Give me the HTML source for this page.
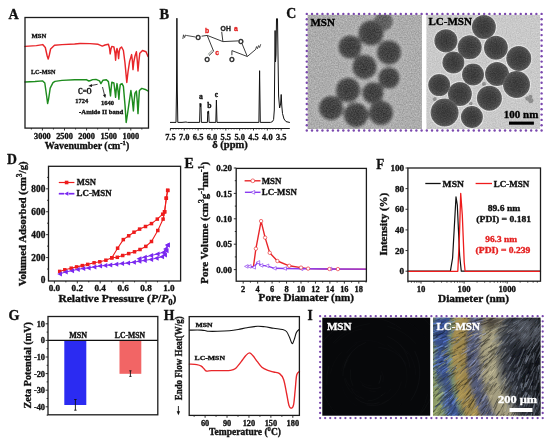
<!DOCTYPE html>
<html><head><meta charset="utf-8"><title>Figure</title>
<style>html,body{margin:0;padding:0;background:#fff;}body{width:550px;height:440px;overflow:hidden;}svg{display:block;}</style>
</head><body>
<svg width="550" height="440" viewBox="0 0 550 440" font-family="Liberation Serif, serif" font-weight="bold">
<rect width="550" height="440" fill="#fff"/>
<text x="8.5" y="18.8" font-size="14.3" text-anchor="start" fill="#111" textLength="10.2" lengthAdjust="spacingAndGlyphs"  stroke="#111" stroke-width="0.34">A</text>
<line x1="31.35" y1="128.1" x2="31.35" y2="129.5" stroke="#1c1c1c" stroke-width="0.9"/>
<line x1="53.45" y1="128.1" x2="53.45" y2="129.5" stroke="#1c1c1c" stroke-width="0.9"/>
<line x1="75.55" y1="128.1" x2="75.55" y2="129.5" stroke="#1c1c1c" stroke-width="0.9"/>
<line x1="97.65" y1="128.1" x2="97.65" y2="129.5" stroke="#1c1c1c" stroke-width="0.9"/>
<line x1="119.75" y1="128.1" x2="119.75" y2="129.5" stroke="#1c1c1c" stroke-width="0.9"/>
<line x1="141.85" y1="128.1" x2="141.85" y2="129.5" stroke="#1c1c1c" stroke-width="0.9"/>
<line x1="42.4" y1="128.1" x2="42.4" y2="130.5" stroke="#1c1c1c" stroke-width="0.9"/>
<text x="42.4" y="138.6" font-size="8.3" text-anchor="middle" fill="#111"  stroke="#111" stroke-width="0.34">3000</text>
<line x1="64.5" y1="128.1" x2="64.5" y2="130.5" stroke="#1c1c1c" stroke-width="0.9"/>
<text x="64.5" y="138.6" font-size="8.3" text-anchor="middle" fill="#111"  stroke="#111" stroke-width="0.34">2500</text>
<line x1="86.6" y1="128.1" x2="86.6" y2="130.5" stroke="#1c1c1c" stroke-width="0.9"/>
<text x="86.6" y="138.6" font-size="8.3" text-anchor="middle" fill="#111"  stroke="#111" stroke-width="0.34">2000</text>
<line x1="108.7" y1="128.1" x2="108.7" y2="130.5" stroke="#1c1c1c" stroke-width="0.9"/>
<text x="108.7" y="138.6" font-size="8.3" text-anchor="middle" fill="#111"  stroke="#111" stroke-width="0.34">1500</text>
<line x1="130.8" y1="128.1" x2="130.8" y2="130.5" stroke="#1c1c1c" stroke-width="0.9"/>
<text x="130.8" y="138.6" font-size="8.3" text-anchor="middle" fill="#111"  stroke="#111" stroke-width="0.34">1000</text>
<text x="87" y="148.7" font-size="10" text-anchor="middle" fill="#111" textLength="84.5" lengthAdjust="spacingAndGlyphs" stroke="#111" stroke-width="0.34">Wavenumber (cm<tspan dy="-3.8" font-size="6.8">-1</tspan><tspan dy="3.8">)</tspan></text>
<polyline points="25,46.4 36.4,45.6 42.7,44.6 45.3,47.5 47.2,56 48.2,59.1 49.3,55 50.6,49 54.5,45.2 62,44.6 74.6,44 80,43.5 90,43.6 98.2,44.3 102.3,46.1 105,45 108.4,44.3 109.5,48 110.2,53.9 111,49 111.8,46.4 113.9,47 115,53 115.6,60.3 116.3,52 117,48.4 118,53 118.6,58.6 119.3,51 120,48.4 121.6,47 123.4,50.5 125,63 126.8,82.5 128,72 129.6,61.4 131.6,54.6 132.3,60 133,69.6 133.8,62 135,56 136.4,51.8 137.2,60 138,71 138.8,62 139.8,53.2 142.5,50.5 146,51.8 148,56.5" fill="none" stroke="#e8262a" stroke-width="1.45" stroke-linejoin="round" stroke-linecap="round" />
<polyline points="25,82 35,81.5 42.7,80.9 44.8,83 46.5,95 47.6,103.5 48.6,99 50.2,88.2 53,82.7 55,81.4 62,80.4 74.6,79.8 86.2,79.6 88.9,81 90.5,80.5 92.7,79.6 96,79.4 99.5,80.9 100.9,83.6 103,80.2 106.4,79.8 108.4,81.6 109.7,90 110.5,95.9 111.2,88 111.8,82.3 113.9,83 115,92 115.6,97.3 116.3,89 117,83.6 118.2,92 118.9,99.3 119.6,90 120.3,84.3 122,83.6 123.4,86.4 125,105 126.2,122.5 127.5,114 128.9,104.1 130.9,90.5 132.3,100 133.4,110.9 134.2,100 135,93.2 136.4,91.1 137.3,102 138,113.6 138.8,100 139.4,90.5 141.8,88.4 146,89.8 148.4,91.1" fill="none" stroke="#1e8c1e" stroke-width="1.45" stroke-linejoin="round" stroke-linecap="round" />
<rect x="25" y="17.5" width="123.5" height="110.6" fill="none" stroke="#1c1c1c" stroke-width="1.3"/>
<text x="31.5" y="37.7" font-size="7.1" text-anchor="start" fill="#111" textLength="14.9" lengthAdjust="spacingAndGlyphs"  stroke="#111" stroke-width="0.34">MSN</text>
<text x="30.9" y="73.9" font-size="7.1" text-anchor="start" fill="#111" textLength="24.6" lengthAdjust="spacingAndGlyphs"  stroke="#111" stroke-width="0.34">LC-MSN</text>
<text x="78" y="93.7" font-size="7.2" text-anchor="start" fill="#111" textLength="13.6" lengthAdjust="spacingAndGlyphs"  stroke="#111" stroke-width="0.34">C=O</text>
<text x="75.3" y="102.9" font-size="7.0" text-anchor="start" fill="#111" textLength="12.8" lengthAdjust="spacingAndGlyphs"  stroke="#111" stroke-width="0.34">1724</text>
<text x="100.9" y="105.1" font-size="7.0" text-anchor="start" fill="#111" textLength="13.1" lengthAdjust="spacingAndGlyphs"  stroke="#111" stroke-width="0.34">1640</text>
<text x="79.1" y="114.2" font-size="7.0" text-anchor="start" fill="#111" textLength="44.2" lengthAdjust="spacingAndGlyphs"  stroke="#111" stroke-width="0.34">-Amide II band</text>
<line x1="97.6" y1="84.3" x2="90.6" y2="85.6" stroke="#111" stroke-width="0.8"/>
<polygon points="88.4,85.9 91.8,84.1 92.0,87.1" fill="#111"/>
<line x1="102.5" y1="87" x2="104.5" y2="95" stroke="#111" stroke-width="0.8"/>
<polygon points="105.3,97.9 102.9,94.9 106.0,94.2" fill="#111"/>
<text x="159.6" y="18.8" font-size="14.3" text-anchor="start" fill="#111" textLength="9.6" lengthAdjust="spacingAndGlyphs"  stroke="#111" stroke-width="0.34">B</text>
<line x1="170.1" y1="128.5" x2="289.8" y2="128.5" stroke="#1c1c1c" stroke-width="1.2"/>
<line x1="170.4" y1="128.5" x2="170.4" y2="130.5" stroke="#1c1c1c" stroke-width="0.9"/>
<text x="170.4" y="139.6" font-size="8.4" text-anchor="middle" fill="#111"  stroke="#111" stroke-width="0.34">7.5</text>
<line x1="173.17" y1="128.5" x2="173.17" y2="129.6" stroke="#1c1c1c" stroke-width="0.6"/>
<line x1="175.94" y1="128.5" x2="175.94" y2="129.6" stroke="#1c1c1c" stroke-width="0.6"/>
<line x1="178.71" y1="128.5" x2="178.71" y2="129.6" stroke="#1c1c1c" stroke-width="0.6"/>
<line x1="181.48" y1="128.5" x2="181.48" y2="129.6" stroke="#1c1c1c" stroke-width="0.6"/>
<line x1="184.25" y1="128.5" x2="184.25" y2="130.5" stroke="#1c1c1c" stroke-width="0.9"/>
<text x="184.25" y="139.6" font-size="8.4" text-anchor="middle" fill="#111"  stroke="#111" stroke-width="0.34">7.0</text>
<line x1="187.02" y1="128.5" x2="187.02" y2="129.6" stroke="#1c1c1c" stroke-width="0.6"/>
<line x1="189.79" y1="128.5" x2="189.79" y2="129.6" stroke="#1c1c1c" stroke-width="0.6"/>
<line x1="192.56" y1="128.5" x2="192.56" y2="129.6" stroke="#1c1c1c" stroke-width="0.6"/>
<line x1="195.33" y1="128.5" x2="195.33" y2="129.6" stroke="#1c1c1c" stroke-width="0.6"/>
<line x1="198.1" y1="128.5" x2="198.1" y2="130.5" stroke="#1c1c1c" stroke-width="0.9"/>
<text x="198.1" y="139.6" font-size="8.4" text-anchor="middle" fill="#111"  stroke="#111" stroke-width="0.34">6.5</text>
<line x1="200.87" y1="128.5" x2="200.87" y2="129.6" stroke="#1c1c1c" stroke-width="0.6"/>
<line x1="203.64" y1="128.5" x2="203.64" y2="129.6" stroke="#1c1c1c" stroke-width="0.6"/>
<line x1="206.41" y1="128.5" x2="206.41" y2="129.6" stroke="#1c1c1c" stroke-width="0.6"/>
<line x1="209.18" y1="128.5" x2="209.18" y2="129.6" stroke="#1c1c1c" stroke-width="0.6"/>
<line x1="211.95" y1="128.5" x2="211.95" y2="130.5" stroke="#1c1c1c" stroke-width="0.9"/>
<text x="211.95" y="139.6" font-size="8.4" text-anchor="middle" fill="#111"  stroke="#111" stroke-width="0.34">6.0</text>
<line x1="214.72" y1="128.5" x2="214.72" y2="129.6" stroke="#1c1c1c" stroke-width="0.6"/>
<line x1="217.49" y1="128.5" x2="217.49" y2="129.6" stroke="#1c1c1c" stroke-width="0.6"/>
<line x1="220.26" y1="128.5" x2="220.26" y2="129.6" stroke="#1c1c1c" stroke-width="0.6"/>
<line x1="223.03" y1="128.5" x2="223.03" y2="129.6" stroke="#1c1c1c" stroke-width="0.6"/>
<line x1="225.8" y1="128.5" x2="225.8" y2="130.5" stroke="#1c1c1c" stroke-width="0.9"/>
<text x="225.8" y="139.6" font-size="8.4" text-anchor="middle" fill="#111"  stroke="#111" stroke-width="0.34">5.5</text>
<line x1="228.57" y1="128.5" x2="228.57" y2="129.6" stroke="#1c1c1c" stroke-width="0.6"/>
<line x1="231.34" y1="128.5" x2="231.34" y2="129.6" stroke="#1c1c1c" stroke-width="0.6"/>
<line x1="234.11" y1="128.5" x2="234.11" y2="129.6" stroke="#1c1c1c" stroke-width="0.6"/>
<line x1="236.88" y1="128.5" x2="236.88" y2="129.6" stroke="#1c1c1c" stroke-width="0.6"/>
<line x1="239.65" y1="128.5" x2="239.65" y2="130.5" stroke="#1c1c1c" stroke-width="0.9"/>
<text x="239.65" y="139.6" font-size="8.4" text-anchor="middle" fill="#111"  stroke="#111" stroke-width="0.34">5.0</text>
<line x1="242.42" y1="128.5" x2="242.42" y2="129.6" stroke="#1c1c1c" stroke-width="0.6"/>
<line x1="245.19" y1="128.5" x2="245.19" y2="129.6" stroke="#1c1c1c" stroke-width="0.6"/>
<line x1="247.96" y1="128.5" x2="247.96" y2="129.6" stroke="#1c1c1c" stroke-width="0.6"/>
<line x1="250.73" y1="128.5" x2="250.73" y2="129.6" stroke="#1c1c1c" stroke-width="0.6"/>
<line x1="253.5" y1="128.5" x2="253.5" y2="130.5" stroke="#1c1c1c" stroke-width="0.9"/>
<text x="253.5" y="139.6" font-size="8.4" text-anchor="middle" fill="#111"  stroke="#111" stroke-width="0.34">4.5</text>
<line x1="256.27" y1="128.5" x2="256.27" y2="129.6" stroke="#1c1c1c" stroke-width="0.6"/>
<line x1="259.04" y1="128.5" x2="259.04" y2="129.6" stroke="#1c1c1c" stroke-width="0.6"/>
<line x1="261.81" y1="128.5" x2="261.81" y2="129.6" stroke="#1c1c1c" stroke-width="0.6"/>
<line x1="264.58" y1="128.5" x2="264.58" y2="129.6" stroke="#1c1c1c" stroke-width="0.6"/>
<line x1="267.35" y1="128.5" x2="267.35" y2="130.5" stroke="#1c1c1c" stroke-width="0.9"/>
<text x="267.35" y="139.6" font-size="8.4" text-anchor="middle" fill="#111"  stroke="#111" stroke-width="0.34">4.0</text>
<line x1="270.12" y1="128.5" x2="270.12" y2="129.6" stroke="#1c1c1c" stroke-width="0.6"/>
<line x1="272.89" y1="128.5" x2="272.89" y2="129.6" stroke="#1c1c1c" stroke-width="0.6"/>
<line x1="275.66" y1="128.5" x2="275.66" y2="129.6" stroke="#1c1c1c" stroke-width="0.6"/>
<line x1="278.43" y1="128.5" x2="278.43" y2="129.6" stroke="#1c1c1c" stroke-width="0.6"/>
<line x1="281.2" y1="128.5" x2="281.2" y2="130.5" stroke="#1c1c1c" stroke-width="0.9"/>
<text x="281.2" y="139.6" font-size="8.4" text-anchor="middle" fill="#111"  stroke="#111" stroke-width="0.34">3.5</text>
<text x="230" y="147.7" font-size="10.5" text-anchor="middle" fill="#111" textLength="35.6" lengthAdjust="spacingAndGlyphs"  stroke="#111" stroke-width="0.34">δ (ppm)</text>
<polyline points="170.4,122.4 176,122.4 176.5,90 176.9,18.2 177.3,90 177.8,122.4 182,122.4 186,122 187.5,122.4 199.6,122.4 200.1,103.3 200.5,107 200.9,103.6 201.4,122.4 207.4,122.4 207.8,111.5 208.2,113.5 208.6,110.9 209.1,122.4 215.8,122.4 216.4,100 217,122.4 258.9,122.4 259.6,70.7 260.3,122.4 270.5,122.4 272.5,121.6 273.6,119.5 274.3,110 274.8,60 275.1,30.5 275.5,62 276,55 276.5,18.7 277.5,18.7 278,55 278.6,96 279.6,108 280.6,104 281.2,94.5 281.8,106 282.5,113.5 284,119 286,121.6 289.5,122.4" fill="none" stroke="#111" stroke-width="1.0" stroke-linejoin="round" stroke-linecap="round" />
<polyline points="182.9,38.6 183.5,34.8 184.6,37.6 185.5,35 186.6,35.5 194.9,36.9" fill="none" stroke="#3a3a3a" stroke-width="0.9" stroke-linejoin="round" stroke-linecap="round" />
<text x="198.2" y="39.7" font-size="6.8" text-anchor="middle" fill="#222" font-family="Liberation Sans, sans-serif" stroke="#222" stroke-width="0.34">O</text>
<line x1="201.6" y1="36.2" x2="207.2" y2="35.4" stroke="#3a3a3a" stroke-width="1.0"/>
<line x1="207.2" y1="35.4" x2="222.9" y2="41.6" stroke="#3a3a3a" stroke-width="1.0"/>
<line x1="207.2" y1="35.4" x2="213.6" y2="51.2" stroke="#3a3a3a" stroke-width="1.0"/>
<line x1="213.6" y1="51.2" x2="209" y2="55.6" stroke="#3a3a3a" stroke-width="1.0"/>
<line x1="212.4" y1="50.1" x2="207.9" y2="54.5" stroke="#6a7a70" stroke-width="0.8"/>
<text x="207.1" y="61.7" font-size="6.8" text-anchor="middle" fill="#222" font-family="Liberation Sans, sans-serif" stroke="#222" stroke-width="0.34">O</text>
<line x1="222.9" y1="41.6" x2="221.7" y2="31.8" stroke="#3a3a3a" stroke-width="1.0"/>
<text x="220.6" y="30.7" font-size="6.8" text-anchor="start" fill="#222" font-family="Liberation Sans, sans-serif" stroke="#222" stroke-width="0.34">OH</text>
<line x1="222.9" y1="41.6" x2="238.4" y2="40.9" stroke="#3a3a3a" stroke-width="1.0"/>
<text x="240.9" y="43.5" font-size="6.8" text-anchor="middle" fill="#222" font-family="Liberation Sans, sans-serif" stroke="#222" stroke-width="0.34">O</text>
<line x1="242" y1="43.6" x2="247.3" y2="56.5" stroke="#3a3a3a" stroke-width="1.0"/>
<line x1="247.3" y1="56.5" x2="231.9" y2="50.6" stroke="#3a3a3a" stroke-width="1.0"/>
<line x1="231.9" y1="50.6" x2="231.9" y2="55.2" stroke="#3a3a3a" stroke-width="1.0"/>
<text x="231.9" y="62.3" font-size="6.8" text-anchor="middle" fill="#222" font-family="Liberation Sans, sans-serif" stroke="#222" stroke-width="0.34">O</text>
<line x1="247.3" y1="56.5" x2="255.6" y2="49.5" stroke="#3a3a3a" stroke-width="1.0"/>
<polyline points="255.6,49.5 256.5,46.6 257.5,48.7 258.5,45.6 259.6,47.5 260.6,44.6" fill="none" stroke="#3a3a3a" stroke-width="0.9" stroke-linejoin="round" stroke-linecap="round" />
<text x="205" y="32.8" font-size="6.8" text-anchor="start" fill="#e52121" font-family="Liberation Sans, sans-serif" stroke="#e52121" stroke-width="0.34">b</text>
<text x="234" y="30.7" font-size="6.8" text-anchor="start" fill="#e52121" font-family="Liberation Sans, sans-serif" stroke="#e52121" stroke-width="0.34">a</text>
<text x="215.3" y="54.9" font-size="6.8" text-anchor="start" fill="#e52121" font-family="Liberation Sans, sans-serif" stroke="#e52121" stroke-width="0.34">c</text>
<text x="200.9" y="99.2" font-size="7.6" text-anchor="middle" fill="#111"  stroke="#111" stroke-width="0.34">a</text>
<text x="209.3" y="108.2" font-size="7.6" text-anchor="middle" fill="#111"  stroke="#111" stroke-width="0.34">b</text>
<text x="216.5" y="97" font-size="7.6" text-anchor="middle" fill="#111"  stroke="#111" stroke-width="0.34">c</text>
<text x="286.2" y="17.6" font-size="14.3" text-anchor="start" fill="#111" textLength="10" lengthAdjust="spacingAndGlyphs"  stroke="#111" stroke-width="0.34">C</text>
<defs>
<filter id="grL" x="0" y="0" width="100%" height="100%" color-interpolation-filters="sRGB"><feTurbulence type="fractalNoise" baseFrequency="0.75" numOctaves="2" seed="7" result="n"/><feColorMatrix in="n" type="matrix" values="1 0 0 0 0  1 0 0 0 0  1 0 0 0 0  0 0 0 0 1" result="ng"/><feComposite in="SourceGraphic" in2="ng" operator="arithmetic" k1="0" k2="1" k3="0.26" k4="-0.13"/></filter>
<filter id="grR" x="0" y="0" width="100%" height="100%" color-interpolation-filters="sRGB"><feTurbulence type="fractalNoise" baseFrequency="0.8" numOctaves="2" seed="11" result="n"/><feColorMatrix in="n" type="matrix" values="1 0 0 0 0  1 0 0 0 0  1 0 0 0 0  0 0 0 0 1" result="ng"/><feComposite in="SourceGraphic" in2="ng" operator="arithmetic" k1="0" k2="1" k3="0.16" k4="-0.08"/></filter>
<filter id="bl1" x="-10%" y="-10%" width="120%" height="120%"><feGaussianBlur stdDeviation="1.7"/></filter>
<filter id="bl2" x="-10%" y="-10%" width="120%" height="120%"><feGaussianBlur stdDeviation="0.55"/></filter>
<radialGradient id="gl"><stop offset="0" stop-color="#3a3a3a"/><stop offset="0.55" stop-color="#424242"/><stop offset="0.85" stop-color="#4f4f4f"/><stop offset="1" stop-color="#646464"/></radialGradient>
<radialGradient id="gmm"><stop offset="0" stop-color="#3e3e3e"/><stop offset="0.7" stop-color="#474747"/><stop offset="1" stop-color="#585858"/></radialGradient>
</defs>
<svg x="307.5" y="14.8" width="114.3" height="114.2" overflow="hidden"><g filter="url(#grL)">
<rect width="100%" height="100%" fill="#acacac"/>
<g filter="url(#bl1)">
<circle cx="76" cy="6.7" r="12.2" fill="#bdbdbd" opacity="0.75"/>
<circle cx="63.5" cy="18.2" r="15.4" fill="#bdbdbd" opacity="1"/>
<circle cx="42.5" cy="32.2" r="14.4" fill="#bdbdbd" opacity="1"/>
<circle cx="81.5" cy="37.7" r="14.9" fill="#bdbdbd" opacity="1"/>
<circle cx="57" cy="52.2" r="14.9" fill="#bdbdbd" opacity="1"/>
<circle cx="81.5" cy="63.2" r="13.4" fill="#bdbdbd" opacity="1"/>
<circle cx="40.5" cy="75.2" r="14.9" fill="#bdbdbd" opacity="1"/>
<circle cx="65.5" cy="78.2" r="13.4" fill="#bdbdbd" opacity="1"/>
<circle cx="23.5" cy="93.2" r="14.9" fill="#bdbdbd" opacity="1"/>
<circle cx="48.5" cy="100.2" r="14.9" fill="#bdbdbd" opacity="1"/>
<circle cx="73.5" cy="98.2" r="14.9" fill="#bdbdbd" opacity="1"/>
<circle cx="76" cy="6.7" r="10" fill="url(#gmm)" opacity="0.75"/>
<circle cx="63.5" cy="18.2" r="13.2" fill="url(#gmm)" opacity="1"/>
<circle cx="42.5" cy="32.2" r="12.2" fill="url(#gmm)" opacity="1"/>
<circle cx="81.5" cy="37.7" r="12.7" fill="url(#gmm)" opacity="1"/>
<circle cx="57" cy="52.2" r="12.7" fill="url(#gmm)" opacity="1"/>
<circle cx="81.5" cy="63.2" r="11.2" fill="url(#gmm)" opacity="1"/>
<circle cx="40.5" cy="75.2" r="12.7" fill="url(#gmm)" opacity="1"/>
<circle cx="65.5" cy="78.2" r="11.2" fill="url(#gmm)" opacity="1"/>
<circle cx="23.5" cy="93.2" r="12.7" fill="url(#gmm)" opacity="1"/>
<circle cx="48.5" cy="100.2" r="12.7" fill="url(#gmm)" opacity="1"/>
<circle cx="73.5" cy="98.2" r="12.7" fill="url(#gmm)" opacity="1"/>
</g></g></svg>
<svg x="426.4" y="14.8" width="113.8" height="114.2" overflow="hidden"><g filter="url(#grR)">
<rect width="100%" height="100%" fill="#c9c9c9"/>
<g filter="url(#bl2)">
<circle cx="104.4" cy="85.8" r="2.6" fill="#8e8e8e"/>
<circle cx="101.1" cy="83.7" r="2.2" fill="#8e8e8e"/>
<circle cx="57.6" cy="69.2" r="2" fill="#8e8e8e"/>
<circle cx="8.4" cy="84.5" r="2" fill="#8e8e8e"/>
<circle cx="44.4" cy="88.8" r="1.8" fill="#8e8e8e"/>
<circle cx="104.1" cy="82" r="2" fill="#8e8e8e"/>
<circle cx="57.5" cy="12.2" r="13" fill="#e4e4e4"/>
<circle cx="19.5" cy="26" r="12.6" fill="#e4e4e4"/>
<circle cx="43.3" cy="32.5" r="13" fill="#e4e4e4"/>
<circle cx="69.5" cy="32.9" r="13" fill="#e4e4e4"/>
<circle cx="92.4" cy="43.7" r="13.5" fill="#e4e4e4"/>
<circle cx="27" cy="47.7" r="12" fill="#e4e4e4"/>
<circle cx="46.6" cy="59.7" r="12" fill="#e4e4e4"/>
<circle cx="70.6" cy="59.2" r="13" fill="#e4e4e4"/>
<circle cx="90.1" cy="69.7" r="14.5" fill="#e4e4e4"/>
<circle cx="12.8" cy="70.3" r="12" fill="#e4e4e4"/>
<circle cx="33.5" cy="79.2" r="13" fill="#e4e4e4"/>
<circle cx="63" cy="83.4" r="13.5" fill="#e4e4e4"/>
<circle cx="18.2" cy="97.8" r="15" fill="#e4e4e4"/>
<circle cx="45.5" cy="102.2" r="12" fill="#e4e4e4"/>
<circle cx="57.5" cy="12.2" r="12" fill="url(#gl)"/>
<circle cx="19.5" cy="26" r="11.6" fill="url(#gl)"/>
<circle cx="43.3" cy="32.5" r="12" fill="url(#gl)"/>
<circle cx="69.5" cy="32.9" r="12" fill="url(#gl)"/>
<circle cx="92.4" cy="43.7" r="12.5" fill="url(#gl)"/>
<circle cx="27" cy="47.7" r="11" fill="url(#gl)"/>
<circle cx="46.6" cy="59.7" r="11" fill="url(#gl)"/>
<circle cx="70.6" cy="59.2" r="12" fill="url(#gl)"/>
<circle cx="90.1" cy="69.7" r="13.5" fill="url(#gl)"/>
<circle cx="12.8" cy="70.3" r="11" fill="url(#gl)"/>
<circle cx="33.5" cy="79.2" r="12" fill="url(#gl)"/>
<circle cx="63" cy="83.4" r="12.5" fill="url(#gl)"/>
<circle cx="18.2" cy="97.8" r="14" fill="url(#gl)"/>
<circle cx="45.5" cy="102.2" r="11" fill="url(#gl)"/>
</g></g></svg>
<text x="310.5" y="25.6" font-size="10.8" text-anchor="start" fill="#000" textLength="24.4" lengthAdjust="spacingAndGlyphs"  stroke="#000" stroke-width="0.34">MSN</text>
<text x="428.4" y="24.8" font-size="10.8" text-anchor="start" fill="#000" textLength="43.5" lengthAdjust="spacingAndGlyphs"  stroke="#000" stroke-width="0.34">LC-MSN</text>
<text x="521.1" y="118.3" font-size="10.2" text-anchor="middle" fill="#000" textLength="34.5" lengthAdjust="spacingAndGlyphs"  stroke="#000" stroke-width="0.34">100 nm</text>
<rect x="509" y="121.6" width="24.9" height="3.1" fill="#000"/>
<g fill="#7a48ae"><circle cx="306.8" cy="13.9" r="1.2"/><circle cx="306.8" cy="130.5" r="1.2"/><circle cx="312.02" cy="13.9" r="1.2"/><circle cx="312.02" cy="130.5" r="1.2"/><circle cx="317.24" cy="13.9" r="1.2"/><circle cx="317.24" cy="130.5" r="1.2"/><circle cx="322.45" cy="13.9" r="1.2"/><circle cx="322.45" cy="130.5" r="1.2"/><circle cx="327.67" cy="13.9" r="1.2"/><circle cx="327.67" cy="130.5" r="1.2"/><circle cx="332.89" cy="13.9" r="1.2"/><circle cx="332.89" cy="130.5" r="1.2"/><circle cx="338.11" cy="13.9" r="1.2"/><circle cx="338.11" cy="130.5" r="1.2"/><circle cx="343.32" cy="13.9" r="1.2"/><circle cx="343.32" cy="130.5" r="1.2"/><circle cx="348.54" cy="13.9" r="1.2"/><circle cx="348.54" cy="130.5" r="1.2"/><circle cx="353.76" cy="13.9" r="1.2"/><circle cx="353.76" cy="130.5" r="1.2"/><circle cx="358.98" cy="13.9" r="1.2"/><circle cx="358.98" cy="130.5" r="1.2"/><circle cx="364.2" cy="13.9" r="1.2"/><circle cx="364.2" cy="130.5" r="1.2"/><circle cx="369.41" cy="13.9" r="1.2"/><circle cx="369.41" cy="130.5" r="1.2"/><circle cx="374.63" cy="13.9" r="1.2"/><circle cx="374.63" cy="130.5" r="1.2"/><circle cx="379.85" cy="13.9" r="1.2"/><circle cx="379.85" cy="130.5" r="1.2"/><circle cx="385.07" cy="13.9" r="1.2"/><circle cx="385.07" cy="130.5" r="1.2"/><circle cx="390.28" cy="13.9" r="1.2"/><circle cx="390.28" cy="130.5" r="1.2"/><circle cx="395.5" cy="13.9" r="1.2"/><circle cx="395.5" cy="130.5" r="1.2"/><circle cx="400.72" cy="13.9" r="1.2"/><circle cx="400.72" cy="130.5" r="1.2"/><circle cx="405.94" cy="13.9" r="1.2"/><circle cx="405.94" cy="130.5" r="1.2"/><circle cx="411.16" cy="13.9" r="1.2"/><circle cx="411.16" cy="130.5" r="1.2"/><circle cx="416.37" cy="13.9" r="1.2"/><circle cx="416.37" cy="130.5" r="1.2"/><circle cx="421.59" cy="13.9" r="1.2"/><circle cx="421.59" cy="130.5" r="1.2"/><circle cx="426.81" cy="13.9" r="1.2"/><circle cx="426.81" cy="130.5" r="1.2"/><circle cx="432.03" cy="13.9" r="1.2"/><circle cx="432.03" cy="130.5" r="1.2"/><circle cx="437.24" cy="13.9" r="1.2"/><circle cx="437.24" cy="130.5" r="1.2"/><circle cx="442.46" cy="13.9" r="1.2"/><circle cx="442.46" cy="130.5" r="1.2"/><circle cx="447.68" cy="13.9" r="1.2"/><circle cx="447.68" cy="130.5" r="1.2"/><circle cx="452.9" cy="13.9" r="1.2"/><circle cx="452.9" cy="130.5" r="1.2"/><circle cx="458.12" cy="13.9" r="1.2"/><circle cx="458.12" cy="130.5" r="1.2"/><circle cx="463.33" cy="13.9" r="1.2"/><circle cx="463.33" cy="130.5" r="1.2"/><circle cx="468.55" cy="13.9" r="1.2"/><circle cx="468.55" cy="130.5" r="1.2"/><circle cx="473.77" cy="13.9" r="1.2"/><circle cx="473.77" cy="130.5" r="1.2"/><circle cx="478.99" cy="13.9" r="1.2"/><circle cx="478.99" cy="130.5" r="1.2"/><circle cx="484.2" cy="13.9" r="1.2"/><circle cx="484.2" cy="130.5" r="1.2"/><circle cx="489.42" cy="13.9" r="1.2"/><circle cx="489.42" cy="130.5" r="1.2"/><circle cx="494.64" cy="13.9" r="1.2"/><circle cx="494.64" cy="130.5" r="1.2"/><circle cx="499.86" cy="13.9" r="1.2"/><circle cx="499.86" cy="130.5" r="1.2"/><circle cx="505.08" cy="13.9" r="1.2"/><circle cx="505.08" cy="130.5" r="1.2"/><circle cx="510.29" cy="13.9" r="1.2"/><circle cx="510.29" cy="130.5" r="1.2"/><circle cx="515.51" cy="13.9" r="1.2"/><circle cx="515.51" cy="130.5" r="1.2"/><circle cx="520.73" cy="13.9" r="1.2"/><circle cx="520.73" cy="130.5" r="1.2"/><circle cx="525.95" cy="13.9" r="1.2"/><circle cx="525.95" cy="130.5" r="1.2"/><circle cx="531.16" cy="13.9" r="1.2"/><circle cx="531.16" cy="130.5" r="1.2"/><circle cx="536.38" cy="13.9" r="1.2"/><circle cx="536.38" cy="130.5" r="1.2"/><circle cx="541.6" cy="13.9" r="1.2"/><circle cx="541.6" cy="130.5" r="1.2"/><circle cx="306.8" cy="19.2" r="1.2"/><circle cx="541.6" cy="19.2" r="1.2"/><circle cx="306.8" cy="24.5" r="1.2"/><circle cx="541.6" cy="24.5" r="1.2"/><circle cx="306.8" cy="29.8" r="1.2"/><circle cx="541.6" cy="29.8" r="1.2"/><circle cx="306.8" cy="35.1" r="1.2"/><circle cx="541.6" cy="35.1" r="1.2"/><circle cx="306.8" cy="40.4" r="1.2"/><circle cx="541.6" cy="40.4" r="1.2"/><circle cx="306.8" cy="45.7" r="1.2"/><circle cx="541.6" cy="45.7" r="1.2"/><circle cx="306.8" cy="51" r="1.2"/><circle cx="541.6" cy="51" r="1.2"/><circle cx="306.8" cy="56.3" r="1.2"/><circle cx="541.6" cy="56.3" r="1.2"/><circle cx="306.8" cy="61.6" r="1.2"/><circle cx="541.6" cy="61.6" r="1.2"/><circle cx="306.8" cy="66.9" r="1.2"/><circle cx="541.6" cy="66.9" r="1.2"/><circle cx="306.8" cy="72.2" r="1.2"/><circle cx="541.6" cy="72.2" r="1.2"/><circle cx="306.8" cy="77.5" r="1.2"/><circle cx="541.6" cy="77.5" r="1.2"/><circle cx="306.8" cy="82.8" r="1.2"/><circle cx="541.6" cy="82.8" r="1.2"/><circle cx="306.8" cy="88.1" r="1.2"/><circle cx="541.6" cy="88.1" r="1.2"/><circle cx="306.8" cy="93.4" r="1.2"/><circle cx="541.6" cy="93.4" r="1.2"/><circle cx="306.8" cy="98.7" r="1.2"/><circle cx="541.6" cy="98.7" r="1.2"/><circle cx="306.8" cy="104" r="1.2"/><circle cx="541.6" cy="104" r="1.2"/><circle cx="306.8" cy="109.3" r="1.2"/><circle cx="541.6" cy="109.3" r="1.2"/><circle cx="306.8" cy="114.6" r="1.2"/><circle cx="541.6" cy="114.6" r="1.2"/><circle cx="306.8" cy="119.9" r="1.2"/><circle cx="541.6" cy="119.9" r="1.2"/><circle cx="306.8" cy="125.2" r="1.2"/><circle cx="541.6" cy="125.2" r="1.2"/></g>
<text x="7" y="163.9" font-size="14.3" text-anchor="start" fill="#111" textLength="9.9" lengthAdjust="spacingAndGlyphs"  stroke="#111" stroke-width="0.34">D</text>
<line x1="65.85" y1="281" x2="65.85" y2="282.4" stroke="#1c1c1c" stroke-width="0.9"/>
<line x1="88.75" y1="281" x2="88.75" y2="282.4" stroke="#1c1c1c" stroke-width="0.9"/>
<line x1="111.65" y1="281" x2="111.65" y2="282.4" stroke="#1c1c1c" stroke-width="0.9"/>
<line x1="134.55" y1="281" x2="134.55" y2="282.4" stroke="#1c1c1c" stroke-width="0.9"/>
<line x1="157.45" y1="281" x2="157.45" y2="282.4" stroke="#1c1c1c" stroke-width="0.9"/>
<line x1="54.4" y1="281" x2="54.4" y2="283.4" stroke="#1c1c1c" stroke-width="0.9"/>
<text x="54.4" y="290.6" font-size="8.6" text-anchor="middle" fill="#111" textLength="11.4" lengthAdjust="spacingAndGlyphs"  stroke="#111" stroke-width="0.34">0.0</text>
<line x1="77.3" y1="281" x2="77.3" y2="283.4" stroke="#1c1c1c" stroke-width="0.9"/>
<text x="77.3" y="290.6" font-size="8.6" text-anchor="middle" fill="#111" textLength="11.4" lengthAdjust="spacingAndGlyphs"  stroke="#111" stroke-width="0.34">0.2</text>
<line x1="100.2" y1="281" x2="100.2" y2="283.4" stroke="#1c1c1c" stroke-width="0.9"/>
<text x="100.2" y="290.6" font-size="8.6" text-anchor="middle" fill="#111" textLength="11.4" lengthAdjust="spacingAndGlyphs"  stroke="#111" stroke-width="0.34">0.4</text>
<line x1="123.1" y1="281" x2="123.1" y2="283.4" stroke="#1c1c1c" stroke-width="0.9"/>
<text x="123.1" y="290.6" font-size="8.6" text-anchor="middle" fill="#111" textLength="11.4" lengthAdjust="spacingAndGlyphs"  stroke="#111" stroke-width="0.34">0.6</text>
<line x1="146" y1="281" x2="146" y2="283.4" stroke="#1c1c1c" stroke-width="0.9"/>
<text x="146" y="290.6" font-size="8.6" text-anchor="middle" fill="#111" textLength="11.4" lengthAdjust="spacingAndGlyphs"  stroke="#111" stroke-width="0.34">0.8</text>
<line x1="168.9" y1="281" x2="168.9" y2="283.4" stroke="#1c1c1c" stroke-width="0.9"/>
<text x="168.9" y="290.6" font-size="8.6" text-anchor="middle" fill="#111" textLength="11.4" lengthAdjust="spacingAndGlyphs"  stroke="#111" stroke-width="0.34">1.0</text>
<line x1="48.5" y1="269.04" x2="47.1" y2="269.04" stroke="#1c1c1c" stroke-width="0.9"/>
<line x1="48.5" y1="246.12" x2="47.1" y2="246.12" stroke="#1c1c1c" stroke-width="0.9"/>
<line x1="48.5" y1="223.2" x2="47.1" y2="223.2" stroke="#1c1c1c" stroke-width="0.9"/>
<line x1="48.5" y1="200.28" x2="47.1" y2="200.28" stroke="#1c1c1c" stroke-width="0.9"/>
<line x1="48.5" y1="177.36" x2="47.1" y2="177.36" stroke="#1c1c1c" stroke-width="0.9"/>
<line x1="48.5" y1="257.58" x2="46.1" y2="257.58" stroke="#1c1c1c" stroke-width="0.9"/>
<text x="45.3" y="260.78" font-size="9.3" text-anchor="end" fill="#111"  stroke="#111" stroke-width="0.34">200</text>
<line x1="48.5" y1="234.66" x2="46.1" y2="234.66" stroke="#1c1c1c" stroke-width="0.9"/>
<text x="45.3" y="237.86" font-size="9.3" text-anchor="end" fill="#111"  stroke="#111" stroke-width="0.34">400</text>
<line x1="48.5" y1="211.74" x2="46.1" y2="211.74" stroke="#1c1c1c" stroke-width="0.9"/>
<text x="45.3" y="214.94" font-size="9.3" text-anchor="end" fill="#111"  stroke="#111" stroke-width="0.34">600</text>
<line x1="48.5" y1="188.82" x2="46.1" y2="188.82" stroke="#1c1c1c" stroke-width="0.9"/>
<text x="45.3" y="192.02" font-size="9.3" text-anchor="end" fill="#111"  stroke="#111" stroke-width="0.34">800</text>
<text x="45.3" y="283.3" font-size="9.3" text-anchor="end" fill="#111"  stroke="#111" stroke-width="0.34">0</text>
<text x="117.4" y="302.3" font-size="10.7" text-anchor="middle" fill="#111" textLength="118" lengthAdjust="spacingAndGlyphs" stroke="#111" stroke-width="0.34">Relative Pressure (<tspan font-style="italic">P</tspan>/<tspan font-style="italic">P</tspan><tspan font-size="8" dy="2.6">0</tspan><tspan dy="-2.6">)</tspan></text>
<text x="25.8" y="223.8" font-size="10.7" text-anchor="middle" fill="#111" textLength="125" lengthAdjust="spacingAndGlyphs" transform="rotate(-90 25.8 223.8)" stroke="#111" stroke-width="0.34">Volumed Adsorbed (cm<tspan font-size="7.5" dy="-4">3</tspan><tspan dy="4">/g)</tspan></text>
<polyline points="59.7,271.4 64.8,269.8 71.2,268.2 76.6,266.9 82.3,265.6 87.7,264.4 94.1,262.8 99.8,261.8 105.9,260.2 111.8,257.8 117.3,257.3 122.7,255.5 128.7,253.6 134.5,251.8 140,249.5 145.8,246.4 151.5,241.5 157.8,230.5 163.1,219.1 164.7,211.8 166.3,198.2 167.7,190.4" fill="none" stroke="#ee1c1c" stroke-width="1.1" stroke-linejoin="round" stroke-linecap="round" />
<polyline points="111.8,257.8 117.6,248.2 123.3,239.6 128.7,235.8 134,232.2 139.6,229.1 145.5,226.5 151.5,223.6 157.3,219.1 162.7,214.2 164.5,211.8 166.3,198.2 167.7,190.4" fill="none" stroke="#ee1c1c" stroke-width="1.1" stroke-linejoin="round" stroke-linecap="round" />
<rect x="57.95" y="269.65" width="3.5" height="3.5" fill="#ee1c1c"/>
<rect x="63.05" y="268.05" width="3.5" height="3.5" fill="#ee1c1c"/>
<rect x="69.45" y="266.45" width="3.5" height="3.5" fill="#ee1c1c"/>
<rect x="74.85" y="265.15" width="3.5" height="3.5" fill="#ee1c1c"/>
<rect x="80.55" y="263.85" width="3.5" height="3.5" fill="#ee1c1c"/>
<rect x="85.95" y="262.65" width="3.5" height="3.5" fill="#ee1c1c"/>
<rect x="92.35" y="261.05" width="3.5" height="3.5" fill="#ee1c1c"/>
<rect x="98.05" y="260.05" width="3.5" height="3.5" fill="#ee1c1c"/>
<rect x="104.15" y="258.45" width="3.5" height="3.5" fill="#ee1c1c"/>
<rect x="110.05" y="256.05" width="3.5" height="3.5" fill="#ee1c1c"/>
<rect x="115.55" y="255.55" width="3.5" height="3.5" fill="#ee1c1c"/>
<rect x="120.95" y="253.75" width="3.5" height="3.5" fill="#ee1c1c"/>
<rect x="126.95" y="251.85" width="3.5" height="3.5" fill="#ee1c1c"/>
<rect x="132.75" y="250.05" width="3.5" height="3.5" fill="#ee1c1c"/>
<rect x="138.25" y="247.75" width="3.5" height="3.5" fill="#ee1c1c"/>
<rect x="144.05" y="244.65" width="3.5" height="3.5" fill="#ee1c1c"/>
<rect x="149.75" y="239.75" width="3.5" height="3.5" fill="#ee1c1c"/>
<rect x="156.05" y="228.75" width="3.5" height="3.5" fill="#ee1c1c"/>
<rect x="161.35" y="217.35" width="3.5" height="3.5" fill="#ee1c1c"/>
<rect x="162.95" y="210.05" width="3.5" height="3.5" fill="#ee1c1c"/>
<rect x="164.55" y="196.45" width="3.5" height="3.5" fill="#ee1c1c"/>
<rect x="165.95" y="188.65" width="3.5" height="3.5" fill="#ee1c1c"/>
<rect x="110.05" y="256.05" width="3.5" height="3.5" fill="#ee1c1c"/>
<rect x="115.85" y="246.45" width="3.5" height="3.5" fill="#ee1c1c"/>
<rect x="121.55" y="237.85" width="3.5" height="3.5" fill="#ee1c1c"/>
<rect x="126.95" y="234.05" width="3.5" height="3.5" fill="#ee1c1c"/>
<rect x="132.25" y="230.45" width="3.5" height="3.5" fill="#ee1c1c"/>
<rect x="137.85" y="227.35" width="3.5" height="3.5" fill="#ee1c1c"/>
<rect x="143.75" y="224.75" width="3.5" height="3.5" fill="#ee1c1c"/>
<rect x="149.75" y="221.85" width="3.5" height="3.5" fill="#ee1c1c"/>
<rect x="155.55" y="217.35" width="3.5" height="3.5" fill="#ee1c1c"/>
<rect x="160.95" y="212.45" width="3.5" height="3.5" fill="#ee1c1c"/>
<rect x="162.75" y="210.05" width="3.5" height="3.5" fill="#ee1c1c"/>
<rect x="164.55" y="196.45" width="3.5" height="3.5" fill="#ee1c1c"/>
<rect x="165.95" y="188.65" width="3.5" height="3.5" fill="#ee1c1c"/>
<polyline points="59.7,273.9 65.5,272 71.8,270.7 77.5,269.4 83,268.5 88.4,267.9 94.1,266.9 99.8,266 105,265.5 110,264.9 116,264.3 121.8,263.6 127.8,263 133.6,262.2 139.1,261.3 144.5,260.4 150.9,259.4 156.4,258.3 161.8,256.8 164.7,254.9 166.3,250.7 167.5,245.1" fill="none" stroke="#7a28f0" stroke-width="1.0" stroke-linejoin="round" stroke-linecap="round" />
<polyline points="139.1,258.7 144.5,257.2 150.9,255.6 157.3,254 163.1,252.4 165.5,249.1 167.5,245.1" fill="none" stroke="#7a28f0" stroke-width="1.0" stroke-linejoin="round" stroke-linecap="round" />
<polygon points="57.2,273.9 61.95,271.4 61.95,276.4" fill="#7a28f0"/>
<polygon points="63,272 67.75,269.5 67.75,274.5" fill="#7a28f0"/>
<polygon points="69.3,270.7 74.05,268.2 74.05,273.2" fill="#7a28f0"/>
<polygon points="75,269.4 79.75,266.9 79.75,271.9" fill="#7a28f0"/>
<polygon points="80.5,268.5 85.25,266 85.25,271" fill="#7a28f0"/>
<polygon points="85.9,267.9 90.65,265.4 90.65,270.4" fill="#7a28f0"/>
<polygon points="91.6,266.9 96.35,264.4 96.35,269.4" fill="#7a28f0"/>
<polygon points="97.3,266 102.05,263.5 102.05,268.5" fill="#7a28f0"/>
<polygon points="102.5,265.5 107.25,263 107.25,268" fill="#7a28f0"/>
<polygon points="107.5,264.9 112.25,262.4 112.25,267.4" fill="#7a28f0"/>
<polygon points="113.5,264.3 118.25,261.8 118.25,266.8" fill="#7a28f0"/>
<polygon points="119.3,263.6 124.05,261.1 124.05,266.1" fill="#7a28f0"/>
<polygon points="125.3,263 130.05,260.5 130.05,265.5" fill="#7a28f0"/>
<polygon points="131.1,262.2 135.85,259.7 135.85,264.7" fill="#7a28f0"/>
<polygon points="136.6,261.3 141.35,258.8 141.35,263.8" fill="#7a28f0"/>
<polygon points="142,260.4 146.75,257.9 146.75,262.9" fill="#7a28f0"/>
<polygon points="148.4,259.4 153.15,256.9 153.15,261.9" fill="#7a28f0"/>
<polygon points="153.9,258.3 158.65,255.8 158.65,260.8" fill="#7a28f0"/>
<polygon points="159.3,256.8 164.05,254.3 164.05,259.3" fill="#7a28f0"/>
<polygon points="162.2,254.9 166.95,252.4 166.95,257.4" fill="#7a28f0"/>
<polygon points="163.8,250.7 168.55,248.2 168.55,253.2" fill="#7a28f0"/>
<polygon points="165,245.1 169.75,242.6 169.75,247.6" fill="#7a28f0"/>
<polygon points="136.6,258.7 141.35,256.2 141.35,261.2" fill="#7a28f0"/>
<polygon points="142,257.2 146.75,254.7 146.75,259.7" fill="#7a28f0"/>
<polygon points="148.4,255.6 153.15,253.1 153.15,258.1" fill="#7a28f0"/>
<polygon points="154.8,254 159.55,251.5 159.55,256.5" fill="#7a28f0"/>
<polygon points="160.6,252.4 165.35,249.9 165.35,254.9" fill="#7a28f0"/>
<polygon points="163,249.1 167.75,246.6 167.75,251.6" fill="#7a28f0"/>
<polygon points="165,245.1 169.75,242.6 169.75,247.6" fill="#7a28f0"/>
<rect x="48.5" y="166.3" width="132.1" height="114.7" fill="none" stroke="#1c1c1c" stroke-width="1.3"/>
<line x1="58.8" y1="182.5" x2="74.4" y2="182.5" stroke="#ee1c1c" stroke-width="1.2"/>
<rect x="64.8" y="180.7" width="3.6" height="3.6" fill="#ee1c1c"/>
<line x1="58.8" y1="193.7" x2="64.2" y2="193.7" stroke="#7a28f0" stroke-width="1.7"/>
<line x1="68.6" y1="193.7" x2="74.4" y2="193.7" stroke="#7a28f0" stroke-width="1.7"/>
<polygon points="64.3,193.7 68.29,191.6 68.29,195.8" fill="#7a28f0"/>
<text x="76.8" y="185.4" font-size="8.8" text-anchor="start" fill="#111" textLength="19.1" lengthAdjust="spacingAndGlyphs"  stroke="#111" stroke-width="0.34">MSN</text>
<text x="76.6" y="195.8" font-size="8.8" text-anchor="start" fill="#111" textLength="35" lengthAdjust="spacingAndGlyphs"  stroke="#111" stroke-width="0.34">LC-MSN</text>
<text x="184.4" y="167.9" font-size="14.3" text-anchor="start" fill="#111" textLength="9.3" lengthAdjust="spacingAndGlyphs"  stroke="#111" stroke-width="0.34">E</text>
<line x1="250.42" y1="281.2" x2="250.42" y2="282.6" stroke="#1c1c1c" stroke-width="0.9"/>
<line x1="264.88" y1="281.2" x2="264.88" y2="282.6" stroke="#1c1c1c" stroke-width="0.9"/>
<line x1="279.32" y1="281.2" x2="279.32" y2="282.6" stroke="#1c1c1c" stroke-width="0.9"/>
<line x1="293.77" y1="281.2" x2="293.77" y2="282.6" stroke="#1c1c1c" stroke-width="0.9"/>
<line x1="308.22" y1="281.2" x2="308.22" y2="282.6" stroke="#1c1c1c" stroke-width="0.9"/>
<line x1="322.67" y1="281.2" x2="322.67" y2="282.6" stroke="#1c1c1c" stroke-width="0.9"/>
<line x1="337.12" y1="281.2" x2="337.12" y2="282.6" stroke="#1c1c1c" stroke-width="0.9"/>
<line x1="351.57" y1="281.2" x2="351.57" y2="282.6" stroke="#1c1c1c" stroke-width="0.9"/>
<line x1="366.02" y1="281.2" x2="366.02" y2="282.6" stroke="#1c1c1c" stroke-width="0.9"/>
<line x1="243.2" y1="281.2" x2="243.2" y2="283.6" stroke="#1c1c1c" stroke-width="0.9"/>
<text x="243.2" y="292.2" font-size="8.4" text-anchor="middle" fill="#111"  stroke="#111" stroke-width="0.34">2</text>
<line x1="257.65" y1="281.2" x2="257.65" y2="283.6" stroke="#1c1c1c" stroke-width="0.9"/>
<text x="257.65" y="292.2" font-size="8.4" text-anchor="middle" fill="#111"  stroke="#111" stroke-width="0.34">4</text>
<line x1="272.1" y1="281.2" x2="272.1" y2="283.6" stroke="#1c1c1c" stroke-width="0.9"/>
<text x="272.1" y="292.2" font-size="8.4" text-anchor="middle" fill="#111"  stroke="#111" stroke-width="0.34">6</text>
<line x1="286.55" y1="281.2" x2="286.55" y2="283.6" stroke="#1c1c1c" stroke-width="0.9"/>
<text x="286.55" y="292.2" font-size="8.4" text-anchor="middle" fill="#111"  stroke="#111" stroke-width="0.34">8</text>
<line x1="301" y1="281.2" x2="301" y2="283.6" stroke="#1c1c1c" stroke-width="0.9"/>
<text x="301" y="292.2" font-size="8.4" text-anchor="middle" fill="#111"  stroke="#111" stroke-width="0.34">10</text>
<line x1="315.45" y1="281.2" x2="315.45" y2="283.6" stroke="#1c1c1c" stroke-width="0.9"/>
<text x="315.45" y="292.2" font-size="8.4" text-anchor="middle" fill="#111"  stroke="#111" stroke-width="0.34">12</text>
<line x1="329.9" y1="281.2" x2="329.9" y2="283.6" stroke="#1c1c1c" stroke-width="0.9"/>
<text x="329.9" y="292.2" font-size="8.4" text-anchor="middle" fill="#111"  stroke="#111" stroke-width="0.34">14</text>
<line x1="344.35" y1="281.2" x2="344.35" y2="283.6" stroke="#1c1c1c" stroke-width="0.9"/>
<text x="344.35" y="292.2" font-size="8.4" text-anchor="middle" fill="#111"  stroke="#111" stroke-width="0.34">16</text>
<line x1="358.8" y1="281.2" x2="358.8" y2="283.6" stroke="#1c1c1c" stroke-width="0.9"/>
<text x="358.8" y="292.2" font-size="8.4" text-anchor="middle" fill="#111"  stroke="#111" stroke-width="0.34">18</text>
<line x1="236.2" y1="256.9" x2="234.8" y2="256.9" stroke="#1c1c1c" stroke-width="0.9"/>
<line x1="236.2" y1="231.5" x2="234.8" y2="231.5" stroke="#1c1c1c" stroke-width="0.9"/>
<line x1="236.2" y1="206.1" x2="234.8" y2="206.1" stroke="#1c1c1c" stroke-width="0.9"/>
<line x1="236.2" y1="180.7" x2="234.8" y2="180.7" stroke="#1c1c1c" stroke-width="0.9"/>
<line x1="236.2" y1="269.6" x2="233.8" y2="269.6" stroke="#1c1c1c" stroke-width="0.9"/>
<text x="232" y="272.7" font-size="9.0" text-anchor="end" fill="#111"  stroke="#111" stroke-width="0.34">0.00</text>
<line x1="236.2" y1="244.2" x2="233.8" y2="244.2" stroke="#1c1c1c" stroke-width="0.9"/>
<text x="232" y="247.3" font-size="9.0" text-anchor="end" fill="#111"  stroke="#111" stroke-width="0.34">0.05</text>
<line x1="236.2" y1="218.8" x2="233.8" y2="218.8" stroke="#1c1c1c" stroke-width="0.9"/>
<text x="232" y="221.9" font-size="9.0" text-anchor="end" fill="#111"  stroke="#111" stroke-width="0.34">0.10</text>
<line x1="236.2" y1="193.4" x2="233.8" y2="193.4" stroke="#1c1c1c" stroke-width="0.9"/>
<text x="232" y="196.5" font-size="9.0" text-anchor="end" fill="#111"  stroke="#111" stroke-width="0.34">0.15</text>
<line x1="236.2" y1="168" x2="233.8" y2="168" stroke="#1c1c1c" stroke-width="0.9"/>
<text x="232" y="171.1" font-size="9.0" text-anchor="end" fill="#111"  stroke="#111" stroke-width="0.34">0.20</text>
<text x="306.3" y="301.4" font-size="10.6" text-anchor="middle" fill="#111" textLength="95.4" lengthAdjust="spacingAndGlyphs"  stroke="#111" stroke-width="0.34">Pore Diamater (nm)</text>
<text x="207.9" y="222.8" font-size="10.6" text-anchor="middle" fill="#111" textLength="122" lengthAdjust="spacingAndGlyphs" transform="rotate(-90 207.9 222.8)" stroke="#111" stroke-width="0.34">Pore Volume (cm<tspan font-size="7.4" dy="-4">3</tspan><tspan dy="4">g</tspan><tspan font-size="7.4" dy="-4">-1</tspan><tspan dy="4">nm</tspan><tspan font-size="7.4" dy="-4">-1</tspan><tspan dy="4">)</tspan></text>
<polyline points="246.3,266.4 249.3,266.4 253.4,266.9 255.9,248.7 261.1,221.1 265.1,237.6 269.7,252.8 277.4,261 289.2,265.8 301,267.6 308.1,268.6 329.4,269 337.9,269.1 366,269.2" fill="none" stroke="#e8262a" stroke-width="1.4" stroke-linejoin="round" stroke-linecap="round" />
<polyline points="246.3,266.4 249.3,266.4 253.7,267.3 257.9,262.4 261.1,265.4 267,265.8 274.4,268.3 284.7,268.5 301,268.8 330,269 366,269.1" fill="none" stroke="#8a3cf0" stroke-width="1.4" stroke-linejoin="round" stroke-linecap="round" />
<polygon points="244.5,266.4 248.1,264.6 248.1,268.2" fill="#fff" stroke="#8a3cf0" stroke-width="0.65"/>
<polygon points="247.5,266.4 251.1,264.6 251.1,268.2" fill="#fff" stroke="#8a3cf0" stroke-width="0.65"/>
<polygon points="251.9,267.3 255.5,265.5 255.5,269.1" fill="#fff" stroke="#8a3cf0" stroke-width="0.65"/>
<polygon points="256.1,262.4 259.7,260.6 259.7,264.2" fill="#fff" stroke="#8a3cf0" stroke-width="0.65"/>
<polygon points="259.3,265.4 262.9,263.6 262.9,267.2" fill="#fff" stroke="#8a3cf0" stroke-width="0.65"/>
<polygon points="265.2,265.8 268.8,264 268.8,267.6" fill="#fff" stroke="#8a3cf0" stroke-width="0.65"/>
<polygon points="272.6,268.3 276.2,266.5 276.2,270.1" fill="#fff" stroke="#8a3cf0" stroke-width="0.65"/>
<polygon points="282.9,268.5 286.5,266.7 286.5,270.3" fill="#fff" stroke="#8a3cf0" stroke-width="0.65"/>
<polygon points="299.2,268.8 302.8,267 302.8,270.6" fill="#fff" stroke="#8a3cf0" stroke-width="0.65"/>
<polygon points="328.2,269 331.8,267.2 331.8,270.8" fill="#fff" stroke="#8a3cf0" stroke-width="0.65"/>
<circle cx="255.9" cy="248.7" r="1.7" fill="#fff" stroke="#e8262a" stroke-width="0.65"/>
<circle cx="261.1" cy="221.1" r="1.7" fill="#fff" stroke="#e8262a" stroke-width="0.65"/>
<circle cx="265.1" cy="237.6" r="1.7" fill="#fff" stroke="#e8262a" stroke-width="0.65"/>
<circle cx="269.7" cy="252.8" r="1.7" fill="#fff" stroke="#e8262a" stroke-width="0.65"/>
<circle cx="277.4" cy="261" r="1.7" fill="#fff" stroke="#e8262a" stroke-width="0.65"/>
<circle cx="289.2" cy="265.8" r="1.7" fill="#fff" stroke="#e8262a" stroke-width="0.65"/>
<circle cx="301" cy="267.6" r="1.7" fill="#fff" stroke="#e8262a" stroke-width="0.65"/>
<circle cx="308.1" cy="268.6" r="1.7" fill="#fff" stroke="#e8262a" stroke-width="0.65"/>
<circle cx="329.4" cy="269" r="1.7" fill="#fff" stroke="#e8262a" stroke-width="0.65"/>
<circle cx="337.9" cy="269.1" r="1.7" fill="#fff" stroke="#e8262a" stroke-width="0.65"/>
<rect x="236.2" y="168.4" width="130.2" height="112.8" fill="none" stroke="#1c1c1c" stroke-width="1.3"/>
<line x1="244.6" y1="180.8" x2="260.5" y2="180.8" stroke="#e8262a" stroke-width="1.4"/>
<circle cx="252.8" cy="180.8" r="1.9" fill="#fff" stroke="#e8262a" stroke-width="0.65"/>
<line x1="244.9" y1="192.3" x2="260.5" y2="192.3" stroke="#8a3cf0" stroke-width="1.4"/>
<polygon points="250.9,192.3 254.7,190.4 254.7,194.2" fill="#fff" stroke="#8a3cf0" stroke-width="0.65"/>
<text x="261.8" y="183.6" font-size="8.8" text-anchor="start" fill="#111" textLength="19.6" lengthAdjust="spacingAndGlyphs"  stroke="#111" stroke-width="0.34">MSN</text>
<text x="261.8" y="195.2" font-size="8.8" text-anchor="start" fill="#111" textLength="35" lengthAdjust="spacingAndGlyphs"  stroke="#111" stroke-width="0.34">LC-MSN</text>
<text x="376.3" y="169.2" font-size="14.3" text-anchor="start" fill="#111" textLength="8" lengthAdjust="spacingAndGlyphs"  stroke="#111" stroke-width="0.34">F</text>
<line x1="408.03" y1="281.2" x2="408.03" y2="282.6" stroke="#1c1c1c" stroke-width="0.9"/>
<line x1="411.44" y1="281.2" x2="411.44" y2="282.6" stroke="#1c1c1c" stroke-width="0.9"/>
<line x1="414.32" y1="281.2" x2="414.32" y2="282.6" stroke="#1c1c1c" stroke-width="0.9"/>
<line x1="416.82" y1="281.2" x2="416.82" y2="282.6" stroke="#1c1c1c" stroke-width="0.9"/>
<line x1="419.03" y1="281.2" x2="419.03" y2="282.6" stroke="#1c1c1c" stroke-width="0.9"/>
<line x1="433.97" y1="281.2" x2="433.97" y2="282.6" stroke="#1c1c1c" stroke-width="0.9"/>
<line x1="441.56" y1="281.2" x2="441.56" y2="282.6" stroke="#1c1c1c" stroke-width="0.9"/>
<line x1="446.95" y1="281.2" x2="446.95" y2="282.6" stroke="#1c1c1c" stroke-width="0.9"/>
<line x1="451.13" y1="281.2" x2="451.13" y2="282.6" stroke="#1c1c1c" stroke-width="0.9"/>
<line x1="454.54" y1="281.2" x2="454.54" y2="282.6" stroke="#1c1c1c" stroke-width="0.9"/>
<line x1="457.42" y1="281.2" x2="457.42" y2="282.6" stroke="#1c1c1c" stroke-width="0.9"/>
<line x1="459.92" y1="281.2" x2="459.92" y2="282.6" stroke="#1c1c1c" stroke-width="0.9"/>
<line x1="462.13" y1="281.2" x2="462.13" y2="282.6" stroke="#1c1c1c" stroke-width="0.9"/>
<line x1="477.07" y1="281.2" x2="477.07" y2="282.6" stroke="#1c1c1c" stroke-width="0.9"/>
<line x1="484.66" y1="281.2" x2="484.66" y2="282.6" stroke="#1c1c1c" stroke-width="0.9"/>
<line x1="490.05" y1="281.2" x2="490.05" y2="282.6" stroke="#1c1c1c" stroke-width="0.9"/>
<line x1="494.23" y1="281.2" x2="494.23" y2="282.6" stroke="#1c1c1c" stroke-width="0.9"/>
<line x1="497.64" y1="281.2" x2="497.64" y2="282.6" stroke="#1c1c1c" stroke-width="0.9"/>
<line x1="500.52" y1="281.2" x2="500.52" y2="282.6" stroke="#1c1c1c" stroke-width="0.9"/>
<line x1="503.02" y1="281.2" x2="503.02" y2="282.6" stroke="#1c1c1c" stroke-width="0.9"/>
<line x1="505.23" y1="281.2" x2="505.23" y2="282.6" stroke="#1c1c1c" stroke-width="0.9"/>
<line x1="520.17" y1="281.2" x2="520.17" y2="282.6" stroke="#1c1c1c" stroke-width="0.9"/>
<line x1="527.76" y1="281.2" x2="527.76" y2="282.6" stroke="#1c1c1c" stroke-width="0.9"/>
<line x1="533.15" y1="281.2" x2="533.15" y2="282.6" stroke="#1c1c1c" stroke-width="0.9"/>
<line x1="537.33" y1="281.2" x2="537.33" y2="282.6" stroke="#1c1c1c" stroke-width="0.9"/>
<line x1="421" y1="281.2" x2="421" y2="283.6" stroke="#1c1c1c" stroke-width="0.9"/>
<text x="421" y="292.3" font-size="8.7" text-anchor="middle" fill="#111"  stroke="#111" stroke-width="0.34">10</text>
<line x1="464.1" y1="281.2" x2="464.1" y2="283.6" stroke="#1c1c1c" stroke-width="0.9"/>
<text x="464.1" y="292.3" font-size="8.7" text-anchor="middle" fill="#111"  stroke="#111" stroke-width="0.34">100</text>
<line x1="507.2" y1="281.2" x2="507.2" y2="283.6" stroke="#1c1c1c" stroke-width="0.9"/>
<text x="507.2" y="292.3" font-size="8.7" text-anchor="middle" fill="#111"  stroke="#111" stroke-width="0.34">1000</text>
<line x1="407.9" y1="271.2" x2="405.5" y2="271.2" stroke="#1c1c1c" stroke-width="0.9"/>
<text x="404.2" y="274.3" font-size="9.2" text-anchor="end" fill="#111"  stroke="#111" stroke-width="0.34">0</text>
<line x1="407.9" y1="250.56" x2="405.5" y2="250.56" stroke="#1c1c1c" stroke-width="0.9"/>
<text x="404.2" y="253.66" font-size="9.2" text-anchor="end" fill="#111"  stroke="#111" stroke-width="0.34">20</text>
<line x1="407.9" y1="229.92" x2="405.5" y2="229.92" stroke="#1c1c1c" stroke-width="0.9"/>
<text x="404.2" y="233.02" font-size="9.2" text-anchor="end" fill="#111"  stroke="#111" stroke-width="0.34">40</text>
<line x1="407.9" y1="209.28" x2="405.5" y2="209.28" stroke="#1c1c1c" stroke-width="0.9"/>
<text x="404.2" y="212.38" font-size="9.2" text-anchor="end" fill="#111"  stroke="#111" stroke-width="0.34">60</text>
<line x1="407.9" y1="188.64" x2="405.5" y2="188.64" stroke="#1c1c1c" stroke-width="0.9"/>
<text x="404.2" y="191.74" font-size="9.2" text-anchor="end" fill="#111"  stroke="#111" stroke-width="0.34">80</text>
<line x1="407.9" y1="168" x2="405.5" y2="168" stroke="#1c1c1c" stroke-width="0.9"/>
<text x="404.2" y="171.1" font-size="9.2" text-anchor="end" fill="#111"  stroke="#111" stroke-width="0.34">100</text>
<text x="473.5" y="301.6" font-size="10.6" text-anchor="middle" fill="#111" textLength="71" lengthAdjust="spacingAndGlyphs"  stroke="#111" stroke-width="0.34">Diameter (nm)</text>
<text x="387.2" y="224.1" font-size="10.6" text-anchor="middle" fill="#111" textLength="62.8" lengthAdjust="spacingAndGlyphs" transform="rotate(-90 387.2 224.1)"  stroke="#111" stroke-width="0.34">Intensity (%)</text>
<polyline points="407.9,271.2 450.4,271.2 452.6,258 456,196.8 457.3,205 459.6,255 461.3,271.2 540.5,271.2" fill="none" stroke="#111" stroke-width="1.2" stroke-linejoin="round" stroke-linecap="round" />
<polyline points="407.9,271.3 457.8,271.3 459.3,240 460.7,193.4 462.3,215 464.2,262 465.1,271.3 540.5,271.3" fill="none" stroke="#ee1c1c" stroke-width="1.3" stroke-linejoin="round" stroke-linecap="round" />
<rect x="407.9" y="168" width="132.6" height="113.2" fill="none" stroke="#1c1c1c" stroke-width="1.3"/>
<line x1="425.3" y1="183.5" x2="440.7" y2="183.5" stroke="#111" stroke-width="1.3"/>
<line x1="475.6" y1="183.5" x2="492" y2="183.5" stroke="#ee1c1c" stroke-width="1.3"/>
<text x="442.6" y="186.5" font-size="8.8" text-anchor="start" fill="#111" textLength="21.3" lengthAdjust="spacingAndGlyphs"  stroke="#111" stroke-width="0.34">MSN</text>
<text x="493.8" y="186.5" font-size="8.8" text-anchor="start" fill="#111" textLength="35.5" lengthAdjust="spacingAndGlyphs"  stroke="#111" stroke-width="0.34">LC-MSN</text>
<text x="504" y="210.8" font-size="9.0" text-anchor="middle" fill="#111" textLength="32.5" lengthAdjust="spacingAndGlyphs"  stroke="#111" stroke-width="0.34">89.6 nm</text>
<text x="503.7" y="222" font-size="9.0" text-anchor="middle" fill="#111" textLength="54.7" lengthAdjust="spacingAndGlyphs"  stroke="#111" stroke-width="0.34">(PDI) = 0.181</text>
<text x="501.1" y="242" font-size="9.0" text-anchor="middle" fill="#e52121" textLength="31.8" lengthAdjust="spacingAndGlyphs"  stroke="#e52121" stroke-width="0.34">96.3 nm</text>
<text x="503" y="253.2" font-size="9.0" text-anchor="middle" fill="#e52121" textLength="54.8" lengthAdjust="spacingAndGlyphs"  stroke="#e52121" stroke-width="0.34">(PDI) = 0.239</text>
<text x="8.5" y="320" font-size="14.3" text-anchor="start" fill="#111" textLength="11" lengthAdjust="spacingAndGlyphs"  stroke="#111" stroke-width="0.34">G</text>
<line x1="48" y1="415.1" x2="46.6" y2="415.1" stroke="#1c1c1c" stroke-width="0.9"/>
<line x1="48" y1="398.5" x2="46.6" y2="398.5" stroke="#1c1c1c" stroke-width="0.9"/>
<line x1="48" y1="381.9" x2="46.6" y2="381.9" stroke="#1c1c1c" stroke-width="0.9"/>
<line x1="48" y1="365.3" x2="46.6" y2="365.3" stroke="#1c1c1c" stroke-width="0.9"/>
<line x1="48" y1="348.7" x2="46.6" y2="348.7" stroke="#1c1c1c" stroke-width="0.9"/>
<line x1="48" y1="332.1" x2="46.6" y2="332.1" stroke="#1c1c1c" stroke-width="0.9"/>
<line x1="48" y1="406.8" x2="45.6" y2="406.8" stroke="#1c1c1c" stroke-width="0.9"/>
<text x="45" y="409.7" font-size="8.3" text-anchor="end" fill="#111"  stroke="#111" stroke-width="0.34">-40</text>
<line x1="48" y1="390.2" x2="45.6" y2="390.2" stroke="#1c1c1c" stroke-width="0.9"/>
<text x="45" y="393.1" font-size="8.3" text-anchor="end" fill="#111"  stroke="#111" stroke-width="0.34">-30</text>
<line x1="48" y1="373.6" x2="45.6" y2="373.6" stroke="#1c1c1c" stroke-width="0.9"/>
<text x="45" y="376.5" font-size="8.3" text-anchor="end" fill="#111"  stroke="#111" stroke-width="0.34">-20</text>
<line x1="48" y1="357" x2="45.6" y2="357" stroke="#1c1c1c" stroke-width="0.9"/>
<text x="45" y="359.9" font-size="8.3" text-anchor="end" fill="#111"  stroke="#111" stroke-width="0.34">-10</text>
<line x1="48" y1="340.4" x2="45.6" y2="340.4" stroke="#1c1c1c" stroke-width="0.9"/>
<text x="45" y="343.3" font-size="8.3" text-anchor="end" fill="#111"  stroke="#111" stroke-width="0.34">0</text>
<line x1="48" y1="323.8" x2="45.6" y2="323.8" stroke="#1c1c1c" stroke-width="0.9"/>
<text x="45" y="326.7" font-size="8.3" text-anchor="end" fill="#111"  stroke="#111" stroke-width="0.34">10</text>
<rect x="64.3" y="340.4" width="22" height="64.6" fill="#2b2bf2"/>
<rect x="119.5" y="340.4" width="21.8" height="33.4" fill="#f26565"/>
<line x1="75.4" y1="399.5" x2="75.4" y2="410.2" stroke="#111" stroke-width="0.9"/>
<line x1="74.2" y1="399.5" x2="76.6" y2="399.5" stroke="#111" stroke-width="0.9"/>
<line x1="74.2" y1="410.2" x2="76.6" y2="410.2" stroke="#111" stroke-width="0.9"/>
<line x1="130.4" y1="370.8" x2="130.4" y2="376.4" stroke="#111" stroke-width="0.9"/>
<line x1="129.3" y1="370.8" x2="131.5" y2="370.8" stroke="#111" stroke-width="0.9"/>
<line x1="129.3" y1="376.4" x2="131.5" y2="376.4" stroke="#111" stroke-width="0.9"/>
<line x1="48" y1="340.4" x2="157.8" y2="340.4" stroke="#111" stroke-width="1.2"/>
<rect x="48" y="316.5" width="109.8" height="98.3" fill="none" stroke="#1c1c1c" stroke-width="1.3"/>
<text x="78.1" y="338.1" font-size="7.7" text-anchor="middle" fill="#111" textLength="17.9" lengthAdjust="spacingAndGlyphs"  stroke="#111" stroke-width="0.34">MSN</text>
<text x="130" y="338.3" font-size="7.6" text-anchor="middle" fill="#111" textLength="30.3" lengthAdjust="spacingAndGlyphs"  stroke="#111" stroke-width="0.34">LC-MSN</text>
<text x="30.6" y="365.3" font-size="10.6" text-anchor="middle" fill="#111" textLength="86.6" lengthAdjust="spacingAndGlyphs" transform="rotate(-90 30.6 365.3)"  stroke="#111" stroke-width="0.34">Zeta Potential (mV)</text>
<text x="163.8" y="320" font-size="14.3" text-anchor="start" fill="#111" textLength="10.6" lengthAdjust="spacingAndGlyphs"  stroke="#111" stroke-width="0.34">H</text>
<line x1="194.13" y1="415.4" x2="194.13" y2="416.8" stroke="#1c1c1c" stroke-width="0.9"/>
<line x1="216.06" y1="415.4" x2="216.06" y2="416.8" stroke="#1c1c1c" stroke-width="0.9"/>
<line x1="238" y1="415.4" x2="238" y2="416.8" stroke="#1c1c1c" stroke-width="0.9"/>
<line x1="259.93" y1="415.4" x2="259.93" y2="416.8" stroke="#1c1c1c" stroke-width="0.9"/>
<line x1="281.86" y1="415.4" x2="281.86" y2="416.8" stroke="#1c1c1c" stroke-width="0.9"/>
<line x1="205.1" y1="415.4" x2="205.1" y2="417.8" stroke="#1c1c1c" stroke-width="0.9"/>
<text x="205.1" y="426.3" font-size="8.3" text-anchor="middle" fill="#111"  stroke="#111" stroke-width="0.34">60</text>
<line x1="227.03" y1="415.4" x2="227.03" y2="417.8" stroke="#1c1c1c" stroke-width="0.9"/>
<text x="227.03" y="426.3" font-size="8.3" text-anchor="middle" fill="#111"  stroke="#111" stroke-width="0.34">90</text>
<line x1="248.96" y1="415.4" x2="248.96" y2="417.8" stroke="#1c1c1c" stroke-width="0.9"/>
<text x="248.96" y="426.3" font-size="8.3" text-anchor="middle" fill="#111"  stroke="#111" stroke-width="0.34">120</text>
<line x1="270.89" y1="415.4" x2="270.89" y2="417.8" stroke="#1c1c1c" stroke-width="0.9"/>
<text x="270.89" y="426.3" font-size="8.3" text-anchor="middle" fill="#111"  stroke="#111" stroke-width="0.34">150</text>
<line x1="292.82" y1="415.4" x2="292.82" y2="417.8" stroke="#1c1c1c" stroke-width="0.9"/>
<text x="292.82" y="426.3" font-size="8.3" text-anchor="middle" fill="#111"  stroke="#111" stroke-width="0.34">180</text>
<text x="245" y="434.6" font-size="9.7" text-anchor="middle" fill="#111" textLength="72" lengthAdjust="spacingAndGlyphs" stroke="#111" stroke-width="0.34">Temperature (<tspan font-size="6.8" dy="-3.6">0</tspan><tspan dy="3.6">C)</tspan></text>
<text x="182.2" y="358.3" font-size="9.4" text-anchor="middle" fill="#111" textLength="84" lengthAdjust="spacingAndGlyphs" transform="rotate(-90 182.2 358.3)"  stroke="#111" stroke-width="0.34">Endo Flow Heat(W/g)</text>
<line x1="178.4" y1="406" x2="178.4" y2="412.5" stroke="#111" stroke-width="0.9"/>
<polygon points="176.7,411.2 180.1,411.2 178.4,415.2" fill="#111"/>
<path d="M189.4,330.1 C191.38,330.1 198.58,330 201.3,330.1 C204.02,330.2 204.48,330.5 205.7,330.7 C206.92,330.9 206.63,331.2 208.6,331.3 C210.57,331.4 214.05,331.4 217.5,331.3 C220.95,331.2 225.85,331 229.3,330.7 C232.75,330.4 235.23,330 238.2,329.5 C241.17,329 243.9,328.23 247.1,327.7 C250.3,327.17 254.45,326.45 257.4,326.3 C260.35,326.15 262.08,326.47 264.8,326.8 C267.52,327.13 270.75,327.85 273.7,328.3 C276.65,328.75 280.37,328.97 282.5,329.5 C284.63,330.03 285.32,330.17 286.5,331.5 C287.68,332.83 288.67,335.48 289.6,337.5 C290.53,339.52 291.33,343.25 292.1,343.6 C292.87,343.95 293.48,341.45 294.2,339.6 C294.92,337.75 295.53,334.23 296.4,332.5 C297.27,330.77 298.9,329.75 299.4,329.2" fill="none" stroke="#111" stroke-width="1.1" stroke-linejoin="round" stroke-linecap="round" />
<path d="M189.4,364.1 C190.63,364.2 194.82,364.35 196.8,364.7 C198.78,365.05 200.07,365.47 201.3,366.2 C202.53,366.93 203.37,368.3 204.2,369.1 C205.03,369.9 205.07,370.75 206.3,371 C207.53,371.25 209.23,370.67 211.6,370.6 C213.97,370.53 217.35,370.63 220.5,370.6 C223.65,370.57 228,370.75 230.5,370.4 C233,370.05 233.72,369.95 235.5,368.5 C237.28,367.05 239.52,363.82 241.2,361.7 C242.88,359.58 244.23,357.27 245.6,355.8 C246.97,354.33 248.17,352.9 249.4,352.9 C250.63,352.9 251.67,354.33 253,355.8 C254.33,357.27 255.92,359.78 257.4,361.7 C258.88,363.62 260.17,365.87 261.9,367.3 C263.63,368.73 265.83,369.52 267.8,370.3 C269.77,371.08 271.73,371.45 273.7,372 C275.67,372.55 277.95,372.35 279.6,373.6 C281.25,374.85 282.43,376.18 283.6,379.5 C284.77,382.82 285.7,389.17 286.6,393.5 C287.5,397.83 288.22,403.05 289,405.5 C289.78,407.95 290.53,408.35 291.3,408.2 C292.07,408.05 292.95,407.67 293.6,404.6 C294.25,401.53 294.68,394.73 295.2,389.8 C295.72,384.87 296,378.05 296.7,375 C297.4,371.95 298.95,372.08 299.4,371.5" fill="none" stroke="#e8262a" stroke-width="1.35" stroke-linejoin="round" stroke-linecap="round" />
<rect x="189.2" y="316.6" width="110.2" height="98.8" fill="none" stroke="#1c1c1c" stroke-width="1.3"/>
<text x="195.5" y="327.4" font-size="6.9" text-anchor="start" fill="#111" textLength="17.2" lengthAdjust="spacingAndGlyphs"  stroke="#111" stroke-width="0.34">MSN</text>
<text x="194.5" y="360.1" font-size="7.0" text-anchor="start" fill="#111" textLength="30.5" lengthAdjust="spacingAndGlyphs"  stroke="#111" stroke-width="0.34">LC-MSN</text>
<text x="307.5" y="320.1" font-size="14.3" text-anchor="start" fill="#111" textLength="5.2" lengthAdjust="spacingAndGlyphs"  stroke="#111" stroke-width="0.34">I</text>
<rect x="322.3" y="317.7" width="107.9" height="98" fill="#07080a"/>
<svg x="322.3" y="317.7" width="107.9" height="98" overflow="hidden"><g fill="none" stroke-linecap="round">
<path d="M78.78,86.48 A42.71,42.71 0 0 1 47.19,103.17" stroke="rgb(28,30,33)" stroke-width="0.9" opacity="0.12"/>
<path d="M20.61,57.97 A31.45,31.45 0 0 1 27.91,36.95" stroke="rgb(43,45,48)" stroke-width="0.7" opacity="0.21"/>
<path d="M30.37,67.83 A24.58,24.58 0 0 1 28.17,52.26" stroke="rgb(26,28,31)" stroke-width="0.9" opacity="0.30"/>
<path d="M40.99,80.76 A15.55,15.55 0 0 1 29.25,70.69" stroke="rgb(34,36,39)" stroke-width="0.7" opacity="0.26"/>
<path d="M122.44,24.35 A77.41,77.41 0 0 1 121.12,95.51" stroke="rgb(44,46,49)" stroke-width="0.7" opacity="0.34"/>
<path d="M58.58,57.9 A14.98,14.98 0 0 1 56.75,65.57" stroke="rgb(39,41,44)" stroke-width="0.9" opacity="0.32"/>
<path d="M105.33,76.68 A59.64,59.64 0 0 1 85.01,110.01" stroke="rgb(33,35,38)" stroke-width="0.7" opacity="0.28"/>
<path d="M97.89,147.23 A94.25,94.25 0 0 1 57.66,158.42" stroke="rgb(36,38,41)" stroke-width="0.9" opacity="0.33"/>
<path d="M34.35,88.29 A29.52,29.52 0 0 1 20.17,69.64" stroke="rgb(35,37,40)" stroke-width="0.5" opacity="0.13"/>
<path d="M46.2,84.26 A19.35,19.35 0 0 1 36.1,76.54" stroke="rgb(30,32,35)" stroke-width="0.5" opacity="0.19"/>
<path d="M63.01,74.8 A15.67,15.67 0 0 1 58.88,78.14" stroke="rgb(44,46,49)" stroke-width="0.7" opacity="0.25"/>
<path d="M22.28,50.26 A31.58,31.58 0 0 1 25.86,41.31" stroke="rgb(29,31,34)" stroke-width="0.9" opacity="0.24"/>
<path d="M56.43,29.58 A36.2,36.2 0 0 1 83.94,46.24" stroke="rgb(36,38,41)" stroke-width="0.7" opacity="0.20"/>
<path d="M14.06,95.9 A43.27,43.27 0 0 1 1.01,71.66" stroke="rgb(43,45,48)" stroke-width="0.5" opacity="0.26"/>
<path d="M62.15,107.04 A47.79,47.79 0 0 1 37.92,105.34" stroke="rgb(35,37,40)" stroke-width="0.7" opacity="0.34"/>
<path d="M59.41,54 A12.95,12.95 0 0 1 60.67,64.27" stroke="rgb(26,28,31)" stroke-width="0.7" opacity="0.26"/>
<path d="M112.22,41.24 A64.07,64.07 0 0 1 98.62,95.96" stroke="rgb(37,39,42)" stroke-width="0.9" opacity="0.28"/>
<path d="M58.49,69.49 A17.03,17.03 0 0 1 39.86,67.27" stroke="rgb(34,36,39)" stroke-width="0.9" opacity="0.22"/>
<path d="M65.31,18.86 A42.21,42.21 0 0 1 85.21,35.97" stroke="rgb(34,36,39)" stroke-width="0.7" opacity="0.30"/>
<path d="M80.72,148.47 A92.62,92.62 0 0 1 43.08,156.38" stroke="rgb(42,44,47)" stroke-width="0.5" opacity="0.27"/>
<path d="M85.53,113.06 A68.28,68.28 0 0 1 61.72,124.19" stroke="rgb(36,38,41)" stroke-width="0.7" opacity="0.28"/>
<path d="M-35.71,19.55 A91.74,91.74 0 0 1 35.48,-27.56" stroke="rgb(32,34,37)" stroke-width="0.9" opacity="0.22"/>
<path d="M24.36,3.32 A55.96,55.96 0 0 1 78.75,11.04" stroke="rgb(44,46,49)" stroke-width="0.5" opacity="0.32"/>
<path d="M60.06,76.95 A19.1,19.1 0 0 1 45.9,83.03" stroke="rgb(39,41,44)" stroke-width="0.7" opacity="0.24"/>
<path d="M68.43,-2.99 A64.64,64.64 0 0 1 108.75,28.28" stroke="rgb(27,29,32)" stroke-width="0.7" opacity="0.16"/>
<path d="M-42.69,72.3 A85.04,85.04 0 0 1 -27.71,16.69" stroke="rgb(33,35,38)" stroke-width="0.5" opacity="0.29"/>
<path d="M65.42,8.53 A55.08,55.08 0 0 1 93.5,25.7" stroke="rgb(33,35,38)" stroke-width="0.5" opacity="0.32"/>
<path d="M22.14,48.37 A32.3,32.3 0 0 1 43.27,24.86" stroke="rgb(42,44,47)" stroke-width="0.5" opacity="0.33"/>
<path d="M53.18,74.01 A13.09,13.09 0 0 1 47.4,72.85" stroke="rgb(35,37,40)" stroke-width="0.5" opacity="0.27"/>
<path d="M116.81,117.23 A89.94,89.94 0 0 1 71.32,145.91" stroke="rgb(34,36,39)" stroke-width="0.9" opacity="0.23"/>
<path d="M79.1,64.35 A28.38,28.38 0 0 1 60.26,85.18" stroke="rgb(31,33,36)" stroke-width="0.5" opacity="0.30"/>
<path d="M-27.2,59.89 A80.35,80.35 0 0 1 3.93,0.09" stroke="rgb(38,40,43)" stroke-width="0.5" opacity="0.29"/>
<path d="M-7.35,44.06 A55.13,55.13 0 0 1 11.19,17.85" stroke="rgb(26,28,31)" stroke-width="0.5" opacity="0.30"/>
<path d="M-8.4,43.87 A52.07,52.07 0 0 1 21.23,7.09" stroke="rgb(42,44,47)" stroke-width="0.9" opacity="0.23"/>
<path d="M77.74,26.72 A44.02,44.02 0 0 1 87.59,49.6" stroke="rgb(34,36,39)" stroke-width="0.5" opacity="0.35"/>
<path d="M49.22,67.64 A12.29,12.29 0 0 1 37.94,63.68" stroke="rgb(44,46,49)" stroke-width="0.5" opacity="0.13"/>
<path d="M84.73,104.9 A56.93,56.93 0 0 1 68.27,114.82" stroke="rgb(39,41,44)" stroke-width="0.5" opacity="0.21"/>
<path d="M64.08,106.48 A46.9,46.9 0 0 1 31.27,106.27" stroke="rgb(33,35,38)" stroke-width="0.5" opacity="0.24"/>
<path d="M92.57,33.63 A47.27,47.27 0 0 1 88.65,82.55" stroke="rgb(36,38,41)" stroke-width="0.7" opacity="0.34"/>
<path d="M56.77,85 A22.08,22.08 0 0 1 33.31,80.27" stroke="rgb(42,44,47)" stroke-width="0.7" opacity="0.27"/>
<path d="M68.32,71.54 A20.56,20.56 0 0 1 64.28,76.29" stroke="rgb(30,32,35)" stroke-width="0.5" opacity="0.30"/>
<path d="M27.74,68.91 A20.24,20.24 0 0 1 23.13,60.89" stroke="rgb(26,28,31)" stroke-width="0.7" opacity="0.31"/>
<path d="M8.46,122.32 A67.9,67.9 0 0 1 -23.89,55.47" stroke="rgb(44,46,49)" stroke-width="0.7" opacity="0.30"/>
<path d="M54.26,116.35 A54.44,54.44 0 0 1 32.84,116.8" stroke="rgb(29,31,34)" stroke-width="0.9" opacity="0.13"/>
<path d="M41.9,-19.86 A80.73,80.73 0 0 1 78.24,-13.2" stroke="rgb(33,35,38)" stroke-width="0.7" opacity="0.26"/>
<path d="M84.89,33.02 A42.5,42.5 0 0 1 93.52,57.27" stroke="rgb(39,41,44)" stroke-width="0.5" opacity="0.21"/>
<path d="M-35.45,81.99 A82.02,82.02 0 0 1 -28.41,28.23" stroke="rgb(44,46,49)" stroke-width="0.9" opacity="0.27"/>
<path d="M-4.04,99.08 A65.37,65.37 0 0 1 -15.72,73.45" stroke="rgb(29,31,34)" stroke-width="0.7" opacity="0.29"/>
<path d="M62.47,108.05 A48.77,48.77 0 0 1 39.89,107.19" stroke="rgb(34,36,39)" stroke-width="0.5" opacity="0.15"/>
<path d="M128.51,84.79 A82.67,82.67 0 0 1 75,143.42" stroke="rgb(39,41,44)" stroke-width="0.9" opacity="0.32"/>
<path d="M19.27,52.85 A30.06,30.06 0 0 1 29.79,34.1" stroke="rgb(38,40,43)" stroke-width="0.5" opacity="0.16"/>
<path d="M-0.94,-1.98 A76.26,76.26 0 0 1 84.46,-8.18" stroke="rgb(41,43,46)" stroke-width="0.9" opacity="0.26"/>
<path d="M122.7,92.18 A80.19,80.19 0 0 1 84.56,135.19" stroke="rgb(28,30,33)" stroke-width="0.7" opacity="0.30"/>
<path d="M-15.26,109.97 A87.6,87.6 0 0 1 -33.3,37.28" stroke="rgb(28,30,33)" stroke-width="0.5" opacity="0.32"/>
<path d="M32.04,25.38 A33.47,33.47 0 0 1 62.1,27.56" stroke="rgb(27,29,32)" stroke-width="0.7" opacity="0.16"/>
<path d="M36.63,74.83 A19.55,19.55 0 0 1 29.75,70.98" stroke="rgb(34,36,39)" stroke-width="0.7" opacity="0.13"/>
<path d="M8.17,55.48 A39.94,39.94 0 0 1 19.12,34.64" stroke="rgb(38,40,43)" stroke-width="0.7" opacity="0.14"/>
<path d="M12.59,25.57 A52.67,52.67 0 0 1 39.49,11.25" stroke="rgb(34,36,39)" stroke-width="0.5" opacity="0.27"/>
<path d="M-28.37,14.64 A87.43,87.43 0 0 1 59.45,-21.29" stroke="rgb(37,39,42)" stroke-width="0.9" opacity="0.30"/>
<path d="M89.69,113.65 A68.1,68.1 0 0 1 23.15,119.65" stroke="rgb(34,36,39)" stroke-width="0.5" opacity="0.29"/>
<path d="M10.76,25.16 A56.5,56.5 0 0 1 47.08,5.94" stroke="rgb(37,39,42)" stroke-width="0.5" opacity="0.29"/>
<path d="M66.66,82.28 A27.1,27.1 0 0 1 44.43,87.29" stroke="rgb(31,33,36)" stroke-width="0.7" opacity="0.32"/>
<path d="M-6.48,-13.86 A89.34,89.34 0 0 1 42.36,-33.55" stroke="rgb(39,41,44)" stroke-width="0.9" opacity="0.19"/>
<path d="M65.49,133.72 A76.92,76.92 0 0 1 35.27,136.19" stroke="rgb(31,33,36)" stroke-width="0.9" opacity="0.24"/>
<path d="M76.2,35.52 A34.07,34.07 0 0 1 82.85,70.07" stroke="rgb(27,29,32)" stroke-width="0.7" opacity="0.24"/>
<path d="M65.56,27.32 A41.39,41.39 0 0 1 83.29,47.6" stroke="rgb(43,45,48)" stroke-width="0.5" opacity="0.20"/>
<path d="M24.25,35.16 A34.45,34.45 0 0 1 34.35,25.86" stroke="rgb(29,31,34)" stroke-width="0.5" opacity="0.28"/>
<path d="M4.58,66.67 A44.47,44.47 0 0 1 6.48,48.42" stroke="rgb(30,32,35)" stroke-width="0.7" opacity="0.30"/>
<path d="M30.33,75.78 A26.85,26.85 0 0 1 22.19,61.2" stroke="rgb(35,37,40)" stroke-width="0.5" opacity="0.31"/>
<path d="M79.39,-13.98 A79.6,79.6 0 0 1 126.88,55.63" stroke="rgb(35,37,40)" stroke-width="0.9" opacity="0.23"/>
</g></svg>
<defs><radialGradient id="pol" gradientUnits="userSpaceOnUse" cx="622" cy="350" r="205"><stop offset="0.000" stop-color="rgb(22,25,30)"/><stop offset="0.463" stop-color="rgb(25,28,34)"/><stop offset="0.537" stop-color="rgb(38,42,50)"/><stop offset="0.580" stop-color="rgb(64,68,76)"/><stop offset="0.605" stop-color="rgb(112,112,104)"/><stop offset="0.629" stop-color="rgb(166,160,130)"/><stop offset="0.683" stop-color="rgb(158,151,122)"/><stop offset="0.707" stop-color="rgb(96,100,120)"/><stop offset="0.727" stop-color="rgb(82,90,122)"/><stop offset="0.751" stop-color="rgb(92,96,116)"/><stop offset="0.771" stop-color="rgb(156,134,76)"/><stop offset="0.820" stop-color="rgb(162,140,80)"/><stop offset="0.839" stop-color="rgb(120,138,108)"/><stop offset="0.859" stop-color="rgb(64,86,138)"/><stop offset="0.878" stop-color="rgb(58,80,140)"/><stop offset="0.907" stop-color="rgb(64,88,138)"/><stop offset="0.927" stop-color="rgb(130,150,108)"/><stop offset="1.000" stop-color="rgb(142,158,100)"/></radialGradient><filter id="pbl" x="-50%" y="-50%" width="200%" height="200%"><feGaussianBlur stdDeviation="3.5"/></filter><filter id="sbl" x="-10%" y="-10%" width="120%" height="120%"><feGaussianBlur stdDeviation="0.35"/></filter></defs>
<rect x="433.0" y="317.7" width="107.6" height="98" fill="url(#pol)"/>
<svg x="433.0" y="317.7" width="107.6" height="98" overflow="hidden">
<g filter="url(#pbl)">
<ellipse cx="59" cy="3.3" rx="10.4" ry="7.2" fill="rgb(52,46,40)" opacity="0.85"/>
<ellipse cx="93" cy="13.3" rx="16" ry="13.6" fill="rgb(108,114,124)" opacity="0.6"/>
<ellipse cx="4" cy="80.3" rx="7.2" ry="20.8" fill="rgb(150,160,100)" opacity="0.55"/>
<ellipse cx="5" cy="12.3" rx="8" ry="14.4" fill="rgb(46,70,140)" opacity="0.7"/>
</g><g filter="url(#sbl)">
<line x1="55.34" y1="72.07" x2="58.35" y2="68.39" stroke="rgb(58,56,45)" stroke-width="0.8" opacity="0.57"/>
<line x1="53.55" y1="46.7" x2="58.89" y2="42.01" stroke="rgb(73,71,57)" stroke-width="1.0" opacity="0.74"/>
<line x1="97.37" y1="12.16" x2="99.8" y2="8.31" stroke="rgb(33,35,39)" stroke-width="0.6" opacity="0.73"/>
<line x1="29.73" y1="90.33" x2="36.58" y2="84.48" stroke="rgb(196,169,96)" stroke-width="1.0" opacity="0.75"/>
<line x1="16.19" y1="3.14" x2="22.98" y2="2.16" stroke="rgb(58,54,35)" stroke-width="0.8" opacity="0.65"/>
<line x1="38.74" y1="48.48" x2="43.31" y2="42.91" stroke="rgb(66,63,54)" stroke-width="1.2" opacity="0.55"/>
<line x1="43.31" y1="1.78" x2="53.43" y2="-1.96" stroke="rgb(45,45,46)" stroke-width="0.8" opacity="0.49"/>
<line x1="35.87" y1="89.13" x2="41.14" y2="82.51" stroke="rgb(75,64,36)" stroke-width="0.8" opacity="0.44"/>
<line x1="13.43" y1="48.52" x2="17.26" y2="46.44" stroke="rgb(42,50,50)" stroke-width="1.2" opacity="0.41"/>
<line x1="51.57" y1="93.55" x2="53.87" y2="89.33" stroke="rgb(42,44,55)" stroke-width="0.6" opacity="0.61"/>
<line x1="86.54" y1="29.75" x2="91.18" y2="23.32" stroke="rgb(91,97,109)" stroke-width="0.6" opacity="0.69"/>
<line x1="67.17" y1="33.94" x2="69.52" y2="30.45" stroke="rgb(90,96,109)" stroke-width="0.6" opacity="0.41"/>
<line x1="51.36" y1="48.59" x2="56.34" y2="44.6" stroke="rgb(92,88,71)" stroke-width="1.2" opacity="0.72"/>
<line x1="101.09" y1="3.54" x2="107.13" y2="-4.36" stroke="rgb(76,81,91)" stroke-width="0.6" opacity="0.58"/>
<line x1="55.65" y1="56.47" x2="62.22" y2="48.2" stroke="rgb(209,202,164)" stroke-width="1.0" opacity="0.72"/>
<line x1="34.46" y1="42.67" x2="40.99" y2="36.42" stroke="rgb(41,44,57)" stroke-width="1.2" opacity="0.73"/>
<line x1="-2.12" y1="14.77" x2="3.94" y2="13.28" stroke="rgb(44,58,78)" stroke-width="0.6" opacity="0.71"/>
<line x1="95.48" y1="46.53" x2="97.14" y2="39.95" stroke="rgb(93,99,111)" stroke-width="0.6" opacity="0.52"/>
<line x1="29.55" y1="44.38" x2="34.05" y2="42.19" stroke="rgb(163,150,122)" stroke-width="0.6" opacity="0.44"/>
<line x1="24.58" y1="20.32" x2="33.55" y2="15.52" stroke="rgb(85,74,45)" stroke-width="0.8" opacity="0.56"/>
<line x1="64.76" y1="1.01" x2="70.39" y2="-0.34" stroke="rgb(127,127,117)" stroke-width="0.6" opacity="0.56"/>
<line x1="18.94" y1="86.22" x2="24.29" y2="79.97" stroke="rgb(108,144,240)" stroke-width="1.2" opacity="0.67"/>
<line x1="27.17" y1="98.74" x2="31.96" y2="91.72" stroke="rgb(28,37,53)" stroke-width="1.0" opacity="0.52"/>
<line x1="49.12" y1="4.4" x2="54.33" y2="2.63" stroke="rgb(52,56,72)" stroke-width="1.0" opacity="0.69"/>
<line x1="0.73" y1="22.06" x2="5.64" y2="19.53" stroke="rgb(54,68,77)" stroke-width="1.2" opacity="0.73"/>
<line x1="54.88" y1="42.04" x2="60.34" y2="37.9" stroke="rgb(153,155,151)" stroke-width="0.6" opacity="0.50"/>
<line x1="102.26" y1="17.18" x2="104.6" y2="13.59" stroke="rgb(123,130,143)" stroke-width="0.8" opacity="0.50"/>
<line x1="43.09" y1="34.42" x2="48.36" y2="29.99" stroke="rgb(37,37,39)" stroke-width="0.6" opacity="0.47"/>
<line x1="49.55" y1="83.52" x2="54.53" y2="78.58" stroke="rgb(148,157,197)" stroke-width="1.2" opacity="0.57"/>
<line x1="109.44" y1="24.08" x2="112.23" y2="14.67" stroke="rgb(93,99,110)" stroke-width="0.8" opacity="0.73"/>
<line x1="51.01" y1="0.18" x2="60.49" y2="-5.18" stroke="rgb(69,65,53)" stroke-width="1.2" opacity="0.52"/>
<line x1="104.76" y1="38.46" x2="109.34" y2="29.74" stroke="rgb(87,93,104)" stroke-width="0.6" opacity="0.56"/>
<line x1="22.8" y1="70.94" x2="29.4" y2="62.17" stroke="rgb(30,36,36)" stroke-width="0.8" opacity="0.72"/>
<line x1="86.15" y1="24.7" x2="91.82" y2="19.25" stroke="rgb(97,104,115)" stroke-width="1.0" opacity="0.41"/>
<line x1="-3.35" y1="49.06" x2="5.79" y2="44.96" stroke="rgb(32,45,77)" stroke-width="1.2" opacity="0.53"/>
<line x1="65.81" y1="28.92" x2="71.58" y2="24.77" stroke="rgb(92,98,108)" stroke-width="1.0" opacity="0.68"/>
<line x1="44.84" y1="100.43" x2="51.24" y2="93.02" stroke="rgb(143,149,180)" stroke-width="1.0" opacity="0.41"/>
<line x1="59.89" y1="57.48" x2="64.25" y2="49.97" stroke="rgb(209,201,163)" stroke-width="1.0" opacity="0.41"/>
<line x1="48.59" y1="79.06" x2="55.42" y2="70.97" stroke="rgb(59,57,49)" stroke-width="1.2" opacity="0.51"/>
<line x1="25.67" y1="98.21" x2="28.63" y2="93.28" stroke="rgb(53,53,36)" stroke-width="0.6" opacity="0.57"/>
<line x1="104.32" y1="78.22" x2="107.74" y2="68.65" stroke="rgb(12,13,16)" stroke-width="1.0" opacity="0.74"/>
<line x1="73.73" y1="44.49" x2="77.44" y2="38.08" stroke="rgb(118,125,139)" stroke-width="0.8" opacity="0.45"/>
<line x1="98.28" y1="18.95" x2="101.98" y2="10.41" stroke="rgb(86,91,101)" stroke-width="0.8" opacity="0.51"/>
<line x1="67.43" y1="11.26" x2="73.76" y2="8.2" stroke="rgb(29,31,35)" stroke-width="0.8" opacity="0.75"/>
<line x1="25.96" y1="11.1" x2="30.61" y2="8.47" stroke="rgb(90,77,44)" stroke-width="1.0" opacity="0.75"/>
<line x1="108.09" y1="23.81" x2="109.29" y2="19.84" stroke="rgb(135,142,156)" stroke-width="1.0" opacity="0.59"/>
<line x1="92.82" y1="45.49" x2="95.61" y2="39.42" stroke="rgb(84,89,100)" stroke-width="1.0" opacity="0.73"/>
<line x1="92.38" y1="16.68" x2="94.74" y2="13" stroke="rgb(32,34,38)" stroke-width="0.6" opacity="0.54"/>
<line x1="93.57" y1="10.67" x2="99.14" y2="5.39" stroke="rgb(106,113,126)" stroke-width="1.0" opacity="0.43"/>
<line x1="56.04" y1="44.62" x2="60.25" y2="40.03" stroke="rgb(68,66,55)" stroke-width="1.0" opacity="0.65"/>
<line x1="83.81" y1="74.43" x2="85.51" y2="69.43" stroke="rgb(38,41,46)" stroke-width="0.8" opacity="0.66"/>
<line x1="31.55" y1="67.24" x2="38.89" y2="60.27" stroke="rgb(69,60,34)" stroke-width="1.2" opacity="0.75"/>
<line x1="-0.43" y1="41.22" x2="4.29" y2="38.45" stroke="rgb(49,56,39)" stroke-width="0.6" opacity="0.53"/>
<line x1="18.34" y1="55.57" x2="23.03" y2="51.66" stroke="rgb(199,172,98)" stroke-width="1.0" opacity="0.54"/>
<line x1="36.1" y1="67.54" x2="41.59" y2="61.32" stroke="rgb(38,41,56)" stroke-width="0.8" opacity="0.71"/>
<line x1="17.32" y1="43.5" x2="22.78" y2="39.89" stroke="rgb(177,162,100)" stroke-width="0.8" opacity="0.55"/>
<line x1="72.38" y1="10.32" x2="76.58" y2="7.03" stroke="rgb(43,46,51)" stroke-width="0.8" opacity="0.61"/>
<line x1="2.54" y1="-0.09" x2="8.98" y2="-2.02" stroke="rgb(95,127,197)" stroke-width="1.2" opacity="0.61"/>
<line x1="104.13" y1="32.23" x2="106.3" y2="22.33" stroke="rgb(12,13,16)" stroke-width="1.0" opacity="0.42"/>
<line x1="-6.38" y1="48.47" x2="0.56" y2="44.32" stroke="rgb(161,181,119)" stroke-width="1.0" opacity="0.47"/>
<line x1="38.88" y1="6" x2="43.25" y2="4.57" stroke="rgb(140,149,190)" stroke-width="0.8" opacity="0.69"/>
<line x1="90.05" y1="96.35" x2="91.54" y2="88.48" stroke="rgb(43,45,51)" stroke-width="1.0" opacity="0.71"/>
<line x1="7.15" y1="53.8" x2="15.42" y2="49.83" stroke="rgb(109,146,242)" stroke-width="0.8" opacity="0.56"/>
<line x1="78.07" y1="89.55" x2="79.83" y2="82.57" stroke="rgb(139,138,124)" stroke-width="1.2" opacity="0.69"/>
<line x1="30.16" y1="77.13" x2="34.39" y2="73.37" stroke="rgb(197,170,97)" stroke-width="1.0" opacity="0.54"/>
<line x1="13.35" y1="24.09" x2="19.5" y2="20.56" stroke="rgb(33,40,39)" stroke-width="0.8" opacity="0.49"/>
<line x1="73.64" y1="21.3" x2="79.27" y2="15.93" stroke="rgb(36,39,44)" stroke-width="0.8" opacity="0.62"/>
<line x1="42.18" y1="4" x2="51.56" y2="-0.24" stroke="rgb(57,58,64)" stroke-width="1.2" opacity="0.48"/>
<line x1="88.84" y1="102.51" x2="91.17" y2="96.58" stroke="rgb(58,56,45)" stroke-width="0.8" opacity="0.60"/>
<line x1="5.3" y1="53.54" x2="11.46" y2="49.35" stroke="rgb(109,145,239)" stroke-width="1.0" opacity="0.69"/>
<line x1="15.5" y1="6.33" x2="23.22" y2="5.31" stroke="rgb(69,78,60)" stroke-width="1.2" opacity="0.69"/>
<line x1="79.45" y1="29.63" x2="84.6" y2="23.54" stroke="rgb(83,89,100)" stroke-width="0.8" opacity="0.50"/>
<line x1="15.01" y1="86.35" x2="20.48" y2="80.81" stroke="rgb(39,54,94)" stroke-width="1.2" opacity="0.47"/>
<line x1="41.1" y1="58.32" x2="44.8" y2="54.72" stroke="rgb(41,43,55)" stroke-width="0.6" opacity="0.59"/>
<line x1="6.92" y1="37.78" x2="12.06" y2="35.53" stroke="rgb(33,45,75)" stroke-width="1.0" opacity="0.44"/>
<line x1="103.8" y1="49.65" x2="106.23" y2="42.47" stroke="rgb(12,13,16)" stroke-width="0.8" opacity="0.63"/>
<line x1="22.5" y1="24.4" x2="26.3" y2="21.85" stroke="rgb(90,78,44)" stroke-width="1.2" opacity="0.52"/>
<line x1="5.97" y1="87" x2="12.44" y2="78.98" stroke="rgb(57,68,74)" stroke-width="1.2" opacity="0.66"/>
<line x1="51.83" y1="70.74" x2="56.13" y2="65.58" stroke="rgb(49,53,68)" stroke-width="0.6" opacity="0.41"/>
<line x1="41.43" y1="-3.07" x2="49.79" y2="-4.62" stroke="rgb(130,139,177)" stroke-width="1.0" opacity="0.42"/>
<line x1="57.67" y1="77.16" x2="62.36" y2="71.44" stroke="rgb(96,93,75)" stroke-width="1.0" opacity="0.45"/>
<line x1="56.79" y1="67.95" x2="60.34" y2="64.47" stroke="rgb(78,74,60)" stroke-width="0.6" opacity="0.64"/>
<line x1="65.87" y1="54.68" x2="70.8" y2="46.22" stroke="rgb(163,164,156)" stroke-width="0.6" opacity="0.50"/>
<line x1="73.07" y1="17.46" x2="79.61" y2="10.41" stroke="rgb(47,51,57)" stroke-width="1.2" opacity="0.40"/>
<line x1="56.71" y1="96.84" x2="58.48" y2="91.63" stroke="rgb(44,46,56)" stroke-width="0.8" opacity="0.55"/>
<line x1="5.32" y1="30.37" x2="8.73" y2="27.94" stroke="rgb(116,149,196)" stroke-width="1.0" opacity="0.48"/>
<line x1="45.64" y1="52.73" x2="50.81" y2="46.49" stroke="rgb(55,60,81)" stroke-width="1.0" opacity="0.68"/>
<line x1="13.52" y1="45.92" x2="19.36" y2="41" stroke="rgb(115,152,241)" stroke-width="1.0" opacity="0.75"/>
<line x1="11" y1="37.39" x2="19.68" y2="31.52" stroke="rgb(56,61,46)" stroke-width="1.2" opacity="0.41"/>
<line x1="-3.76" y1="63.11" x2="1.05" y2="59.4" stroke="rgb(34,39,35)" stroke-width="1.2" opacity="0.57"/>
<line x1="84.6" y1="84.47" x2="86.5" y2="75.91" stroke="rgb(34,36,41)" stroke-width="0.8" opacity="0.43"/>
<line x1="79.51" y1="54.88" x2="83.79" y2="48.61" stroke="rgb(18,20,23)" stroke-width="0.6" opacity="0.57"/>
<line x1="35.26" y1="50.59" x2="40.07" y2="46.37" stroke="rgb(57,60,76)" stroke-width="0.6" opacity="0.51"/>
<line x1="49.22" y1="65.7" x2="53.45" y2="59.68" stroke="rgb(52,50,40)" stroke-width="1.2" opacity="0.57"/>
<line x1="17.13" y1="32.85" x2="21.51" y2="29.91" stroke="rgb(196,170,97)" stroke-width="0.6" opacity="0.63"/>
<line x1="99.53" y1="46.38" x2="102.59" y2="40.58" stroke="rgb(12,13,16)" stroke-width="1.2" opacity="0.53"/>
<line x1="76.12" y1="27.73" x2="82.74" y2="21.49" stroke="rgb(124,131,146)" stroke-width="0.6" opacity="0.61"/>
<line x1="39.6" y1="49.25" x2="44.65" y2="43.15" stroke="rgb(144,151,184)" stroke-width="0.8" opacity="0.72"/>
<line x1="14.43" y1="92.89" x2="22.28" y2="86.22" stroke="rgb(94,124,197)" stroke-width="0.6" opacity="0.44"/>
<line x1="18.18" y1="96.11" x2="23.14" y2="88.8" stroke="rgb(41,56,97)" stroke-width="1.2" opacity="0.57"/>
<line x1="66.28" y1="52.1" x2="69.75" y2="47.83" stroke="rgb(92,98,110)" stroke-width="0.6" opacity="0.50"/>
<line x1="3.24" y1="90.99" x2="8.48" y2="87.43" stroke="rgb(160,177,118)" stroke-width="1.0" opacity="0.67"/>
<line x1="90.44" y1="19.88" x2="93.17" y2="15.68" stroke="rgb(129,137,151)" stroke-width="1.0" opacity="0.69"/>
<line x1="0.27" y1="23.1" x2="8" y2="21.48" stroke="rgb(100,139,241)" stroke-width="0.6" opacity="0.56"/>
<line x1="22.75" y1="53.68" x2="27" y2="50.31" stroke="rgb(168,167,114)" stroke-width="1.0" opacity="0.63"/>
<line x1="6.71" y1="92.2" x2="9.83" y2="88.46" stroke="rgb(171,189,125)" stroke-width="0.6" opacity="0.41"/>
<line x1="94.56" y1="35.09" x2="97.88" y2="29.1" stroke="rgb(90,96,107)" stroke-width="1.0" opacity="0.59"/>
<line x1="-4.76" y1="43.65" x2="1.37" y2="41.25" stroke="rgb(40,45,31)" stroke-width="1.2" opacity="0.50"/>
<line x1="91.11" y1="18.87" x2="95.82" y2="14.67" stroke="rgb(127,134,148)" stroke-width="1.2" opacity="0.59"/>
<line x1="-7.11" y1="5.37" x2="1.48" y2="2.2" stroke="rgb(63,72,53)" stroke-width="1.0" opacity="0.51"/>
<line x1="35.14" y1="-3.41" x2="40.29" y2="-3.66" stroke="rgb(57,58,65)" stroke-width="1.2" opacity="0.52"/>
<line x1="47.53" y1="-1.08" x2="55.96" y2="-5.12" stroke="rgb(156,165,202)" stroke-width="0.6" opacity="0.47"/>
<line x1="3.29" y1="6.74" x2="12.7" y2="2.74" stroke="rgb(29,42,73)" stroke-width="0.8" opacity="0.51"/>
<line x1="44.6" y1="102.22" x2="49.76" y2="95.44" stroke="rgb(198,170,96)" stroke-width="0.6" opacity="0.48"/>
<line x1="59.87" y1="12.23" x2="67.11" y2="6.72" stroke="rgb(150,144,129)" stroke-width="1.0" opacity="0.70"/>
<line x1="24.33" y1="22.46" x2="32.4" y2="18.75" stroke="rgb(51,47,40)" stroke-width="1.0" opacity="0.50"/>
<line x1="33.45" y1="77.69" x2="37.85" y2="72.01" stroke="rgb(62,54,33)" stroke-width="1.2" opacity="0.69"/>
<line x1="100.7" y1="65.36" x2="103.23" y2="58.08" stroke="rgb(73,78,87)" stroke-width="1.0" opacity="0.62"/>
<line x1="49.79" y1="54.76" x2="56.11" y2="47.08" stroke="rgb(59,62,76)" stroke-width="0.6" opacity="0.68"/>
<line x1="84.06" y1="39.71" x2="87.98" y2="35.4" stroke="rgb(14,15,19)" stroke-width="0.8" opacity="0.73"/>
<line x1="66.03" y1="22.41" x2="69.74" y2="19.52" stroke="rgb(45,46,44)" stroke-width="1.0" opacity="0.55"/>
<line x1="48.65" y1="1.8" x2="55.78" y2="-0.44" stroke="rgb(57,53,44)" stroke-width="1.2" opacity="0.52"/>
<line x1="1.55" y1="55.81" x2="5.26" y2="52.3" stroke="rgb(39,45,32)" stroke-width="0.6" opacity="0.46"/>
<line x1="35.09" y1="85.86" x2="40.77" y2="79.21" stroke="rgb(48,41,23)" stroke-width="1.0" opacity="0.45"/>
<line x1="24.92" y1="24.23" x2="32.82" y2="20.09" stroke="rgb(162,157,150)" stroke-width="0.6" opacity="0.56"/>
<line x1="39.22" y1="-0.66" x2="45.46" y2="-2.65" stroke="rgb(68,64,56)" stroke-width="0.6" opacity="0.46"/>
<line x1="83.75" y1="8.82" x2="91.9" y2="3.18" stroke="rgb(115,123,137)" stroke-width="0.6" opacity="0.73"/>
<line x1="102.72" y1="19.06" x2="105.9" y2="11.52" stroke="rgb(21,23,26)" stroke-width="0.8" opacity="0.66"/>
<line x1="88.24" y1="38.85" x2="91.19" y2="30.83" stroke="rgb(134,142,157)" stroke-width="1.2" opacity="0.49"/>
<line x1="8.25" y1="91.29" x2="15.36" y2="83.97" stroke="rgb(108,144,236)" stroke-width="1.2" opacity="0.69"/>
<line x1="108.88" y1="79.63" x2="111.01" y2="71.9" stroke="rgb(12,13,16)" stroke-width="1.0" opacity="0.49"/>
<line x1="92.03" y1="71.58" x2="93.3" y2="67.23" stroke="rgb(17,19,22)" stroke-width="1.0" opacity="0.71"/>
<line x1="80.71" y1="28.96" x2="85.78" y2="21.47" stroke="rgb(20,22,26)" stroke-width="0.8" opacity="0.53"/>
<line x1="60.03" y1="46.93" x2="67.43" y2="39.32" stroke="rgb(185,178,145)" stroke-width="1.2" opacity="0.70"/>
<line x1="-2.96" y1="82.09" x2="2.17" y2="76.38" stroke="rgb(67,75,50)" stroke-width="1.0" opacity="0.72"/>
<line x1="12.98" y1="102.94" x2="18.76" y2="97.25" stroke="rgb(29,40,65)" stroke-width="1.2" opacity="0.43"/>
<line x1="86.39" y1="-1.09" x2="94.08" y2="-4.38" stroke="rgb(110,116,130)" stroke-width="1.0" opacity="0.54"/>
<line x1="27.87" y1="64.98" x2="33.41" y2="60.59" stroke="rgb(56,50,29)" stroke-width="0.6" opacity="0.49"/>
<line x1="-1.13" y1="22.13" x2="8.83" y2="19.18" stroke="rgb(123,155,187)" stroke-width="1.2" opacity="0.42"/>
<line x1="1.58" y1="58.59" x2="7.74" y2="53.92" stroke="rgb(99,128,193)" stroke-width="0.6" opacity="0.46"/>
<line x1="107.77" y1="46.52" x2="109.02" y2="41.11" stroke="rgb(120,127,140)" stroke-width="0.6" opacity="0.43"/>
<line x1="1.93" y1="73" x2="5.67" y2="70.48" stroke="rgb(49,54,36)" stroke-width="1.2" opacity="0.58"/>
<line x1="9.61" y1="21.84" x2="17.72" y2="19.84" stroke="rgb(83,113,194)" stroke-width="1.0" opacity="0.71"/>
<line x1="67.76" y1="14.52" x2="71.58" y2="10.97" stroke="rgb(137,136,123)" stroke-width="0.8" opacity="0.59"/>
<line x1="95.91" y1="72.78" x2="97.41" y2="65.71" stroke="rgb(83,88,99)" stroke-width="0.6" opacity="0.54"/>
<line x1="93.28" y1="63.88" x2="94.98" y2="59.52" stroke="rgb(15,16,20)" stroke-width="1.2" opacity="0.68"/>
<line x1="97.26" y1="84.32" x2="99.39" y2="75.36" stroke="rgb(96,102,114)" stroke-width="0.6" opacity="0.43"/>
<line x1="47.71" y1="85.57" x2="53.19" y2="76.73" stroke="rgb(165,173,210)" stroke-width="1.2" opacity="0.50"/>
<line x1="90.27" y1="9.08" x2="93.29" y2="5.78" stroke="rgb(45,48,54)" stroke-width="1.0" opacity="0.44"/>
<line x1="93.62" y1="73.04" x2="96.62" y2="63.21" stroke="rgb(137,145,161)" stroke-width="0.6" opacity="0.49"/>
<line x1="10.46" y1="55.77" x2="17.43" y2="51.09" stroke="rgb(47,59,73)" stroke-width="0.8" opacity="0.54"/>
<line x1="1.87" y1="60.93" x2="9.12" y2="53.88" stroke="rgb(51,59,42)" stroke-width="1.0" opacity="0.64"/>
<line x1="14.19" y1="52.67" x2="22.72" y2="48.09" stroke="rgb(122,158,236)" stroke-width="0.8" opacity="0.45"/>
<line x1="72.74" y1="68.28" x2="76.73" y2="62.64" stroke="rgb(144,147,145)" stroke-width="1.2" opacity="0.66"/>
<line x1="51.39" y1="29.7" x2="58.65" y2="25.65" stroke="rgb(178,170,138)" stroke-width="1.0" opacity="0.71"/>
<line x1="2.11" y1="101.4" x2="8.25" y2="93.68" stroke="rgb(46,51,33)" stroke-width="1.2" opacity="0.46"/>
<line x1="5.72" y1="37.13" x2="11.16" y2="34.54" stroke="rgb(56,70,77)" stroke-width="1.0" opacity="0.43"/>
<line x1="59.87" y1="18.82" x2="68.34" y2="12.61" stroke="rgb(138,142,144)" stroke-width="0.6" opacity="0.45"/>
<line x1="-5.55" y1="99.42" x2="-1.36" y2="94.31" stroke="rgb(72,80,51)" stroke-width="1.0" opacity="0.72"/>
<line x1="100.49" y1="97.38" x2="100.88" y2="87.49" stroke="rgb(103,109,122)" stroke-width="1.0" opacity="0.57"/>
<line x1="80.5" y1="18.71" x2="84.34" y2="16.22" stroke="rgb(32,34,38)" stroke-width="1.0" opacity="0.60"/>
<line x1="1.78" y1="63.22" x2="6.22" y2="61.01" stroke="rgb(40,55,94)" stroke-width="1.2" opacity="0.49"/>
<line x1="43.59" y1="50.42" x2="48.46" y2="46.59" stroke="rgb(49,47,38)" stroke-width="0.6" opacity="0.54"/>
<line x1="103.43" y1="34.49" x2="106.41" y2="29.04" stroke="rgb(81,86,96)" stroke-width="1.0" opacity="0.53"/>
<line x1="29.72" y1="8.82" x2="38.85" y2="4.46" stroke="rgb(41,43,52)" stroke-width="0.8" opacity="0.56"/>
<line x1="27.51" y1="48.35" x2="34.53" y2="41.08" stroke="rgb(51,44,25)" stroke-width="0.8" opacity="0.49"/>
<line x1="98.85" y1="22.2" x2="102.98" y2="12.16" stroke="rgb(98,105,116)" stroke-width="0.8" opacity="0.47"/>
<line x1="66.8" y1="31.65" x2="71.26" y2="28.07" stroke="rgb(89,95,106)" stroke-width="1.0" opacity="0.73"/>
<line x1="-3.27" y1="46.46" x2="6.22" y2="40.92" stroke="rgb(39,54,87)" stroke-width="0.6" opacity="0.70"/>
<line x1="75.39" y1="18.35" x2="79.21" y2="14.56" stroke="rgb(36,38,43)" stroke-width="1.0" opacity="0.68"/>
<line x1="47.35" y1="10.58" x2="54.2" y2="5.95" stroke="rgb(132,132,134)" stroke-width="0.6" opacity="0.72"/>
<line x1="28.89" y1="92.69" x2="33.12" y2="87.68" stroke="rgb(55,48,27)" stroke-width="0.8" opacity="0.64"/>
<line x1="95.67" y1="44.42" x2="97.86" y2="36.75" stroke="rgb(133,140,155)" stroke-width="0.6" opacity="0.70"/>
<line x1="51.31" y1="50.54" x2="59.2" y2="43.92" stroke="rgb(67,65,52)" stroke-width="0.6" opacity="0.63"/>
<line x1="2.83" y1="53.93" x2="9.45" y2="48.81" stroke="rgb(96,129,217)" stroke-width="0.6" opacity="0.54"/>
<line x1="-4.52" y1="84.39" x2="-1.03" y2="82.19" stroke="rgb(157,176,115)" stroke-width="0.6" opacity="0.46"/>
<line x1="85.08" y1="63.11" x2="88.25" y2="56.52" stroke="rgb(123,131,145)" stroke-width="0.6" opacity="0.51"/>
<line x1="51.05" y1="24.96" x2="57.12" y2="21.25" stroke="rgb(84,80,65)" stroke-width="1.2" opacity="0.63"/>
<line x1="68.39" y1="77.79" x2="70.41" y2="73.64" stroke="rgb(158,155,133)" stroke-width="0.6" opacity="0.49"/>
<line x1="55.16" y1="29.95" x2="59.29" y2="27.77" stroke="rgb(56,53,43)" stroke-width="1.2" opacity="0.69"/>
<line x1="43.28" y1="5.67" x2="51.68" y2="4.05" stroke="rgb(63,64,70)" stroke-width="0.8" opacity="0.71"/>
<line x1="48.26" y1="57.66" x2="53.29" y2="51.35" stroke="rgb(193,184,149)" stroke-width="1.2" opacity="0.64"/>
<line x1="36.39" y1="37.47" x2="42.25" y2="31.87" stroke="rgb(136,146,185)" stroke-width="0.8" opacity="0.69"/>
<line x1="33.76" y1="17.54" x2="38.59" y2="14.88" stroke="rgb(51,51,55)" stroke-width="0.6" opacity="0.61"/>
<line x1="3.47" y1="59.63" x2="9.02" y2="56.4" stroke="rgb(150,169,120)" stroke-width="0.6" opacity="0.46"/>
<line x1="6.95" y1="63.53" x2="14.78" y2="57.51" stroke="rgb(26,37,63)" stroke-width="1.2" opacity="0.51"/>
<line x1="16.62" y1="55.38" x2="23.18" y2="51.26" stroke="rgb(165,197,209)" stroke-width="0.8" opacity="0.53"/>
<line x1="33.43" y1="28.91" x2="41.92" y2="23.32" stroke="rgb(139,139,142)" stroke-width="1.2" opacity="0.43"/>
<line x1="95.44" y1="44.46" x2="97.88" y2="37.63" stroke="rgb(14,16,19)" stroke-width="0.6" opacity="0.66"/>
<line x1="10.73" y1="95.3" x2="17.84" y2="87.68" stroke="rgb(32,45,74)" stroke-width="1.0" opacity="0.40"/>
<line x1="91.25" y1="88.94" x2="93.06" y2="83.61" stroke="rgb(144,152,169)" stroke-width="1.0" opacity="0.54"/>
<line x1="34.15" y1="84.52" x2="40.3" y2="77.24" stroke="rgb(201,173,98)" stroke-width="0.8" opacity="0.45"/>
<line x1="83.97" y1="97.1" x2="86.41" y2="90.21" stroke="rgb(64,65,62)" stroke-width="0.6" opacity="0.55"/>
<line x1="37.14" y1="47.44" x2="41.83" y2="42.76" stroke="rgb(121,131,170)" stroke-width="0.6" opacity="0.66"/>
<line x1="7.08" y1="38.38" x2="15.65" y2="34.66" stroke="rgb(187,176,112)" stroke-width="1.2" opacity="0.52"/>
<line x1="61.16" y1="10.34" x2="68.35" y2="7.03" stroke="rgb(54,50,42)" stroke-width="0.6" opacity="0.57"/>
<line x1="57.55" y1="37.78" x2="61.84" y2="33.23" stroke="rgb(95,91,74)" stroke-width="1.0" opacity="0.54"/>
<line x1="80.02" y1="30.44" x2="83.49" y2="24.96" stroke="rgb(18,20,23)" stroke-width="0.8" opacity="0.53"/>
<line x1="61.67" y1="87.48" x2="66.6" y2="81.55" stroke="rgb(88,85,68)" stroke-width="0.6" opacity="0.73"/>
<line x1="82.47" y1="52.99" x2="85.28" y2="49.61" stroke="rgb(119,127,141)" stroke-width="0.8" opacity="0.59"/>
<line x1="49.25" y1="41.84" x2="56.01" y2="37.56" stroke="rgb(200,191,155)" stroke-width="0.6" opacity="0.66"/>
<line x1="86.53" y1="39.13" x2="92.09" y2="31.7" stroke="rgb(73,79,89)" stroke-width="0.6" opacity="0.67"/>
<line x1="32.1" y1="8.75" x2="38.51" y2="6.02" stroke="rgb(62,53,30)" stroke-width="1.2" opacity="0.63"/>
<line x1="99.02" y1="62.95" x2="101.36" y2="54.37" stroke="rgb(118,124,138)" stroke-width="1.0" opacity="0.41"/>
<line x1="44.07" y1="56.49" x2="49.29" y2="50.24" stroke="rgb(156,153,145)" stroke-width="0.8" opacity="0.60"/>
<line x1="3.62" y1="48.32" x2="10.73" y2="44.07" stroke="rgb(108,146,245)" stroke-width="1.2" opacity="0.73"/>
<line x1="57.79" y1="-1.79" x2="66.34" y2="-4.25" stroke="rgb(62,58,48)" stroke-width="0.8" opacity="0.51"/>
<line x1="24.66" y1="37.25" x2="33.61" y2="33.14" stroke="rgb(66,56,32)" stroke-width="0.8" opacity="0.54"/>
<line x1="85.93" y1="21.65" x2="89.97" y2="17.64" stroke="rgb(35,37,41)" stroke-width="0.6" opacity="0.61"/>
<line x1="93.77" y1="57.9" x2="97.4" y2="48.46" stroke="rgb(12,13,16)" stroke-width="0.6" opacity="0.68"/>
<line x1="48.45" y1="50.88" x2="51.71" y2="47.77" stroke="rgb(73,70,57)" stroke-width="0.6" opacity="0.41"/>
<line x1="42.41" y1="26.53" x2="50.35" y2="22.95" stroke="rgb(169,165,149)" stroke-width="1.2" opacity="0.69"/>
<line x1="23.41" y1="53.38" x2="31.77" y2="46.77" stroke="rgb(143,153,113)" stroke-width="1.0" opacity="0.73"/>
<line x1="-3.92" y1="84.21" x2="1.01" y2="78.72" stroke="rgb(182,201,132)" stroke-width="1.0" opacity="0.44"/>
<line x1="66.68" y1="16.89" x2="74.52" y2="10.41" stroke="rgb(89,94,104)" stroke-width="0.8" opacity="0.54"/>
<line x1="-4.4" y1="77.08" x2="1.17" y2="72.14" stroke="rgb(162,180,119)" stroke-width="0.8" opacity="0.65"/>
<line x1="4.52" y1="21.58" x2="14.43" y2="18.21" stroke="rgb(34,49,93)" stroke-width="0.8" opacity="0.71"/>
<line x1="109.94" y1="70.73" x2="110.44" y2="65.71" stroke="rgb(81,86,96)" stroke-width="1.0" opacity="0.73"/>
<line x1="107.73" y1="20.53" x2="111.02" y2="11.12" stroke="rgb(91,98,109)" stroke-width="1.0" opacity="0.53"/>
<line x1="-1.57" y1="68.89" x2="2.04" y2="65.18" stroke="rgb(53,63,66)" stroke-width="0.8" opacity="0.45"/>
<line x1="23.13" y1="64.46" x2="31.23" y2="58.73" stroke="rgb(185,159,90)" stroke-width="1.0" opacity="0.47"/>
<line x1="108.33" y1="46.8" x2="109.67" y2="38.23" stroke="rgb(12,13,16)" stroke-width="1.2" opacity="0.56"/>
<line x1="97.81" y1="31.09" x2="100.28" y2="26.96" stroke="rgb(21,23,26)" stroke-width="1.2" opacity="0.51"/>
<line x1="11.58" y1="78.02" x2="16.94" y2="71.95" stroke="rgb(109,146,243)" stroke-width="0.8" opacity="0.48"/>
<line x1="23.96" y1="30.49" x2="31.87" y2="25.6" stroke="rgb(72,62,35)" stroke-width="1.2" opacity="0.53"/>
<line x1="72.83" y1="75.67" x2="76.21" y2="70.17" stroke="rgb(55,56,56)" stroke-width="1.0" opacity="0.42"/>
<line x1="85.32" y1="94.39" x2="86.93" y2="86.28" stroke="rgb(99,106,119)" stroke-width="0.8" opacity="0.70"/>
<line x1="78.22" y1="65.13" x2="80.1" y2="61.24" stroke="rgb(24,26,29)" stroke-width="1.0" opacity="0.52"/>
<line x1="14.11" y1="43.67" x2="18.27" y2="40.54" stroke="rgb(118,152,219)" stroke-width="1.2" opacity="0.52"/>
<line x1="59.18" y1="68.38" x2="62.76" y2="62.89" stroke="rgb(79,75,61)" stroke-width="0.8" opacity="0.41"/>
<line x1="47.01" y1="89.76" x2="53.38" y2="83.18" stroke="rgb(139,145,174)" stroke-width="0.6" opacity="0.75"/>
<line x1="2.65" y1="78.09" x2="6.45" y2="74.39" stroke="rgb(54,63,63)" stroke-width="1.0" opacity="0.68"/>
<line x1="35" y1="80.45" x2="39.74" y2="74.1" stroke="rgb(80,69,39)" stroke-width="1.0" opacity="0.68"/>
<line x1="48.64" y1="41.74" x2="51.49" y2="38.57" stroke="rgb(124,125,135)" stroke-width="1.2" opacity="0.74"/>
<line x1="11.36" y1="50.12" x2="18.05" y2="44.17" stroke="rgb(137,155,119)" stroke-width="1.0" opacity="0.43"/>
<line x1="37.74" y1="74.43" x2="44.15" y2="69.17" stroke="rgb(135,141,170)" stroke-width="1.2" opacity="0.59"/>
<line x1="48.67" y1="24.61" x2="55.8" y2="21.55" stroke="rgb(45,44,38)" stroke-width="1.0" opacity="0.49"/>
<line x1="25.65" y1="68.75" x2="31.48" y2="61.09" stroke="rgb(72,62,35)" stroke-width="0.8" opacity="0.52"/>
<line x1="73.71" y1="46.9" x2="76.72" y2="41.83" stroke="rgb(29,32,36)" stroke-width="0.8" opacity="0.60"/>
<line x1="-4.92" y1="34.57" x2="-0.53" y2="32.15" stroke="rgb(37,48,62)" stroke-width="1.0" opacity="0.60"/>
<line x1="15.84" y1="60.39" x2="22.78" y2="54.63" stroke="rgb(78,75,50)" stroke-width="0.6" opacity="0.57"/>
<line x1="78.21" y1="79.41" x2="79.87" y2="75.58" stroke="rgb(108,115,128)" stroke-width="0.6" opacity="0.42"/>
<line x1="69.41" y1="25.64" x2="76.37" y2="17.38" stroke="rgb(90,96,109)" stroke-width="1.2" opacity="0.71"/>
<line x1="45.17" y1="61.89" x2="48.03" y2="57.48" stroke="rgb(186,178,144)" stroke-width="1.2" opacity="0.63"/>
<line x1="2.73" y1="50.04" x2="9.58" y2="47.49" stroke="rgb(37,51,83)" stroke-width="1.0" opacity="0.68"/>
<line x1="72.73" y1="58.52" x2="77.03" y2="52.31" stroke="rgb(29,32,36)" stroke-width="1.2" opacity="0.51"/>
<line x1="70.75" y1="37.4" x2="76.63" y2="32.05" stroke="rgb(89,96,110)" stroke-width="1.2" opacity="0.58"/>
<line x1="50.52" y1="-1.93" x2="55.55" y2="-4.6" stroke="rgb(154,144,121)" stroke-width="0.8" opacity="0.62"/>
<line x1="5.73" y1="81.97" x2="13.78" y2="75.76" stroke="rgb(107,144,239)" stroke-width="0.8" opacity="0.63"/>
<line x1="54.39" y1="3.01" x2="62.48" y2="0.12" stroke="rgb(34,31,26)" stroke-width="1.0" opacity="0.58"/>
<line x1="88.43" y1="98.02" x2="90.25" y2="92.22" stroke="rgb(31,33,38)" stroke-width="1.0" opacity="0.75"/>
<line x1="75.4" y1="75.03" x2="81.42" y2="67.24" stroke="rgb(63,63,60)" stroke-width="0.8" opacity="0.43"/>
<line x1="49.88" y1="68.85" x2="52.85" y2="65.76" stroke="rgb(35,35,39)" stroke-width="0.6" opacity="0.65"/>
<line x1="40.99" y1="91.09" x2="46.61" y2="82.96" stroke="rgb(122,133,176)" stroke-width="1.0" opacity="0.61"/>
<line x1="34.2" y1="53.46" x2="38.51" y2="50.38" stroke="rgb(73,66,48)" stroke-width="0.8" opacity="0.56"/>
<line x1="6.37" y1="39.21" x2="11.56" y2="35.19" stroke="rgb(106,142,235)" stroke-width="1.2" opacity="0.50"/>
<line x1="26.94" y1="56.33" x2="34.04" y2="48.32" stroke="rgb(48,50,61)" stroke-width="1.2" opacity="0.40"/>
<line x1="40.9" y1="22.93" x2="48.08" y2="16.94" stroke="rgb(150,156,185)" stroke-width="1.0" opacity="0.68"/>
<line x1="67.68" y1="59.54" x2="71.59" y2="51.69" stroke="rgb(33,34,35)" stroke-width="1.0" opacity="0.41"/>
<line x1="97.63" y1="85.57" x2="99.48" y2="76.89" stroke="rgb(124,131,146)" stroke-width="0.6" opacity="0.52"/>
<line x1="67.41" y1="8.69" x2="71.4" y2="6.35" stroke="rgb(129,134,140)" stroke-width="0.8" opacity="0.65"/>
<line x1="24.74" y1="45.26" x2="30.05" y2="40.38" stroke="rgb(80,69,39)" stroke-width="0.6" opacity="0.60"/>
<line x1="72.36" y1="26.67" x2="78.94" y2="22.26" stroke="rgb(39,42,47)" stroke-width="1.2" opacity="0.56"/>
<line x1="103.12" y1="62.26" x2="104.24" y2="55.01" stroke="rgb(83,88,99)" stroke-width="1.0" opacity="0.74"/>
<line x1="50.49" y1="17.95" x2="58.46" y2="12.79" stroke="rgb(53,51,41)" stroke-width="1.0" opacity="0.61"/>
<line x1="26.35" y1="44.25" x2="34.62" y2="38.94" stroke="rgb(83,72,40)" stroke-width="0.6" opacity="0.72"/>
<line x1="19.9" y1="98.52" x2="25.12" y2="94.21" stroke="rgb(97,130,217)" stroke-width="1.2" opacity="0.59"/>
<line x1="74.01" y1="16.71" x2="79.55" y2="11.11" stroke="rgb(37,39,44)" stroke-width="0.6" opacity="0.72"/>
<line x1="34.8" y1="17.22" x2="41.44" y2="13.32" stroke="rgb(189,163,92)" stroke-width="1.0" opacity="0.54"/>
<line x1="5.79" y1="22.26" x2="13.08" y2="20.18" stroke="rgb(80,112,201)" stroke-width="0.8" opacity="0.61"/>
<line x1="76.46" y1="45.76" x2="81.19" y2="36.48" stroke="rgb(26,27,31)" stroke-width="1.0" opacity="0.49"/>
<line x1="87.6" y1="50.57" x2="88.8" y2="46.75" stroke="rgb(95,101,112)" stroke-width="0.6" opacity="0.70"/>
<line x1="-1.55" y1="99.3" x2="1.98" y2="96.99" stroke="rgb(158,176,114)" stroke-width="0.6" opacity="0.60"/>
<line x1="2.71" y1="52.76" x2="10.61" y2="49.09" stroke="rgb(23,32,56)" stroke-width="0.6" opacity="0.64"/>
<line x1="8.85" y1="94.75" x2="13.59" y2="89.2" stroke="rgb(62,72,61)" stroke-width="0.8" opacity="0.73"/>
<line x1="10.93" y1="72.77" x2="16.9" y2="65.47" stroke="rgb(65,68,49)" stroke-width="0.8" opacity="0.41"/>
<line x1="108.81" y1="74.81" x2="109.89" y2="66.2" stroke="rgb(12,13,16)" stroke-width="1.2" opacity="0.56"/>
<line x1="98.7" y1="68.11" x2="102.48" y2="60.38" stroke="rgb(12,13,16)" stroke-width="0.6" opacity="0.67"/>
<line x1="11.28" y1="79.6" x2="15.07" y2="76.61" stroke="rgb(41,54,81)" stroke-width="1.0" opacity="0.53"/>
<line x1="87.5" y1="50.12" x2="90.55" y2="45.85" stroke="rgb(15,17,21)" stroke-width="1.0" opacity="0.69"/>
<line x1="92.93" y1="43.9" x2="95.83" y2="37.43" stroke="rgb(125,132,146)" stroke-width="1.0" opacity="0.59"/>
<line x1="84.62" y1="60.77" x2="86.75" y2="54.57" stroke="rgb(133,141,156)" stroke-width="1.0" opacity="0.50"/>
<line x1="79.67" y1="15.71" x2="85.37" y2="9.19" stroke="rgb(36,39,43)" stroke-width="0.6" opacity="0.52"/>
<line x1="85.89" y1="21.4" x2="90.22" y2="15.55" stroke="rgb(103,109,120)" stroke-width="0.6" opacity="0.68"/>
<line x1="109.81" y1="2.9" x2="111.83" y2="-1.01" stroke="rgb(136,144,159)" stroke-width="1.0" opacity="0.52"/>
<line x1="43.51" y1="54.39" x2="47.26" y2="51.18" stroke="rgb(45,46,50)" stroke-width="1.2" opacity="0.50"/>
<line x1="9.36" y1="23.37" x2="15.32" y2="20.19" stroke="rgb(39,54,90)" stroke-width="1.0" opacity="0.60"/>
<line x1="32.21" y1="103.33" x2="38.28" y2="96.67" stroke="rgb(57,61,45)" stroke-width="1.2" opacity="0.58"/>
<line x1="101.35" y1="42.15" x2="105.62" y2="33.78" stroke="rgb(13,14,17)" stroke-width="1.0" opacity="0.41"/>
<line x1="99.96" y1="30.89" x2="102.82" y2="25.68" stroke="rgb(118,125,137)" stroke-width="0.6" opacity="0.67"/>
<line x1="85.91" y1="58.27" x2="89.15" y2="52.49" stroke="rgb(92,98,110)" stroke-width="0.6" opacity="0.49"/>
<line x1="96.63" y1="76.35" x2="98.7" y2="68.34" stroke="rgb(114,121,134)" stroke-width="1.2" opacity="0.56"/>
<line x1="38.43" y1="8.26" x2="47.47" y2="4.86" stroke="rgb(149,156,187)" stroke-width="0.8" opacity="0.45"/>
<line x1="6.11" y1="6.4" x2="13.2" y2="4.57" stroke="rgb(26,37,67)" stroke-width="0.8" opacity="0.74"/>
<line x1="102.8" y1="43.43" x2="105.58" y2="38.3" stroke="rgb(118,125,139)" stroke-width="0.6" opacity="0.69"/>
<line x1="30.85" y1="27.32" x2="34.85" y2="24.71" stroke="rgb(65,56,31)" stroke-width="1.2" opacity="0.57"/>
<line x1="1.02" y1="74.6" x2="7.85" y2="70.18" stroke="rgb(160,178,118)" stroke-width="1.0" opacity="0.48"/>
<line x1="37.31" y1="87.73" x2="40.29" y2="84.97" stroke="rgb(179,154,87)" stroke-width="1.0" opacity="0.70"/>
<line x1="29.24" y1="33.52" x2="37.03" y2="30.28" stroke="rgb(156,151,149)" stroke-width="1.0" opacity="0.53"/>
<line x1="97.87" y1="28.08" x2="100.4" y2="24.88" stroke="rgb(21,23,26)" stroke-width="1.2" opacity="0.50"/>
<line x1="34.98" y1="57.03" x2="41.26" y2="50.14" stroke="rgb(51,55,71)" stroke-width="0.8" opacity="0.59"/>
<line x1="18.24" y1="23.49" x2="24.39" y2="22" stroke="rgb(35,41,37)" stroke-width="1.2" opacity="0.70"/>
<line x1="64.04" y1="36.78" x2="70.24" y2="28.19" stroke="rgb(37,38,38)" stroke-width="0.8" opacity="0.74"/>
<line x1="7.47" y1="20.98" x2="14.12" y2="18.27" stroke="rgb(27,39,71)" stroke-width="0.8" opacity="0.59"/>
<line x1="-3.11" y1="56.81" x2="0.32" y2="54.71" stroke="rgb(49,56,39)" stroke-width="0.8" opacity="0.59"/>
<line x1="5.15" y1="-1.83" x2="9.22" y2="-2.15" stroke="rgb(58,66,45)" stroke-width="1.0" opacity="0.51"/>
<line x1="11.94" y1="82.53" x2="16.24" y2="79.2" stroke="rgb(54,66,78)" stroke-width="0.8" opacity="0.57"/>
<line x1="41.62" y1="40.69" x2="47.53" y2="36.76" stroke="rgb(158,153,137)" stroke-width="1.2" opacity="0.45"/>
<line x1="33.81" y1="7.26" x2="39.87" y2="5.41" stroke="rgb(39,36,29)" stroke-width="0.8" opacity="0.48"/>
<line x1="77.1" y1="25.63" x2="82.38" y2="20.66" stroke="rgb(106,113,126)" stroke-width="1.2" opacity="0.73"/>
<line x1="28.48" y1="86.75" x2="33.56" y2="81.55" stroke="rgb(75,64,36)" stroke-width="1.0" opacity="0.66"/>
<line x1="42.09" y1="5.25" x2="45.78" y2="3.65" stroke="rgb(127,136,176)" stroke-width="0.8" opacity="0.64"/>
<line x1="8.99" y1="39.25" x2="18.29" y2="34.64" stroke="rgb(53,62,57)" stroke-width="0.6" opacity="0.74"/>
<line x1="27.59" y1="80.89" x2="35.13" y2="73.81" stroke="rgb(177,152,87)" stroke-width="1.0" opacity="0.64"/>
<line x1="67.7" y1="42.66" x2="75.86" y2="35.6" stroke="rgb(32,34,39)" stroke-width="1.0" opacity="0.61"/>
<line x1="97.2" y1="34.89" x2="101.94" y2="27.73" stroke="rgb(100,106,118)" stroke-width="1.0" opacity="0.74"/>
<line x1="26.63" y1="10.83" x2="32.74" y2="9.55" stroke="rgb(44,46,58)" stroke-width="1.2" opacity="0.63"/>
<line x1="94.01" y1="82.3" x2="95.8" y2="78.47" stroke="rgb(15,17,21)" stroke-width="1.2" opacity="0.45"/>
<line x1="-6.82" y1="44.29" x2="0.41" y2="40.71" stroke="rgb(176,198,132)" stroke-width="0.8" opacity="0.66"/>
<line x1="44.1" y1="23.42" x2="48.96" y2="19.61" stroke="rgb(149,159,203)" stroke-width="1.0" opacity="0.63"/>
<line x1="34.59" y1="99.7" x2="41.57" y2="91.67" stroke="rgb(160,168,121)" stroke-width="0.8" opacity="0.65"/>
<line x1="41.54" y1="5.09" x2="48.43" y2="2.17" stroke="rgb(48,52,70)" stroke-width="0.6" opacity="0.40"/>
<line x1="7.71" y1="33.98" x2="15.45" y2="28.64" stroke="rgb(103,132,192)" stroke-width="1.0" opacity="0.49"/>
<line x1="55.68" y1="76.63" x2="59.33" y2="68.38" stroke="rgb(63,60,49)" stroke-width="0.6" opacity="0.45"/>
<line x1="75.45" y1="44.33" x2="78.38" y2="38.97" stroke="rgb(75,80,90)" stroke-width="1.0" opacity="0.51"/>
<line x1="105.5" y1="93.06" x2="107.11" y2="84.17" stroke="rgb(115,122,135)" stroke-width="0.6" opacity="0.42"/>
<line x1="93.53" y1="61.15" x2="97.57" y2="53.88" stroke="rgb(12,13,16)" stroke-width="1.2" opacity="0.48"/>
<line x1="8.28" y1="30.05" x2="15.95" y2="25.28" stroke="rgb(39,54,89)" stroke-width="0.6" opacity="0.60"/>
<line x1="-6.14" y1="64.32" x2="1.85" y2="56.84" stroke="rgb(128,151,138)" stroke-width="0.8" opacity="0.70"/>
<line x1="53.85" y1="51.88" x2="59.89" y2="45.46" stroke="rgb(208,200,162)" stroke-width="0.6" opacity="0.68"/>
<line x1="32.97" y1="54.89" x2="36.43" y2="50.69" stroke="rgb(50,54,72)" stroke-width="1.2" opacity="0.45"/>
<line x1="48.66" y1="48.16" x2="54.2" y2="41.34" stroke="rgb(145,152,185)" stroke-width="1.0" opacity="0.55"/>
<line x1="94.1" y1="95.78" x2="96.24" y2="87.35" stroke="rgb(97,103,116)" stroke-width="1.2" opacity="0.50"/>
<line x1="23.49" y1="83.18" x2="29.73" y2="76.14" stroke="rgb(193,167,95)" stroke-width="1.0" opacity="0.53"/>
<line x1="92.2" y1="86.22" x2="96.5" y2="76.87" stroke="rgb(103,109,122)" stroke-width="1.2" opacity="0.63"/>
<line x1="109.17" y1="31.03" x2="112.06" y2="21.66" stroke="rgb(12,13,16)" stroke-width="0.8" opacity="0.57"/>
<line x1="17.98" y1="46.4" x2="24.55" y2="41.57" stroke="rgb(70,76,56)" stroke-width="0.8" opacity="0.50"/>
<line x1="67.22" y1="38.62" x2="71.1" y2="33.02" stroke="rgb(61,60,53)" stroke-width="0.6" opacity="0.68"/>
<line x1="41.43" y1="3.62" x2="48.8" y2="1.16" stroke="rgb(37,37,42)" stroke-width="1.0" opacity="0.71"/>
<line x1="70.54" y1="41.29" x2="75.36" y2="34.94" stroke="rgb(26,29,33)" stroke-width="0.6" opacity="0.52"/>
<line x1="84.11" y1="104.08" x2="85.69" y2="93.67" stroke="rgb(54,54,50)" stroke-width="0.6" opacity="0.69"/>
<line x1="52.18" y1="13.47" x2="61.7" y2="8.7" stroke="rgb(49,45,38)" stroke-width="1.0" opacity="0.42"/>
<line x1="37.45" y1="85.3" x2="42.38" y2="76.28" stroke="rgb(174,150,85)" stroke-width="1.2" opacity="0.73"/>
<line x1="17.26" y1="24.48" x2="22.75" y2="22.04" stroke="rgb(81,112,197)" stroke-width="1.2" opacity="0.54"/>
<line x1="57.17" y1="21.91" x2="61.14" y2="18.72" stroke="rgb(198,191,155)" stroke-width="0.8" opacity="0.64"/>
<line x1="46.42" y1="84.95" x2="50.68" y2="75.96" stroke="rgb(38,41,56)" stroke-width="1.2" opacity="0.63"/>
<line x1="36.58" y1="100" x2="44.06" y2="92.64" stroke="rgb(193,166,94)" stroke-width="1.2" opacity="0.72"/>
<line x1="99.81" y1="30.84" x2="104.17" y2="24.44" stroke="rgb(117,123,136)" stroke-width="1.0" opacity="0.69"/>
<line x1="84.85" y1="31.55" x2="90.53" y2="23.08" stroke="rgb(77,83,93)" stroke-width="0.8" opacity="0.75"/>
<line x1="58.16" y1="52.63" x2="62.79" y2="48.62" stroke="rgb(175,170,142)" stroke-width="0.8" opacity="0.68"/>
<line x1="30.55" y1="26.89" x2="39.54" y2="21.71" stroke="rgb(91,78,44)" stroke-width="0.8" opacity="0.51"/>
<line x1="25.57" y1="21.74" x2="32.83" y2="17.77" stroke="rgb(69,61,40)" stroke-width="1.0" opacity="0.43"/>
<line x1="23.24" y1="17.06" x2="27.32" y2="16.09" stroke="rgb(66,57,32)" stroke-width="0.6" opacity="0.58"/>
<line x1="77.61" y1="56.26" x2="80.77" y2="48.27" stroke="rgb(37,39,45)" stroke-width="0.6" opacity="0.52"/>
<line x1="-5.28" y1="49.48" x2="1.5" y2="46.44" stroke="rgb(63,72,50)" stroke-width="1.0" opacity="0.58"/>
<line x1="21.68" y1="97.46" x2="27.88" y2="92.17" stroke="rgb(38,51,85)" stroke-width="0.8" opacity="0.45"/>
<line x1="94.84" y1="91.3" x2="98.2" y2="81.31" stroke="rgb(88,94,106)" stroke-width="1.0" opacity="0.60"/>
<line x1="19.12" y1="51.87" x2="24.39" y2="48.87" stroke="rgb(191,175,108)" stroke-width="0.8" opacity="0.62"/>
<line x1="19.4" y1="-2.67" x2="24.76" y2="-3.4" stroke="rgb(168,167,114)" stroke-width="1.2" opacity="0.49"/>
<line x1="61.13" y1="101.25" x2="66.59" y2="93.37" stroke="rgb(52,52,51)" stroke-width="1.2" opacity="0.72"/>
<line x1="68.64" y1="70.15" x2="72.68" y2="61.27" stroke="rgb(208,200,163)" stroke-width="0.6" opacity="0.44"/>
<line x1="45.18" y1="86.12" x2="49.17" y2="79.5" stroke="rgb(52,55,67)" stroke-width="1.0" opacity="0.41"/>
<line x1="30.33" y1="85.51" x2="35.75" y2="78.89" stroke="rgb(71,61,34)" stroke-width="0.6" opacity="0.73"/>
<line x1="53.06" y1="63.24" x2="56.84" y2="59.78" stroke="rgb(207,199,162)" stroke-width="0.6" opacity="0.49"/>
<line x1="19.09" y1="53.16" x2="23.28" y2="49.4" stroke="rgb(105,141,231)" stroke-width="1.2" opacity="0.67"/>
<line x1="103.29" y1="94.51" x2="106.38" y2="85.61" stroke="rgb(121,128,143)" stroke-width="0.6" opacity="0.62"/>
<line x1="105.29" y1="96.52" x2="106.81" y2="92.62" stroke="rgb(111,118,131)" stroke-width="1.0" opacity="0.68"/>
<line x1="24.23" y1="78.14" x2="28.14" y2="74.95" stroke="rgb(192,166,95)" stroke-width="0.6" opacity="0.53"/>
<line x1="28.04" y1="48.43" x2="33.68" y2="45.51" stroke="rgb(72,62,35)" stroke-width="1.2" opacity="0.46"/>
<line x1="101.42" y1="18.33" x2="104.77" y2="13.9" stroke="rgb(89,95,105)" stroke-width="0.6" opacity="0.71"/>
<line x1="108.92" y1="82.52" x2="110.53" y2="77.83" stroke="rgb(122,129,143)" stroke-width="0.6" opacity="0.71"/>
<line x1="95.17" y1="67.11" x2="97.1" y2="57.37" stroke="rgb(83,89,99)" stroke-width="0.8" opacity="0.53"/>
<line x1="100.27" y1="45.32" x2="102.49" y2="35.05" stroke="rgb(71,76,86)" stroke-width="1.2" opacity="0.74"/>
<line x1="7.52" y1="10.9" x2="13.93" y2="9.09" stroke="rgb(26,38,71)" stroke-width="0.6" opacity="0.51"/>
<line x1="64.6" y1="92.16" x2="67.46" y2="88.12" stroke="rgb(188,180,146)" stroke-width="0.6" opacity="0.49"/>
<line x1="70.14" y1="31.85" x2="75.41" y2="26" stroke="rgb(102,108,117)" stroke-width="1.0" opacity="0.65"/>
<line x1="3.31" y1="46.1" x2="13.48" y2="42.1" stroke="rgb(45,53,51)" stroke-width="1.2" opacity="0.54"/>
<line x1="94.81" y1="88.01" x2="97.94" y2="81.3" stroke="rgb(17,19,23)" stroke-width="0.8" opacity="0.51"/>
<line x1="65.45" y1="10.58" x2="73.5" y2="7.28" stroke="rgb(128,132,137)" stroke-width="0.6" opacity="0.75"/>
<line x1="6.47" y1="11.47" x2="12.99" y2="8.11" stroke="rgb(86,121,217)" stroke-width="0.8" opacity="0.50"/>
<line x1="34.17" y1="35.82" x2="42.08" y2="29.9" stroke="rgb(51,56,74)" stroke-width="1.0" opacity="0.65"/>
<line x1="15.7" y1="59.98" x2="22.51" y2="54.48" stroke="rgb(43,44,32)" stroke-width="1.0" opacity="0.62"/>
<line x1="73.05" y1="82.61" x2="78.17" y2="75.59" stroke="rgb(67,65,52)" stroke-width="1.2" opacity="0.51"/>
<line x1="26.43" y1="20.71" x2="32.46" y2="19.23" stroke="rgb(181,158,100)" stroke-width="1.0" opacity="0.43"/>
<line x1="6.6" y1="14.74" x2="13.62" y2="11.79" stroke="rgb(29,39,64)" stroke-width="0.6" opacity="0.51"/>
<line x1="72.01" y1="104.16" x2="74.06" y2="97.51" stroke="rgb(63,61,49)" stroke-width="1.2" opacity="0.52"/>
<line x1="40.68" y1="1.67" x2="46.07" y2="-0.18" stroke="rgb(149,157,193)" stroke-width="1.0" opacity="0.70"/>
<line x1="76.41" y1="82.11" x2="78.11" y2="77.23" stroke="rgb(192,193,180)" stroke-width="0.6" opacity="0.51"/>
<line x1="65.7" y1="95.95" x2="70.71" y2="86.59" stroke="rgb(72,70,57)" stroke-width="0.8" opacity="0.53"/>
<line x1="80.25" y1="31.81" x2="83.84" y2="27.2" stroke="rgb(17,19,22)" stroke-width="1.2" opacity="0.57"/>
<line x1="9.16" y1="84.06" x2="15.75" y2="76.04" stroke="rgb(60,74,85)" stroke-width="0.8" opacity="0.65"/>
<line x1="22.62" y1="80.81" x2="28.24" y2="72.68" stroke="rgb(183,158,90)" stroke-width="0.8" opacity="0.49"/>
<line x1="-4.01" y1="24.38" x2="5.65" y2="20.55" stroke="rgb(146,178,191)" stroke-width="0.6" opacity="0.74"/>
<line x1="5.76" y1="81.37" x2="11.27" y2="77.13" stroke="rgb(52,58,42)" stroke-width="1.2" opacity="0.44"/>
<line x1="11.34" y1="12.33" x2="15.32" y2="10.88" stroke="rgb(206,177,101)" stroke-width="0.8" opacity="0.74"/>
<line x1="29.17" y1="19.03" x2="32.57" y2="16.83" stroke="rgb(60,51,29)" stroke-width="1.2" opacity="0.51"/>
<line x1="47.36" y1="79.13" x2="53.57" y2="73.49" stroke="rgb(136,143,178)" stroke-width="1.0" opacity="0.41"/>
<line x1="7.75" y1="-0.72" x2="15.15" y2="-2.3" stroke="rgb(26,36,66)" stroke-width="0.8" opacity="0.43"/>
<line x1="102.36" y1="5.57" x2="105.94" y2="-1" stroke="rgb(91,98,109)" stroke-width="1.2" opacity="0.68"/>
<line x1="58.36" y1="102.15" x2="61.06" y2="97.07" stroke="rgb(57,60,72)" stroke-width="0.6" opacity="0.53"/>
<line x1="18.19" y1="54.84" x2="22.88" y2="49.94" stroke="rgb(59,54,33)" stroke-width="1.2" opacity="0.61"/>
<line x1="109.03" y1="74.2" x2="111.93" y2="65.38" stroke="rgb(12,13,16)" stroke-width="1.0" opacity="0.65"/>
<line x1="33.23" y1="42.93" x2="41.26" y2="37.12" stroke="rgb(40,42,55)" stroke-width="0.6" opacity="0.69"/>
<line x1="0.55" y1="40.21" x2="5.17" y2="37.81" stroke="rgb(96,128,205)" stroke-width="1.0" opacity="0.57"/>
<line x1="89.53" y1="70.8" x2="92.17" y2="65.73" stroke="rgb(140,148,164)" stroke-width="1.0" opacity="0.52"/>
<line x1="48.02" y1="98.49" x2="51.69" y2="92.59" stroke="rgb(49,42,24)" stroke-width="0.8" opacity="0.60"/>
<line x1="97.15" y1="58.77" x2="99.24" y2="53.82" stroke="rgb(118,125,138)" stroke-width="0.8" opacity="0.50"/>
<line x1="6.67" y1="7.11" x2="11.97" y2="5.04" stroke="rgb(91,125,219)" stroke-width="0.6" opacity="0.64"/>
<line x1="9.61" y1="86.63" x2="12.59" y2="82.46" stroke="rgb(53,66,79)" stroke-width="1.2" opacity="0.61"/>
<line x1="-5.61" y1="7.05" x2="-0.42" y2="5.29" stroke="rgb(134,157,129)" stroke-width="0.8" opacity="0.59"/>
<line x1="20.54" y1="3.65" x2="30.44" y2="1.96" stroke="rgb(182,157,90)" stroke-width="1.0" opacity="0.69"/>
<line x1="68.85" y1="97.48" x2="73.03" y2="91.76" stroke="rgb(195,188,152)" stroke-width="0.8" opacity="0.74"/>
<line x1="40.2" y1="74.93" x2="42.79" y2="71.48" stroke="rgb(65,62,57)" stroke-width="1.0" opacity="0.61"/>
<line x1="47.95" y1="29.07" x2="51.83" y2="25.25" stroke="rgb(55,53,43)" stroke-width="1.2" opacity="0.71"/>
<line x1="-4.53" y1="98.47" x2="1.48" y2="93.02" stroke="rgb(59,66,44)" stroke-width="1.0" opacity="0.71"/>
<line x1="14.25" y1="80.34" x2="19.37" y2="76.42" stroke="rgb(25,34,55)" stroke-width="1.0" opacity="0.46"/>
<line x1="74.04" y1="101.81" x2="76.61" y2="96.72" stroke="rgb(60,60,55)" stroke-width="0.6" opacity="0.50"/>
<line x1="41.11" y1="29.29" x2="46.18" y2="26.2" stroke="rgb(132,141,181)" stroke-width="1.2" opacity="0.71"/>
<line x1="74.94" y1="15.85" x2="82.6" y2="11.78" stroke="rgb(123,131,145)" stroke-width="1.0" opacity="0.47"/>
<line x1="51.79" y1="73.6" x2="57.19" y2="65.7" stroke="rgb(71,68,56)" stroke-width="0.8" opacity="0.65"/>
<line x1="16.65" y1="53.36" x2="24.11" y2="47.18" stroke="rgb(52,45,25)" stroke-width="0.8" opacity="0.70"/>
<line x1="65.97" y1="46.38" x2="74.17" y2="39.75" stroke="rgb(51,50,43)" stroke-width="1.0" opacity="0.42"/>
<line x1="83.76" y1="60.08" x2="86.06" y2="56.44" stroke="rgb(18,20,24)" stroke-width="1.0" opacity="0.44"/>
<line x1="107.42" y1="97.03" x2="107.95" y2="91.9" stroke="rgb(114,121,135)" stroke-width="0.8" opacity="0.63"/>
<line x1="80.28" y1="89.63" x2="84.99" y2="80.47" stroke="rgb(36,38,42)" stroke-width="1.0" opacity="0.47"/>
<line x1="-5.13" y1="100.7" x2="0.12" y2="96.25" stroke="rgb(158,176,114)" stroke-width="0.8" opacity="0.68"/>
<line x1="92.11" y1="46.21" x2="95.21" y2="40.53" stroke="rgb(126,134,148)" stroke-width="0.8" opacity="0.56"/>
<line x1="91.71" y1="7.06" x2="95.03" y2="3.85" stroke="rgb(124,132,145)" stroke-width="0.6" opacity="0.70"/>
<line x1="103.78" y1="69.25" x2="104.94" y2="62.27" stroke="rgb(127,134,149)" stroke-width="0.8" opacity="0.40"/>
<line x1="32.71" y1="83.92" x2="36.93" y2="78.99" stroke="rgb(159,159,108)" stroke-width="0.6" opacity="0.65"/>
<line x1="51.73" y1="4.77" x2="55.74" y2="3.07" stroke="rgb(128,118,101)" stroke-width="1.0" opacity="0.43"/>
<line x1="13.55" y1="18.23" x2="17.98" y2="17.37" stroke="rgb(156,164,118)" stroke-width="1.0" opacity="0.61"/>
<line x1="40.51" y1="53.65" x2="48.79" y2="46.64" stroke="rgb(41,45,60)" stroke-width="1.2" opacity="0.41"/>
<line x1="41.85" y1="21.02" x2="47.24" y2="18.4" stroke="rgb(151,162,207)" stroke-width="0.6" opacity="0.57"/>
<line x1="55.24" y1="34.9" x2="64.53" y2="29.22" stroke="rgb(51,50,42)" stroke-width="1.2" opacity="0.67"/>
<line x1="35.75" y1="51.99" x2="41.74" y2="45.68" stroke="rgb(52,54,66)" stroke-width="0.8" opacity="0.59"/>
<line x1="56.11" y1="12.99" x2="60.01" y2="10.25" stroke="rgb(59,56,46)" stroke-width="1.0" opacity="0.43"/>
<line x1="57.59" y1="34.77" x2="63.67" y2="30.38" stroke="rgb(80,78,68)" stroke-width="1.2" opacity="0.65"/>
<line x1="73.75" y1="99.91" x2="75.89" y2="95.27" stroke="rgb(68,66,53)" stroke-width="1.0" opacity="0.65"/>
<line x1="39.9" y1="60.4" x2="43" y2="56.06" stroke="rgb(80,69,39)" stroke-width="0.8" opacity="0.43"/>
<line x1="82.14" y1="51.18" x2="85.61" y2="44.76" stroke="rgb(18,20,24)" stroke-width="1.2" opacity="0.56"/>
<line x1="76.31" y1="41.14" x2="78.95" y2="36.64" stroke="rgb(100,107,119)" stroke-width="1.0" opacity="0.57"/>
<line x1="6.56" y1="48.33" x2="13.92" y2="44.35" stroke="rgb(98,132,221)" stroke-width="0.6" opacity="0.62"/>
<line x1="21.39" y1="103.58" x2="26.71" y2="94.76" stroke="rgb(28,38,61)" stroke-width="0.8" opacity="0.65"/>
<line x1="99.23" y1="76.16" x2="101.51" y2="68" stroke="rgb(124,131,145)" stroke-width="0.6" opacity="0.56"/>
<line x1="64.77" y1="103.44" x2="69.22" y2="95.78" stroke="rgb(72,70,56)" stroke-width="1.2" opacity="0.42"/>
<line x1="92.44" y1="1.34" x2="100.81" y2="-4.94" stroke="rgb(19,21,24)" stroke-width="0.6" opacity="0.62"/>
<line x1="69.74" y1="85.74" x2="75.02" y2="78.83" stroke="rgb(168,165,142)" stroke-width="1.0" opacity="0.42"/>
<line x1="61.36" y1="16.95" x2="66.39" y2="12.21" stroke="rgb(70,68,58)" stroke-width="0.6" opacity="0.74"/>
<line x1="33.6" y1="67.24" x2="38.21" y2="60.9" stroke="rgb(60,55,43)" stroke-width="0.8" opacity="0.46"/>
<line x1="74.47" y1="68.67" x2="77.29" y2="63.88" stroke="rgb(32,34,35)" stroke-width="1.2" opacity="0.72"/>
<line x1="49.17" y1="82.78" x2="53.43" y2="78.76" stroke="rgb(132,139,173)" stroke-width="0.6" opacity="0.41"/>
<line x1="107.5" y1="7.76" x2="110.02" y2="1.45" stroke="rgb(87,93,104)" stroke-width="1.2" opacity="0.53"/>
<line x1="8.63" y1="31.56" x2="14.79" y2="29.18" stroke="rgb(55,66,68)" stroke-width="1.0" opacity="0.69"/>
<line x1="12.35" y1="8.18" x2="20.61" y2="5.97" stroke="rgb(169,176,126)" stroke-width="1.2" opacity="0.64"/>
<line x1="108.76" y1="0.05" x2="111.56" y2="-3.77" stroke="rgb(79,84,95)" stroke-width="1.2" opacity="0.42"/>
<line x1="72.05" y1="25.13" x2="78.57" y2="16.53" stroke="rgb(39,42,47)" stroke-width="1.0" opacity="0.71"/>
<line x1="56.97" y1="13.28" x2="61.56" y2="11.13" stroke="rgb(39,37,30)" stroke-width="0.8" opacity="0.44"/>
<line x1="24.5" y1="-3.33" x2="29.15" y2="-4.66" stroke="rgb(77,67,38)" stroke-width="1.2" opacity="0.71"/>
<line x1="16.14" y1="73.81" x2="20.18" y2="69.93" stroke="rgb(151,155,109)" stroke-width="1.0" opacity="0.72"/>
<line x1="108.46" y1="27.01" x2="111.51" y2="18.34" stroke="rgb(87,93,103)" stroke-width="1.2" opacity="0.73"/>
<line x1="13.54" y1="5.25" x2="18.21" y2="4.56" stroke="rgb(185,176,114)" stroke-width="1.0" opacity="0.67"/>
<line x1="43.77" y1="70.17" x2="49.88" y2="61.19" stroke="rgb(37,41,54)" stroke-width="0.8" opacity="0.44"/>
<line x1="40.68" y1="-0.1" x2="50.26" y2="-4.37" stroke="rgb(57,62,83)" stroke-width="1.0" opacity="0.54"/>
<line x1="87.86" y1="68.11" x2="89.98" y2="61.12" stroke="rgb(142,150,166)" stroke-width="1.2" opacity="0.50"/>
<line x1="66.88" y1="73.36" x2="69.53" y2="69.8" stroke="rgb(60,58,50)" stroke-width="0.6" opacity="0.69"/>
<line x1="44.68" y1="49.12" x2="51.47" y2="44.31" stroke="rgb(61,62,69)" stroke-width="0.8" opacity="0.51"/>
<line x1="18.84" y1="66.55" x2="26.41" y2="61.59" stroke="rgb(136,156,122)" stroke-width="1.0" opacity="0.71"/>
<line x1="39.19" y1="79.79" x2="46.34" y2="72.87" stroke="rgb(58,57,59)" stroke-width="0.6" opacity="0.73"/>
<line x1="87.91" y1="70.58" x2="89.88" y2="65.32" stroke="rgb(146,154,171)" stroke-width="1.2" opacity="0.67"/>
<line x1="38.05" y1="34.59" x2="44.91" y2="30.36" stroke="rgb(196,187,151)" stroke-width="1.0" opacity="0.66"/>
<line x1="14.19" y1="50.21" x2="20.64" y2="45.97" stroke="rgb(179,155,88)" stroke-width="1.2" opacity="0.48"/>
<line x1="89.8" y1="39.26" x2="94.46" y2="32.51" stroke="rgb(86,92,103)" stroke-width="0.8" opacity="0.50"/>
<line x1="42.55" y1="26.85" x2="49.6" y2="24.07" stroke="rgb(61,65,84)" stroke-width="1.2" opacity="0.62"/>
<line x1="42.12" y1="50.2" x2="45.31" y2="47.48" stroke="rgb(39,41,51)" stroke-width="1.2" opacity="0.51"/>
<line x1="53.54" y1="56.1" x2="61.41" y2="49.43" stroke="rgb(197,189,153)" stroke-width="0.6" opacity="0.61"/>
<line x1="16.34" y1="24.75" x2="23.06" y2="21.02" stroke="rgb(76,66,37)" stroke-width="1.0" opacity="0.72"/>
<line x1="-1.17" y1="8.24" x2="9" y2="6.35" stroke="rgb(60,72,66)" stroke-width="1.0" opacity="0.66"/>
<line x1="-3.49" y1="52.77" x2="2.13" y2="48.34" stroke="rgb(146,167,118)" stroke-width="1.0" opacity="0.41"/>
<line x1="85.8" y1="72.03" x2="88.51" y2="64.08" stroke="rgb(90,96,108)" stroke-width="0.8" opacity="0.54"/>
<line x1="47.69" y1="43.08" x2="53.08" y2="37.55" stroke="rgb(199,190,154)" stroke-width="1.0" opacity="0.46"/>
<line x1="48.86" y1="4.32" x2="57.52" y2="0.5" stroke="rgb(138,128,109)" stroke-width="1.0" opacity="0.55"/>
<line x1="12.48" y1="71.83" x2="21.08" y2="66.45" stroke="rgb(36,45,53)" stroke-width="1.0" opacity="0.40"/>
<line x1="61.91" y1="38.06" x2="65.89" y2="32.87" stroke="rgb(111,118,131)" stroke-width="1.0" opacity="0.74"/>
<line x1="101.97" y1="9.79" x2="108.72" y2="1.67" stroke="rgb(29,31,35)" stroke-width="1.2" opacity="0.57"/>
<line x1="91.63" y1="80.74" x2="94.36" y2="74.85" stroke="rgb(130,138,153)" stroke-width="1.2" opacity="0.68"/>
<line x1="91.29" y1="74.41" x2="93.17" y2="66.72" stroke="rgb(17,19,22)" stroke-width="0.6" opacity="0.50"/>
<line x1="56.32" y1="63.39" x2="60.46" y2="59.79" stroke="rgb(70,67,55)" stroke-width="1.2" opacity="0.52"/>
<line x1="56.63" y1="0.96" x2="61.44" y2="-0.95" stroke="rgb(37,34,28)" stroke-width="0.6" opacity="0.47"/>
<line x1="57.58" y1="84.27" x2="59.98" y2="79.9" stroke="rgb(82,79,64)" stroke-width="0.6" opacity="0.59"/>
<line x1="84.33" y1="93.51" x2="85.7" y2="89.68" stroke="rgb(45,44,39)" stroke-width="0.6" opacity="0.67"/>
<line x1="45.82" y1="19.22" x2="51.13" y2="15.31" stroke="rgb(205,196,159)" stroke-width="1.0" opacity="0.72"/>
<line x1="-0.35" y1="45.16" x2="8.39" y2="39.35" stroke="rgb(138,174,214)" stroke-width="1.0" opacity="0.61"/>
<line x1="83.46" y1="4.84" x2="91.58" y2="-1.43" stroke="rgb(31,33,38)" stroke-width="0.6" opacity="0.51"/>
<line x1="13.83" y1="37.66" x2="22.15" y2="34.79" stroke="rgb(81,80,54)" stroke-width="1.2" opacity="0.62"/>
<line x1="26.36" y1="94.2" x2="30.61" y2="89.02" stroke="rgb(58,51,30)" stroke-width="0.6" opacity="0.45"/>
<line x1="14.38" y1="56.62" x2="23.89" y2="51.33" stroke="rgb(62,60,39)" stroke-width="0.6" opacity="0.55"/>
<line x1="64.01" y1="36.7" x2="67.38" y2="34.16" stroke="rgb(36,38,41)" stroke-width="0.8" opacity="0.58"/>
<line x1="25.18" y1="23.99" x2="31.28" y2="20.66" stroke="rgb(192,165,94)" stroke-width="0.8" opacity="0.42"/>
<line x1="-5.98" y1="76.74" x2="-1.07" y2="72.9" stroke="rgb(172,194,129)" stroke-width="0.6" opacity="0.55"/>
<line x1="7.28" y1="93.7" x2="10.88" y2="89.49" stroke="rgb(67,75,49)" stroke-width="1.0" opacity="0.56"/>
<line x1="55.69" y1="79.7" x2="62.27" y2="71.66" stroke="rgb(196,188,153)" stroke-width="0.6" opacity="0.42"/>
<line x1="83.57" y1="-1.46" x2="92.68" y2="-5.88" stroke="rgb(82,87,99)" stroke-width="1.2" opacity="0.43"/>
<line x1="75.82" y1="9.3" x2="79.05" y2="6.05" stroke="rgb(104,111,123)" stroke-width="1.2" opacity="0.45"/>
<line x1="34.97" y1="83.11" x2="38.23" y2="80.41" stroke="rgb(182,157,89)" stroke-width="0.6" opacity="0.68"/>
<line x1="11.72" y1="10.15" x2="20.67" y2="6.95" stroke="rgb(54,62,48)" stroke-width="1.2" opacity="0.71"/>
<line x1="106.37" y1="83.6" x2="106.91" y2="76.36" stroke="rgb(12,13,16)" stroke-width="0.8" opacity="0.53"/>
<line x1="57" y1="26.85" x2="63.53" y2="22.14" stroke="rgb(200,192,156)" stroke-width="0.6" opacity="0.46"/>
<line x1="48.99" y1="17.23" x2="52.96" y2="15.62" stroke="rgb(169,176,211)" stroke-width="1.2" opacity="0.56"/>
<line x1="108.58" y1="75.62" x2="110.49" y2="70.45" stroke="rgb(81,86,97)" stroke-width="1.0" opacity="0.50"/>
<line x1="63.83" y1="50.97" x2="68.81" y2="42.07" stroke="rgb(62,60,50)" stroke-width="1.0" opacity="0.42"/>
<line x1="68.81" y1="90.53" x2="70.6" y2="86.28" stroke="rgb(67,64,52)" stroke-width="1.0" opacity="0.44"/>
<line x1="78.75" y1="4.55" x2="85.57" y2="-1.25" stroke="rgb(27,29,33)" stroke-width="0.6" opacity="0.51"/>
<line x1="9.12" y1="-2.21" x2="13.71" y2="-3.35" stroke="rgb(91,121,203)" stroke-width="1.0" opacity="0.61"/>
<line x1="36.01" y1="65.93" x2="38.98" y2="62.13" stroke="rgb(167,162,158)" stroke-width="1.2" opacity="0.53"/>
<line x1="99.9" y1="92.98" x2="100.25" y2="82.76" stroke="rgb(17,18,22)" stroke-width="0.6" opacity="0.56"/>
<line x1="14.28" y1="3.67" x2="24.24" y2="-0.44" stroke="rgb(81,75,46)" stroke-width="1.0" opacity="0.48"/>
<line x1="96.24" y1="75.16" x2="98.51" y2="64.8" stroke="rgb(12,14,17)" stroke-width="0.6" opacity="0.46"/>
<line x1="34" y1="21.06" x2="39.09" y2="17.31" stroke="rgb(181,156,91)" stroke-width="1.2" opacity="0.66"/>
<line x1="63.11" y1="60.53" x2="65.92" y2="54.7" stroke="rgb(60,58,48)" stroke-width="1.0" opacity="0.73"/>
<line x1="92.04" y1="26.62" x2="94.26" y2="23.06" stroke="rgb(89,95,105)" stroke-width="0.8" opacity="0.73"/>
<line x1="79.04" y1="98.3" x2="81.34" y2="89.52" stroke="rgb(135,137,136)" stroke-width="1.2" opacity="0.46"/>
<line x1="50.75" y1="91.38" x2="55.45" y2="84.37" stroke="rgb(145,158,208)" stroke-width="0.8" opacity="0.50"/>
<line x1="40.13" y1="-0.53" x2="46.46" y2="-3.41" stroke="rgb(50,52,64)" stroke-width="0.8" opacity="0.61"/>
<line x1="54.8" y1="33.03" x2="60.49" y2="27.39" stroke="rgb(191,184,151)" stroke-width="0.8" opacity="0.67"/>
<line x1="44.96" y1="0.91" x2="52.19" y2="-1.58" stroke="rgb(143,138,129)" stroke-width="1.0" opacity="0.48"/>
<line x1="102.68" y1="1.07" x2="106.91" y2="-3.54" stroke="rgb(12,13,16)" stroke-width="0.8" opacity="0.42"/>
<line x1="22.74" y1="22.63" x2="30.81" y2="17.17" stroke="rgb(207,179,102)" stroke-width="1.2" opacity="0.53"/>
<line x1="48.23" y1="44.14" x2="53.24" y2="38.25" stroke="rgb(78,74,60)" stroke-width="0.6" opacity="0.59"/>
<line x1="77.72" y1="67.52" x2="83.59" y2="58.92" stroke="rgb(22,23,27)" stroke-width="0.8" opacity="0.58"/>
<line x1="29.61" y1="55.8" x2="35.05" y2="50.13" stroke="rgb(157,139,95)" stroke-width="1.2" opacity="0.50"/>
<line x1="51.23" y1="32.75" x2="57.21" y2="27.95" stroke="rgb(192,185,150)" stroke-width="0.8" opacity="0.62"/>
<line x1="74.36" y1="91.48" x2="76.29" y2="87.34" stroke="rgb(196,189,154)" stroke-width="0.6" opacity="0.52"/>
<line x1="37.46" y1="76.75" x2="42.41" y2="69.03" stroke="rgb(35,37,48)" stroke-width="1.0" opacity="0.63"/>
<line x1="51.37" y1="68.67" x2="57.52" y2="61.83" stroke="rgb(198,190,154)" stroke-width="0.6" opacity="0.45"/>
<line x1="91.27" y1="82.66" x2="93.24" y2="75.47" stroke="rgb(97,103,116)" stroke-width="1.2" opacity="0.66"/>
<line x1="28.87" y1="32.28" x2="36.15" y2="27.66" stroke="rgb(49,53,67)" stroke-width="1.2" opacity="0.62"/>
<line x1="9.93" y1="99.27" x2="14.78" y2="92.88" stroke="rgb(151,171,118)" stroke-width="1.2" opacity="0.50"/>
<line x1="86.74" y1="76.87" x2="90.78" y2="67.69" stroke="rgb(17,19,23)" stroke-width="0.8" opacity="0.66"/>
<line x1="29.97" y1="101.01" x2="35.31" y2="93.86" stroke="rgb(53,46,26)" stroke-width="0.8" opacity="0.43"/>
<line x1="82.75" y1="27.21" x2="86.03" y2="22.73" stroke="rgb(90,97,108)" stroke-width="1.0" opacity="0.67"/>
<line x1="6.44" y1="56.27" x2="14.42" y2="49.87" stroke="rgb(120,154,224)" stroke-width="0.8" opacity="0.56"/>
<line x1="17.62" y1="9.48" x2="22.24" y2="6.94" stroke="rgb(68,59,33)" stroke-width="0.6" opacity="0.61"/>
<line x1="-3.06" y1="95.97" x2="2.2" y2="92.05" stroke="rgb(76,85,55)" stroke-width="1.0" opacity="0.62"/>
<line x1="34.13" y1="83.25" x2="40.42" y2="74.37" stroke="rgb(125,133,169)" stroke-width="0.6" opacity="0.44"/>
<line x1="-4.31" y1="10.14" x2="3.19" y2="7.74" stroke="rgb(41,57,91)" stroke-width="1.2" opacity="0.42"/>
<line x1="42.74" y1="99.18" x2="46.09" y2="95.69" stroke="rgb(43,41,38)" stroke-width="1.0" opacity="0.67"/>
<line x1="49.1" y1="40.35" x2="55.58" y2="35.76" stroke="rgb(75,72,59)" stroke-width="1.0" opacity="0.42"/>
<line x1="103.42" y1="82.66" x2="106.16" y2="75.18" stroke="rgb(105,111,124)" stroke-width="1.0" opacity="0.61"/>
<line x1="23.36" y1="89.42" x2="30.13" y2="80.91" stroke="rgb(129,156,175)" stroke-width="0.8" opacity="0.70"/>
<line x1="60.66" y1="24.51" x2="67.19" y2="19.17" stroke="rgb(156,155,139)" stroke-width="0.8" opacity="0.63"/>
<line x1="78.3" y1="9.53" x2="82.71" y2="6.4" stroke="rgb(117,116,111)" stroke-width="1.0" opacity="0.49"/>
<line x1="99" y1="41.09" x2="101.15" y2="35.44" stroke="rgb(108,114,127)" stroke-width="0.6" opacity="0.74"/>
<line x1="39.97" y1="29.48" x2="48.43" y2="23.82" stroke="rgb(57,62,83)" stroke-width="0.6" opacity="0.42"/>
<line x1="-6.81" y1="69.11" x2="-1.06" y2="63.33" stroke="rgb(42,48,36)" stroke-width="1.2" opacity="0.56"/>
<line x1="-0.84" y1="97.76" x2="4.4" y2="91.83" stroke="rgb(181,200,131)" stroke-width="0.6" opacity="0.67"/>
<line x1="6.66" y1="52.75" x2="13.7" y2="46.31" stroke="rgb(34,47,77)" stroke-width="1.2" opacity="0.51"/>
<line x1="25.62" y1="44.85" x2="31.69" y2="39.8" stroke="rgb(60,51,29)" stroke-width="0.6" opacity="0.72"/>
<line x1="41.5" y1="23.6" x2="47.53" y2="21.36" stroke="rgb(49,49,48)" stroke-width="1.2" opacity="0.44"/>
<line x1="14.47" y1="16.67" x2="20.97" y2="14.31" stroke="rgb(86,118,204)" stroke-width="0.6" opacity="0.67"/>
<line x1="93.99" y1="60.57" x2="95.46" y2="55.97" stroke="rgb(90,96,107)" stroke-width="0.8" opacity="0.74"/>
<line x1="64.42" y1="90.18" x2="66.8" y2="85.97" stroke="rgb(187,179,145)" stroke-width="1.0" opacity="0.41"/>
<line x1="2.04" y1="89.68" x2="9.22" y2="82.21" stroke="rgb(40,56,93)" stroke-width="1.2" opacity="0.70"/>
<line x1="108.73" y1="95.03" x2="109.14" y2="89.02" stroke="rgb(14,16,19)" stroke-width="1.2" opacity="0.44"/>
<line x1="61.2" y1="73.4" x2="66.2" y2="68.17" stroke="rgb(69,66,53)" stroke-width="0.8" opacity="0.52"/>
<line x1="50.34" y1="91.1" x2="53.63" y2="87.19" stroke="rgb(42,42,40)" stroke-width="0.8" opacity="0.71"/>
<line x1="101.5" y1="72.07" x2="105.95" y2="62.57" stroke="rgb(99,105,117)" stroke-width="1.2" opacity="0.61"/>
<line x1="45.4" y1="90.78" x2="48.5" y2="86.45" stroke="rgb(142,149,180)" stroke-width="1.2" opacity="0.49"/>
<line x1="33.92" y1="10.53" x2="41.59" y2="7.49" stroke="rgb(39,42,55)" stroke-width="1.0" opacity="0.63"/>
<line x1="8.57" y1="0.42" x2="13.19" y2="-1.14" stroke="rgb(96,129,197)" stroke-width="1.2" opacity="0.49"/>
<line x1="5.05" y1="5.86" x2="9.64" y2="4.42" stroke="rgb(29,41,71)" stroke-width="1.0" opacity="0.41"/>
<line x1="106.34" y1="40.33" x2="110.12" y2="32.84" stroke="rgb(102,109,121)" stroke-width="1.0" opacity="0.52"/>
<line x1="80.98" y1="7.44" x2="86.24" y2="3.72" stroke="rgb(96,102,114)" stroke-width="1.0" opacity="0.47"/>
<line x1="59.22" y1="96.24" x2="62.98" y2="86.08" stroke="rgb(171,167,150)" stroke-width="1.2" opacity="0.53"/>
<line x1="-0.83" y1="29.22" x2="4.38" y2="27" stroke="rgb(112,137,141)" stroke-width="0.6" opacity="0.44"/>
<line x1="106.74" y1="15.23" x2="109.1" y2="11.55" stroke="rgb(22,24,27)" stroke-width="1.0" opacity="0.64"/>
<line x1="30.91" y1="32.25" x2="40.81" y2="27.83" stroke="rgb(55,47,26)" stroke-width="0.6" opacity="0.65"/>
<line x1="-3.14" y1="54.32" x2="4.43" y2="51.31" stroke="rgb(106,142,233)" stroke-width="0.8" opacity="0.55"/>
<line x1="27.19" y1="35.5" x2="34.69" y2="30.32" stroke="rgb(200,172,98)" stroke-width="0.8" opacity="0.64"/>
<line x1="80.94" y1="103.16" x2="82.68" y2="96.93" stroke="rgb(194,186,151)" stroke-width="0.6" opacity="0.61"/>
<line x1="102.29" y1="34.56" x2="106.68" y2="27.49" stroke="rgb(106,113,125)" stroke-width="0.6" opacity="0.67"/>
<line x1="101.2" y1="4.96" x2="106.56" y2="-0.25" stroke="rgb(14,15,18)" stroke-width="0.6" opacity="0.62"/>
<line x1="107.45" y1="70.87" x2="110.88" y2="62.18" stroke="rgb(112,119,132)" stroke-width="1.2" opacity="0.51"/>
<line x1="92.91" y1="44.16" x2="97.75" y2="34.97" stroke="rgb(129,136,151)" stroke-width="1.2" opacity="0.50"/>
<line x1="44.1" y1="78.53" x2="47.44" y2="75.06" stroke="rgb(53,56,70)" stroke-width="0.8" opacity="0.58"/>
<line x1="15.63" y1="77.7" x2="21.43" y2="73.1" stroke="rgb(44,43,29)" stroke-width="0.8" opacity="0.44"/>
<line x1="64.63" y1="57.41" x2="67.68" y2="54.55" stroke="rgb(81,78,63)" stroke-width="0.8" opacity="0.45"/>
<line x1="32.48" y1="40.94" x2="39.36" y2="35.89" stroke="rgb(65,56,35)" stroke-width="0.6" opacity="0.48"/>
<line x1="59.76" y1="1.89" x2="63.92" y2="0.96" stroke="rgb(123,113,97)" stroke-width="1.2" opacity="0.52"/>
<line x1="80.4" y1="21.52" x2="84.59" y2="17.31" stroke="rgb(45,48,53)" stroke-width="0.8" opacity="0.73"/>
<line x1="90.97" y1="18.88" x2="97.42" y2="11.12" stroke="rgb(49,52,57)" stroke-width="0.6" opacity="0.71"/>
<line x1="69.06" y1="86.16" x2="72.73" y2="80.2" stroke="rgb(206,199,161)" stroke-width="0.6" opacity="0.68"/>
<line x1="16.31" y1="3.59" x2="24.02" y2="0.56" stroke="rgb(182,174,114)" stroke-width="1.2" opacity="0.52"/>
<line x1="21.5" y1="37.47" x2="26.73" y2="35.3" stroke="rgb(175,151,86)" stroke-width="0.6" opacity="0.46"/>
<line x1="38.22" y1="83.9" x2="42.71" y2="77.42" stroke="rgb(49,53,69)" stroke-width="1.0" opacity="0.49"/>
<line x1="14.95" y1="58.66" x2="21.78" y2="52.79" stroke="rgb(57,68,67)" stroke-width="0.8" opacity="0.42"/>
<line x1="66.93" y1="68.66" x2="72.42" y2="59.49" stroke="rgb(170,172,166)" stroke-width="1.0" opacity="0.65"/>
<line x1="50.57" y1="53.31" x2="53.46" y2="50.48" stroke="rgb(155,153,148)" stroke-width="0.8" opacity="0.65"/>
<line x1="53.06" y1="86.07" x2="57.73" y2="80.1" stroke="rgb(66,65,62)" stroke-width="0.6" opacity="0.44"/>
<line x1="34.49" y1="51.48" x2="42.69" y2="44.7" stroke="rgb(51,54,69)" stroke-width="1.2" opacity="0.48"/>
<line x1="81.94" y1="24.39" x2="87.95" y2="17.05" stroke="rgb(45,48,54)" stroke-width="1.2" opacity="0.55"/>
<line x1="80.54" y1="30.15" x2="85.72" y2="22.25" stroke="rgb(27,29,33)" stroke-width="0.6" opacity="0.52"/>
<line x1="66.02" y1="43.98" x2="70.19" y2="37.07" stroke="rgb(68,69,65)" stroke-width="1.0" opacity="0.44"/>
<line x1="14.07" y1="83.38" x2="17.44" y2="80.74" stroke="rgb(95,125,199)" stroke-width="0.6" opacity="0.57"/>
<line x1="-0.94" y1="37.6" x2="5.54" y2="33.62" stroke="rgb(166,192,139)" stroke-width="0.8" opacity="0.54"/>
<line x1="106.99" y1="64.36" x2="108.92" y2="56.38" stroke="rgb(89,94,105)" stroke-width="0.6" opacity="0.60"/>
<line x1="49.68" y1="59.48" x2="53.84" y2="54.38" stroke="rgb(128,130,137)" stroke-width="0.6" opacity="0.50"/>
<line x1="98.51" y1="28.69" x2="99.95" y2="24.8" stroke="rgb(113,119,132)" stroke-width="0.8" opacity="0.61"/>
<line x1="4.98" y1="94.3" x2="9.02" y2="88.79" stroke="rgb(171,190,126)" stroke-width="1.2" opacity="0.68"/>
<line x1="31.07" y1="53.78" x2="38.37" y2="48.68" stroke="rgb(142,131,106)" stroke-width="0.8" opacity="0.73"/>
<line x1="88.93" y1="104.12" x2="93.93" y2="94.4" stroke="rgb(118,123,133)" stroke-width="0.6" opacity="0.53"/>
<line x1="104.69" y1="14.02" x2="108.34" y2="5.84" stroke="rgb(114,120,133)" stroke-width="0.6" opacity="0.47"/>
<line x1="8.58" y1="97.19" x2="16.22" y2="89.64" stroke="rgb(129,164,207)" stroke-width="1.0" opacity="0.74"/>
<line x1="90.22" y1="86.38" x2="94.04" y2="77.38" stroke="rgb(18,20,24)" stroke-width="1.0" opacity="0.43"/>
<line x1="70.28" y1="33.82" x2="72.88" y2="30.28" stroke="rgb(153,156,158)" stroke-width="1.0" opacity="0.52"/>
<line x1="65.15" y1="104.13" x2="69.81" y2="96.38" stroke="rgb(191,183,148)" stroke-width="0.6" opacity="0.50"/>
<line x1="66.56" y1="23.24" x2="69.53" y2="20.14" stroke="rgb(42,45,51)" stroke-width="1.2" opacity="0.58"/>
<line x1="72.54" y1="65.32" x2="75.44" y2="59.4" stroke="rgb(47,47,45)" stroke-width="1.2" opacity="0.43"/>
<line x1="20.93" y1="11.07" x2="27.93" y2="7.16" stroke="rgb(192,166,94)" stroke-width="1.2" opacity="0.43"/>
<line x1="34.16" y1="79.92" x2="37.47" y2="76.88" stroke="rgb(81,69,39)" stroke-width="1.2" opacity="0.48"/>
<line x1="35.53" y1="60.41" x2="39.51" y2="57.43" stroke="rgb(42,44,54)" stroke-width="0.6" opacity="0.66"/>
<line x1="16.93" y1="36.13" x2="25.23" y2="32.03" stroke="rgb(82,70,40)" stroke-width="0.8" opacity="0.73"/>
<line x1="90.22" y1="46.4" x2="94.33" y2="39.98" stroke="rgb(76,81,91)" stroke-width="1.2" opacity="0.45"/>
<line x1="86.97" y1="77.6" x2="89.04" y2="73.87" stroke="rgb(21,23,27)" stroke-width="0.6" opacity="0.47"/>
<line x1="40.02" y1="26.72" x2="46.61" y2="21.36" stroke="rgb(57,59,66)" stroke-width="1.2" opacity="0.48"/>
<line x1="26.81" y1="72.99" x2="31.07" y2="66.8" stroke="rgb(200,172,98)" stroke-width="0.6" opacity="0.72"/>
<line x1="45.95" y1="29.99" x2="53.24" y2="23.34" stroke="rgb(69,67,54)" stroke-width="0.8" opacity="0.65"/>
<line x1="8.05" y1="87.43" x2="16.02" y2="80.46" stroke="rgb(113,152,243)" stroke-width="1.0" opacity="0.51"/>
<line x1="89.79" y1="7.18" x2="95.79" y2="0.72" stroke="rgb(93,100,112)" stroke-width="0.8" opacity="0.46"/>
<line x1="31.43" y1="83.45" x2="36.37" y2="79.42" stroke="rgb(150,150,162)" stroke-width="0.8" opacity="0.56"/>
<line x1="8.73" y1="34.27" x2="14.63" y2="30.35" stroke="rgb(116,137,129)" stroke-width="1.2" opacity="0.51"/>
<line x1="14.08" y1="59.63" x2="20.87" y2="55.4" stroke="rgb(53,53,37)" stroke-width="1.2" opacity="0.71"/>
<line x1="35.61" y1="102.83" x2="42.58" y2="96.2" stroke="rgb(153,153,105)" stroke-width="1.2" opacity="0.53"/>
<line x1="58.02" y1="36.29" x2="61.65" y2="32.86" stroke="rgb(89,86,70)" stroke-width="1.2" opacity="0.40"/>
<line x1="7.93" y1="96.73" x2="12.23" y2="93.31" stroke="rgb(154,172,116)" stroke-width="0.6" opacity="0.74"/>
<line x1="-6.33" y1="29.01" x2="2.15" y2="23.86" stroke="rgb(46,61,83)" stroke-width="1.2" opacity="0.58"/>
<line x1="98.4" y1="17.93" x2="102.03" y2="11.42" stroke="rgb(99,105,116)" stroke-width="0.6" opacity="0.53"/>
<line x1="32.45" y1="25.35" x2="36.34" y2="22.82" stroke="rgb(80,68,39)" stroke-width="1.2" opacity="0.62"/>
<line x1="100.01" y1="13.88" x2="106.74" y2="6.03" stroke="rgb(110,117,129)" stroke-width="1.0" opacity="0.66"/>
<line x1="14.83" y1="60.58" x2="20.54" y2="57.03" stroke="rgb(122,150,182)" stroke-width="0.6" opacity="0.71"/>
<line x1="17.27" y1="22.6" x2="25.6" y2="19.33" stroke="rgb(100,134,221)" stroke-width="0.8" opacity="0.58"/>
<line x1="50.88" y1="71.7" x2="57.35" y2="63.2" stroke="rgb(176,172,153)" stroke-width="1.2" opacity="0.71"/>
<line x1="68.45" y1="0.57" x2="77" y2="-2.61" stroke="rgb(124,114,98)" stroke-width="0.6" opacity="0.56"/>
<line x1="1.72" y1="6.71" x2="7.11" y2="5.65" stroke="rgb(120,147,149)" stroke-width="1.0" opacity="0.55"/>
<line x1="92.31" y1="62.99" x2="93.9" y2="57.76" stroke="rgb(137,145,161)" stroke-width="1.2" opacity="0.56"/>
<line x1="81.06" y1="50.14" x2="83.04" y2="46.59" stroke="rgb(109,116,129)" stroke-width="0.8" opacity="0.53"/>
<line x1="91.18" y1="34.42" x2="97.44" y2="25.76" stroke="rgb(13,14,17)" stroke-width="0.6" opacity="0.71"/>
<line x1="65.29" y1="5.15" x2="74.05" y2="-0.2" stroke="rgb(129,120,102)" stroke-width="1.0" opacity="0.69"/>
<line x1="72" y1="85.68" x2="74.91" y2="79.3" stroke="rgb(74,71,58)" stroke-width="0.6" opacity="0.73"/>
<line x1="42.49" y1="30.44" x2="48.3" y2="25.07" stroke="rgb(50,53,65)" stroke-width="1.0" opacity="0.61"/>
<line x1="6.35" y1="1.26" x2="10.63" y2="0.11" stroke="rgb(26,35,59)" stroke-width="0.8" opacity="0.51"/>
<line x1="14.98" y1="79.27" x2="20.17" y2="74.6" stroke="rgb(119,141,131)" stroke-width="0.6" opacity="0.73"/>
<line x1="88.17" y1="23.8" x2="92.51" y2="17.79" stroke="rgb(89,95,108)" stroke-width="0.6" opacity="0.59"/>
<line x1="-1.6" y1="97.77" x2="6.71" y2="91.37" stroke="rgb(183,202,132)" stroke-width="1.0" opacity="0.70"/>
<line x1="41.52" y1="94.79" x2="44.91" y2="90.32" stroke="rgb(60,57,50)" stroke-width="0.6" opacity="0.60"/>
<line x1="92.52" y1="34.92" x2="95.22" y2="31.57" stroke="rgb(14,16,19)" stroke-width="0.6" opacity="0.64"/>
<line x1="44.06" y1="75.33" x2="46.38" y2="71.99" stroke="rgb(137,147,188)" stroke-width="0.8" opacity="0.53"/>
<line x1="91.31" y1="84.79" x2="93.27" y2="74.25" stroke="rgb(134,141,156)" stroke-width="0.8" opacity="0.69"/>
<line x1="104.31" y1="34.65" x2="109.25" y2="25.31" stroke="rgb(12,13,16)" stroke-width="0.8" opacity="0.63"/>
<line x1="62.8" y1="9.65" x2="70.56" y2="6.6" stroke="rgb(134,131,117)" stroke-width="0.8" opacity="0.42"/>
<line x1="38.65" y1="17.98" x2="44.92" y2="15.68" stroke="rgb(182,176,150)" stroke-width="1.2" opacity="0.71"/>
<line x1="9.09" y1="99.12" x2="13.31" y2="95.48" stroke="rgb(83,92,62)" stroke-width="1.2" opacity="0.41"/>
<line x1="77.11" y1="59.78" x2="80.09" y2="54.41" stroke="rgb(82,88,99)" stroke-width="0.8" opacity="0.59"/>
<line x1="75.78" y1="87.16" x2="79.32" y2="79.87" stroke="rgb(43,45,50)" stroke-width="1.2" opacity="0.70"/>
<line x1="88.24" y1="90.28" x2="89.34" y2="84.87" stroke="rgb(35,38,43)" stroke-width="1.0" opacity="0.48"/>
<line x1="18.17" y1="101.22" x2="22.48" y2="94.62" stroke="rgb(89,119,195)" stroke-width="0.8" opacity="0.70"/>
<line x1="18.2" y1="73.99" x2="25.59" y2="67.87" stroke="rgb(178,153,87)" stroke-width="0.8" opacity="0.49"/>
<line x1="28.09" y1="32.03" x2="35.1" y2="28.38" stroke="rgb(163,143,95)" stroke-width="1.0" opacity="0.52"/>
<line x1="30.01" y1="85.96" x2="33.82" y2="81.38" stroke="rgb(150,141,123)" stroke-width="1.0" opacity="0.66"/>
<line x1="109.52" y1="81.25" x2="110.54" y2="76.84" stroke="rgb(95,101,113)" stroke-width="0.6" opacity="0.67"/>
<line x1="74.74" y1="13.18" x2="83.53" y2="8.08" stroke="rgb(112,118,130)" stroke-width="0.6" opacity="0.68"/>
<line x1="70.67" y1="14.52" x2="75.17" y2="10.66" stroke="rgb(140,144,146)" stroke-width="1.0" opacity="0.59"/>
<line x1="13.36" y1="-0.04" x2="23.43" y2="-2.89" stroke="rgb(103,136,216)" stroke-width="1.0" opacity="0.59"/>
<line x1="31.31" y1="85.05" x2="34.47" y2="81.82" stroke="rgb(183,162,96)" stroke-width="0.8" opacity="0.41"/>
<line x1="57.75" y1="73.76" x2="62.82" y2="65.72" stroke="rgb(63,60,49)" stroke-width="0.6" opacity="0.49"/>
<line x1="-7.87" y1="10.85" x2="1.53" y2="8.04" stroke="rgb(30,45,83)" stroke-width="1.2" opacity="0.45"/>
<line x1="66.09" y1="15.06" x2="69.85" y2="12.69" stroke="rgb(143,145,140)" stroke-width="0.8" opacity="0.40"/>
<line x1="27.27" y1="55.06" x2="33.02" y2="51.45" stroke="rgb(204,176,100)" stroke-width="0.6" opacity="0.55"/>
<line x1="44.42" y1="31.1" x2="51.47" y2="24.61" stroke="rgb(170,174,195)" stroke-width="0.8" opacity="0.58"/>
<line x1="103.23" y1="17.02" x2="106.48" y2="12.91" stroke="rgb(110,117,129)" stroke-width="1.0" opacity="0.68"/>
<line x1="107.58" y1="24.23" x2="108.72" y2="20.11" stroke="rgb(150,158,173)" stroke-width="0.6" opacity="0.57"/>
<line x1="30.39" y1="-2.15" x2="35.51" y2="-3.96" stroke="rgb(79,68,38)" stroke-width="0.6" opacity="0.44"/>
<line x1="78.72" y1="-2.26" x2="83.89" y2="-5.17" stroke="rgb(89,95,107)" stroke-width="0.8" opacity="0.50"/>
<line x1="96.76" y1="12.89" x2="102.71" y2="5.53" stroke="rgb(19,21,24)" stroke-width="1.0" opacity="0.50"/>
<line x1="11.48" y1="60.82" x2="19.68" y2="54.48" stroke="rgb(108,144,240)" stroke-width="1.0" opacity="0.43"/>
<line x1="86.29" y1="13.45" x2="92.89" y2="5.36" stroke="rgb(126,133,147)" stroke-width="0.8" opacity="0.62"/>
<line x1="30.87" y1="1.16" x2="38.71" y2="-2.58" stroke="rgb(76,65,37)" stroke-width="1.0" opacity="0.62"/>
<line x1="56.5" y1="14.69" x2="64.7" y2="10.73" stroke="rgb(211,203,164)" stroke-width="1.0" opacity="0.50"/>
<line x1="74.32" y1="43.89" x2="78.81" y2="37.5" stroke="rgb(17,19,22)" stroke-width="0.6" opacity="0.62"/>
<line x1="88.28" y1="80.98" x2="90.16" y2="73.22" stroke="rgb(16,18,21)" stroke-width="1.2" opacity="0.50"/>
<line x1="49.21" y1="59.72" x2="56.24" y2="52.71" stroke="rgb(81,78,68)" stroke-width="1.0" opacity="0.51"/>
<line x1="63.76" y1="89.13" x2="69.44" y2="81.66" stroke="rgb(183,176,143)" stroke-width="1.0" opacity="0.52"/>
<line x1="57.15" y1="30.52" x2="61.46" y2="26.08" stroke="rgb(55,53,43)" stroke-width="1.2" opacity="0.53"/>
<line x1="76.52" y1="78.17" x2="78.3" y2="72.53" stroke="rgb(20,21,25)" stroke-width="1.0" opacity="0.48"/>
<line x1="49.41" y1="102.19" x2="54.72" y2="94.18" stroke="rgb(173,149,84)" stroke-width="0.8" opacity="0.62"/>
<line x1="93.27" y1="88.13" x2="96.77" y2="78.2" stroke="rgb(131,139,153)" stroke-width="1.2" opacity="0.66"/>
<line x1="47.54" y1="74.23" x2="53.97" y2="67.07" stroke="rgb(180,174,148)" stroke-width="1.0" opacity="0.74"/>
<line x1="54.63" y1="18.27" x2="58.59" y2="14.94" stroke="rgb(88,84,68)" stroke-width="0.8" opacity="0.66"/>
<line x1="32.99" y1="14.15" x2="42.27" y2="11.73" stroke="rgb(42,46,63)" stroke-width="0.6" opacity="0.45"/>
<line x1="51.42" y1="49.96" x2="54.44" y2="46.89" stroke="rgb(54,51,42)" stroke-width="1.0" opacity="0.67"/>
<line x1="80.21" y1="73.93" x2="84.04" y2="65" stroke="rgb(101,107,120)" stroke-width="1.0" opacity="0.68"/>
<line x1="-5.28" y1="49.93" x2="1" y2="47.22" stroke="rgb(38,50,65)" stroke-width="1.0" opacity="0.51"/>
<line x1="85.3" y1="61.85" x2="87.63" y2="53.54" stroke="rgb(128,136,151)" stroke-width="0.8" opacity="0.64"/>
<line x1="23.49" y1="67.78" x2="29.13" y2="61.68" stroke="rgb(176,171,114)" stroke-width="0.8" opacity="0.58"/>
<line x1="107.72" y1="104.22" x2="107.86" y2="96.76" stroke="rgb(93,100,112)" stroke-width="0.6" opacity="0.56"/>
<line x1="49.38" y1="33.97" x2="55.88" y2="29.38" stroke="rgb(38,38,37)" stroke-width="0.6" opacity="0.70"/>
<line x1="60.93" y1="79.58" x2="66.24" y2="70.01" stroke="rgb(161,158,138)" stroke-width="1.2" opacity="0.46"/>
<line x1="110.24" y1="37.22" x2="110.88" y2="33.1" stroke="rgb(128,135,149)" stroke-width="1.0" opacity="0.52"/>
<line x1="74.91" y1="99.86" x2="77.44" y2="92.23" stroke="rgb(143,142,128)" stroke-width="0.8" opacity="0.43"/>
<line x1="92.4" y1="91.65" x2="93.6" y2="83.53" stroke="rgb(18,20,24)" stroke-width="0.6" opacity="0.45"/>
<line x1="39.65" y1="25.16" x2="45.09" y2="21.93" stroke="rgb(54,54,53)" stroke-width="1.0" opacity="0.49"/>
<line x1="0.97" y1="42.26" x2="10.2" y2="39.33" stroke="rgb(99,133,222)" stroke-width="1.0" opacity="0.51"/>
<line x1="78.33" y1="89.13" x2="82.26" y2="79.97" stroke="rgb(152,161,177)" stroke-width="0.6" opacity="0.64"/>
<line x1="-7.09" y1="26.64" x2="1.9" y2="22.84" stroke="rgb(104,140,216)" stroke-width="0.8" opacity="0.75"/>
<line x1="21.58" y1="73.99" x2="24.15" y2="70.88" stroke="rgb(68,59,33)" stroke-width="1.0" opacity="0.59"/>
<line x1="14.73" y1="96.75" x2="20.53" y2="91.59" stroke="rgb(103,136,214)" stroke-width="0.8" opacity="0.68"/>
<line x1="3.78" y1="55.02" x2="7.62" y2="52.88" stroke="rgb(95,127,208)" stroke-width="0.6" opacity="0.60"/>
<line x1="23.15" y1="15.54" x2="31.67" y2="13.62" stroke="rgb(199,171,97)" stroke-width="1.2" opacity="0.49"/>
<line x1="34.73" y1="52.09" x2="42.53" y2="46.44" stroke="rgb(164,150,119)" stroke-width="0.8" opacity="0.53"/>
<line x1="13.05" y1="-0.07" x2="22.95" y2="-2.53" stroke="rgb(208,179,102)" stroke-width="0.8" opacity="0.55"/>
<line x1="103.44" y1="27.66" x2="105.97" y2="22.35" stroke="rgb(110,117,130)" stroke-width="0.8" opacity="0.44"/>
<line x1="50.61" y1="62.54" x2="55.86" y2="58.27" stroke="rgb(51,49,41)" stroke-width="0.8" opacity="0.59"/>
<line x1="85.79" y1="98.09" x2="87.67" y2="94.17" stroke="rgb(123,129,139)" stroke-width="0.8" opacity="0.75"/>
<line x1="72.58" y1="2.7" x2="80.42" y2="-0.63" stroke="rgb(26,28,31)" stroke-width="0.8" opacity="0.44"/>
<line x1="92.39" y1="38.2" x2="97.57" y2="30.54" stroke="rgb(84,90,101)" stroke-width="0.6" opacity="0.73"/>
<line x1="98.86" y1="28.53" x2="103.01" y2="20.03" stroke="rgb(21,22,26)" stroke-width="0.6" opacity="0.67"/>
<line x1="56.04" y1="40.32" x2="61.69" y2="34.88" stroke="rgb(50,48,38)" stroke-width="1.2" opacity="0.64"/>
<line x1="1.15" y1="14.36" x2="11.1" y2="10.49" stroke="rgb(22,32,60)" stroke-width="1.0" opacity="0.58"/>
<line x1="72.37" y1="2.53" x2="79.69" y2="-2.09" stroke="rgb(22,23,27)" stroke-width="1.2" opacity="0.56"/>
<line x1="30.09" y1="61.8" x2="36.62" y2="55.05" stroke="rgb(62,54,30)" stroke-width="0.6" opacity="0.66"/>
<line x1="55.73" y1="69.29" x2="61.12" y2="63.46" stroke="rgb(154,154,153)" stroke-width="1.2" opacity="0.48"/>
<line x1="56.64" y1="100.53" x2="59.91" y2="95.52" stroke="rgb(56,59,72)" stroke-width="0.6" opacity="0.56"/>
<line x1="88.24" y1="19.74" x2="92.58" y2="15.78" stroke="rgb(123,131,144)" stroke-width="0.8" opacity="0.62"/>
<line x1="61.2" y1="69.8" x2="63.41" y2="65.35" stroke="rgb(53,51,43)" stroke-width="0.6" opacity="0.71"/>
<line x1="69.41" y1="68.96" x2="73.2" y2="60.75" stroke="rgb(165,163,143)" stroke-width="1.2" opacity="0.59"/>
<line x1="35.1" y1="39.15" x2="43.42" y2="34.12" stroke="rgb(39,41,52)" stroke-width="0.6" opacity="0.71"/>
<line x1="69.1" y1="95.05" x2="71.36" y2="86.41" stroke="rgb(94,90,73)" stroke-width="0.6" opacity="0.64"/>
<line x1="87.84" y1="86.5" x2="91.16" y2="78.81" stroke="rgb(23,25,29)" stroke-width="0.6" opacity="0.66"/>
<line x1="95.38" y1="30.64" x2="98" y2="22.99" stroke="rgb(23,25,28)" stroke-width="1.2" opacity="0.60"/>
<line x1="53.85" y1="97.51" x2="57.37" y2="91.69" stroke="rgb(56,55,53)" stroke-width="0.8" opacity="0.67"/>
<line x1="99.85" y1="28.96" x2="102.48" y2="22.46" stroke="rgb(24,26,29)" stroke-width="1.2" opacity="0.70"/>
<line x1="3.01" y1="1.19" x2="13.61" y2="-1.31" stroke="rgb(108,140,191)" stroke-width="1.2" opacity="0.61"/>
<line x1="-0.12" y1="48.75" x2="7.05" y2="45.68" stroke="rgb(107,137,194)" stroke-width="0.6" opacity="0.63"/>
<line x1="83.45" y1="47.18" x2="87.31" y2="42.29" stroke="rgb(94,100,112)" stroke-width="1.2" opacity="0.70"/>
<line x1="59.5" y1="81.38" x2="66.46" y2="73.07" stroke="rgb(175,167,135)" stroke-width="0.8" opacity="0.69"/>
<line x1="78.02" y1="64.18" x2="79.92" y2="60.6" stroke="rgb(119,126,140)" stroke-width="1.0" opacity="0.51"/>
<line x1="10.28" y1="61.18" x2="16.45" y2="57.63" stroke="rgb(60,70,63)" stroke-width="0.8" opacity="0.69"/>
<line x1="98.18" y1="58.69" x2="100.57" y2="50.83" stroke="rgb(71,76,86)" stroke-width="1.0" opacity="0.60"/>
<line x1="16.71" y1="51.25" x2="20.17" y2="49.1" stroke="rgb(50,43,25)" stroke-width="1.2" opacity="0.52"/>
<line x1="37.81" y1="76.06" x2="41.38" y2="71.37" stroke="rgb(172,175,197)" stroke-width="1.2" opacity="0.47"/>
<line x1="21.85" y1="41.09" x2="25.61" y2="39.38" stroke="rgb(173,156,116)" stroke-width="0.8" opacity="0.70"/>
<line x1="97.45" y1="81.56" x2="100.13" y2="73.76" stroke="rgb(97,103,115)" stroke-width="0.6" opacity="0.42"/>
<line x1="32.54" y1="81.83" x2="39.28" y2="75.26" stroke="rgb(56,48,27)" stroke-width="1.0" opacity="0.50"/>
<line x1="28.86" y1="51.35" x2="32.78" y2="47.53" stroke="rgb(85,73,41)" stroke-width="0.6" opacity="0.41"/>
<line x1="5.29" y1="64.41" x2="12.2" y2="60.64" stroke="rgb(52,65,81)" stroke-width="0.6" opacity="0.66"/>
<line x1="68.46" y1="60.62" x2="73.3" y2="55.39" stroke="rgb(157,158,152)" stroke-width="1.2" opacity="0.58"/>
<line x1="63.37" y1="29.24" x2="70.66" y2="24.38" stroke="rgb(214,206,168)" stroke-width="1.0" opacity="0.46"/>
<line x1="25.44" y1="35.42" x2="29.82" y2="33.74" stroke="rgb(54,46,26)" stroke-width="0.6" opacity="0.43"/>
<line x1="19.69" y1="78.6" x2="25.01" y2="73.97" stroke="rgb(38,45,37)" stroke-width="0.6" opacity="0.58"/>
<line x1="79.74" y1="97.57" x2="83.96" y2="90.05" stroke="rgb(149,147,132)" stroke-width="1.0" opacity="0.44"/>
<line x1="1.98" y1="50.63" x2="7.06" y2="46.07" stroke="rgb(92,122,196)" stroke-width="1.0" opacity="0.53"/>
<line x1="11.39" y1="93.63" x2="19.6" y2="87.82" stroke="rgb(71,80,60)" stroke-width="1.0" opacity="0.45"/>
<line x1="95.82" y1="9.54" x2="102.92" y2="2.16" stroke="rgb(46,49,55)" stroke-width="1.0" opacity="0.44"/>
<line x1="33.54" y1="25.63" x2="39.24" y2="22.71" stroke="rgb(47,51,69)" stroke-width="0.8" opacity="0.40"/>
<line x1="15.51" y1="32.68" x2="19.46" y2="30.07" stroke="rgb(160,167,119)" stroke-width="0.6" opacity="0.57"/>
<line x1="64.38" y1="42.41" x2="70.03" y2="34.3" stroke="rgb(127,127,117)" stroke-width="1.2" opacity="0.70"/>
<line x1="45.82" y1="67.79" x2="51.82" y2="59.84" stroke="rgb(157,156,155)" stroke-width="0.8" opacity="0.44"/>
<line x1="5.68" y1="48.26" x2="11.47" y2="43.23" stroke="rgb(35,49,85)" stroke-width="0.8" opacity="0.52"/>
<line x1="94.85" y1="90.96" x2="96.02" y2="80.14" stroke="rgb(23,25,30)" stroke-width="0.8" opacity="0.47"/>
<line x1="22.13" y1="37.14" x2="26.21" y2="33.74" stroke="rgb(156,159,110)" stroke-width="0.8" opacity="0.44"/>
<line x1="91.17" y1="97.91" x2="92.16" y2="90.59" stroke="rgb(23,25,28)" stroke-width="0.6" opacity="0.60"/>
<line x1="11.6" y1="17.67" x2="21.44" y2="13.34" stroke="rgb(54,59,45)" stroke-width="0.6" opacity="0.59"/>
<line x1="92.77" y1="89.43" x2="94.5" y2="83.75" stroke="rgb(16,18,21)" stroke-width="0.6" opacity="0.47"/>
<line x1="61.19" y1="6.77" x2="69.15" y2="2.63" stroke="rgb(137,132,122)" stroke-width="1.2" opacity="0.71"/>
<line x1="38.51" y1="58.85" x2="42.57" y2="55.86" stroke="rgb(49,52,65)" stroke-width="0.6" opacity="0.70"/>
<line x1="104.67" y1="89.55" x2="106.31" y2="84.49" stroke="rgb(104,110,123)" stroke-width="0.6" opacity="0.41"/>
<line x1="105.33" y1="64.82" x2="106.92" y2="56.92" stroke="rgb(110,116,129)" stroke-width="1.2" opacity="0.50"/>
<line x1="67.74" y1="11.61" x2="75.03" y2="7.26" stroke="rgb(146,149,147)" stroke-width="1.2" opacity="0.43"/>
<line x1="43.75" y1="92.01" x2="48.05" y2="84.48" stroke="rgb(152,141,118)" stroke-width="0.8" opacity="0.48"/>
<line x1="19.8" y1="20.8" x2="27.37" y2="15.75" stroke="rgb(176,152,86)" stroke-width="0.8" opacity="0.63"/>
<line x1="19.69" y1="87.57" x2="23.76" y2="81.7" stroke="rgb(136,167,196)" stroke-width="1.0" opacity="0.57"/>
<line x1="37.08" y1="100.15" x2="41.95" y2="95.19" stroke="rgb(203,175,100)" stroke-width="1.0" opacity="0.72"/>
<line x1="7.4" y1="56.12" x2="17.15" y2="51.08" stroke="rgb(108,145,245)" stroke-width="0.6" opacity="0.49"/>
<line x1="91.65" y1="102.68" x2="93.07" y2="98" stroke="rgb(141,143,139)" stroke-width="0.8" opacity="0.65"/>
<line x1="1.14" y1="81.19" x2="7.81" y2="72.98" stroke="rgb(65,73,58)" stroke-width="1.0" opacity="0.47"/>
<line x1="62.18" y1="91.53" x2="64.33" y2="86.96" stroke="rgb(59,57,46)" stroke-width="0.6" opacity="0.65"/>
<line x1="0.87" y1="91.41" x2="8.31" y2="84.41" stroke="rgb(100,133,209)" stroke-width="1.0" opacity="0.50"/>
<line x1="105.36" y1="51.56" x2="106.32" y2="47.16" stroke="rgb(117,123,137)" stroke-width="1.2" opacity="0.72"/>
<line x1="24.67" y1="24.16" x2="28.56" y2="21.34" stroke="rgb(85,81,52)" stroke-width="0.8" opacity="0.53"/>
<line x1="74.79" y1="45.38" x2="81.27" y2="36.54" stroke="rgb(20,22,26)" stroke-width="1.2" opacity="0.70"/>
<line x1="86.06" y1="93.74" x2="89.57" y2="87.67" stroke="rgb(26,28,32)" stroke-width="1.0" opacity="0.44"/>
<line x1="94.8" y1="41.89" x2="97.25" y2="36.35" stroke="rgb(97,103,114)" stroke-width="1.0" opacity="0.48"/>
<line x1="53.53" y1="101.41" x2="56.81" y2="91.94" stroke="rgb(43,46,60)" stroke-width="0.6" opacity="0.40"/>
<line x1="92.39" y1="69.57" x2="95.91" y2="61.17" stroke="rgb(132,140,155)" stroke-width="1.2" opacity="0.74"/>
<line x1="31.47" y1="50.32" x2="35.4" y2="46.52" stroke="rgb(120,129,168)" stroke-width="0.8" opacity="0.57"/>
<line x1="47.94" y1="93.1" x2="53.92" y2="86.98" stroke="rgb(54,56,65)" stroke-width="1.2" opacity="0.74"/>
<line x1="100.32" y1="52.38" x2="104.38" y2="44.83" stroke="rgb(12,13,16)" stroke-width="0.6" opacity="0.48"/>
<line x1="44.9" y1="39.7" x2="50.62" y2="34.06" stroke="rgb(43,42,39)" stroke-width="0.8" opacity="0.73"/>
<line x1="64.81" y1="39.98" x2="70.42" y2="33.83" stroke="rgb(41,41,37)" stroke-width="0.6" opacity="0.42"/>
<line x1="18.98" y1="13.73" x2="24.93" y2="10.36" stroke="rgb(104,138,217)" stroke-width="1.2" opacity="0.46"/>
<line x1="43.76" y1="41.9" x2="50.14" y2="37.97" stroke="rgb(67,67,69)" stroke-width="1.2" opacity="0.62"/>
<line x1="72.91" y1="62.91" x2="76.25" y2="57.4" stroke="rgb(141,149,164)" stroke-width="0.6" opacity="0.64"/>
<line x1="-1.14" y1="54.47" x2="7.07" y2="49.1" stroke="rgb(145,167,119)" stroke-width="1.2" opacity="0.43"/>
<line x1="35.92" y1="48.73" x2="41.88" y2="42.4" stroke="rgb(133,143,183)" stroke-width="1.2" opacity="0.66"/>
<line x1="90.12" y1="95.5" x2="91.53" y2="91.65" stroke="rgb(22,24,27)" stroke-width="0.6" opacity="0.53"/>
<line x1="80.12" y1="0.02" x2="86.95" y2="-3.94" stroke="rgb(102,108,121)" stroke-width="1.0" opacity="0.42"/>
<line x1="56.8" y1="57.63" x2="60.77" y2="52.38" stroke="rgb(212,204,165)" stroke-width="1.0" opacity="0.75"/>
<line x1="65.1" y1="28.7" x2="71.86" y2="22.87" stroke="rgb(118,123,132)" stroke-width="1.2" opacity="0.42"/>
<line x1="100.85" y1="99.8" x2="101.36" y2="91.45" stroke="rgb(92,98,109)" stroke-width="0.6" opacity="0.71"/>
<line x1="68.01" y1="77" x2="72.12" y2="68.47" stroke="rgb(43,42,39)" stroke-width="1.0" opacity="0.64"/>
<line x1="20.97" y1="32.6" x2="28.59" y2="28.4" stroke="rgb(51,44,25)" stroke-width="0.6" opacity="0.68"/>
<line x1="106.6" y1="11.4" x2="110.22" y2="5.34" stroke="rgb(12,13,16)" stroke-width="1.0" opacity="0.46"/>
<line x1="52.37" y1="86.34" x2="55.91" y2="82.04" stroke="rgb(50,54,70)" stroke-width="1.2" opacity="0.52"/>
<line x1="33.88" y1="69.97" x2="38.88" y2="63.65" stroke="rgb(184,158,89)" stroke-width="0.6" opacity="0.70"/>
<line x1="29.7" y1="69.63" x2="36.35" y2="60.86" stroke="rgb(38,41,54)" stroke-width="0.8" opacity="0.43"/>
<line x1="44.27" y1="64.28" x2="46.95" y2="60.34" stroke="rgb(146,150,172)" stroke-width="0.8" opacity="0.67"/>
<line x1="81.63" y1="19.09" x2="86.07" y2="15.91" stroke="rgb(36,38,43)" stroke-width="0.8" opacity="0.73"/>
<line x1="6.95" y1="37.95" x2="11.5" y2="36.13" stroke="rgb(92,123,197)" stroke-width="0.8" opacity="0.63"/>
<line x1="80.01" y1="39.9" x2="83.46" y2="33.11" stroke="rgb(17,19,23)" stroke-width="0.8" opacity="0.55"/>
<line x1="57.83" y1="12.71" x2="66.75" y2="9.37" stroke="rgb(151,150,135)" stroke-width="1.0" opacity="0.71"/>
<line x1="55.94" y1="44.71" x2="62.49" y2="36.06" stroke="rgb(58,55,45)" stroke-width="0.8" opacity="0.66"/>
<line x1="35.15" y1="79.5" x2="37.32" y2="76.04" stroke="rgb(80,68,39)" stroke-width="1.2" opacity="0.41"/>
<line x1="96.44" y1="78.16" x2="98.85" y2="67.75" stroke="rgb(91,96,108)" stroke-width="1.2" opacity="0.60"/>
<line x1="-4.49" y1="59.12" x2="2.15" y2="56.45" stroke="rgb(43,48,32)" stroke-width="0.8" opacity="0.62"/>
<line x1="26.79" y1="66.4" x2="31.11" y2="63.49" stroke="rgb(190,163,92)" stroke-width="0.6" opacity="0.71"/>
<line x1="23.32" y1="83.64" x2="30.29" y2="75.36" stroke="rgb(189,163,92)" stroke-width="0.8" opacity="0.68"/>
<line x1="17.49" y1="61.31" x2="25.2" y2="53.94" stroke="rgb(68,79,66)" stroke-width="1.2" opacity="0.49"/>
<line x1="35.04" y1="17.86" x2="44.19" y2="12.05" stroke="rgb(43,47,63)" stroke-width="1.0" opacity="0.64"/>
<line x1="8.46" y1="101.09" x2="16.47" y2="93.76" stroke="rgb(56,63,43)" stroke-width="1.0" opacity="0.64"/>
<line x1="74.71" y1="1.49" x2="84.63" y2="-2.26" stroke="rgb(100,106,119)" stroke-width="0.6" opacity="0.42"/>
<line x1="0.57" y1="13.18" x2="10.5" y2="8.54" stroke="rgb(86,122,219)" stroke-width="1.0" opacity="0.49"/>
<line x1="64.71" y1="12.65" x2="70.95" y2="9.3" stroke="rgb(40,42,46)" stroke-width="1.2" opacity="0.50"/>
<line x1="55.46" y1="67.05" x2="60.93" y2="59.86" stroke="rgb(184,177,143)" stroke-width="1.2" opacity="0.44"/>
<line x1="34.59" y1="5.78" x2="39.22" y2="3.26" stroke="rgb(58,52,39)" stroke-width="1.2" opacity="0.66"/>
<line x1="2.57" y1="36.95" x2="6.13" y2="34.32" stroke="rgb(45,58,78)" stroke-width="0.8" opacity="0.48"/>
<line x1="79.09" y1="92.08" x2="81.02" y2="83.21" stroke="rgb(51,53,55)" stroke-width="1.0" opacity="0.59"/>
<line x1="1.15" y1="32.87" x2="4.66" y2="30.42" stroke="rgb(161,185,131)" stroke-width="1.2" opacity="0.69"/>
<line x1="37.19" y1="76.11" x2="41.44" y2="71.95" stroke="rgb(37,40,52)" stroke-width="0.8" opacity="0.74"/>
<line x1="25.71" y1="15.93" x2="30.07" y2="14.26" stroke="rgb(58,50,30)" stroke-width="1.2" opacity="0.73"/>
<line x1="-2.78" y1="48.49" x2="2.57" y2="45.91" stroke="rgb(146,167,118)" stroke-width="1.2" opacity="0.65"/>
<line x1="29.86" y1="9.98" x2="35.66" y2="8.02" stroke="rgb(55,49,36)" stroke-width="0.6" opacity="0.66"/>
<line x1="17.56" y1="0.81" x2="24.8" y2="-0.58" stroke="rgb(194,175,105)" stroke-width="1.0" opacity="0.51"/>
<line x1="80.99" y1="0.64" x2="86.67" y2="-4.08" stroke="rgb(18,20,24)" stroke-width="0.6" opacity="0.72"/>
<line x1="13.47" y1="47.68" x2="20.39" y2="41.83" stroke="rgb(158,179,138)" stroke-width="0.8" opacity="0.49"/>
<line x1="89.77" y1="31.42" x2="93.11" y2="24.5" stroke="rgb(14,15,18)" stroke-width="0.6" opacity="0.55"/>
<line x1="68.95" y1="76.37" x2="73.86" y2="68.81" stroke="rgb(23,24,28)" stroke-width="1.0" opacity="0.71"/>
<line x1="79.38" y1="72.37" x2="81.86" y2="68.06" stroke="rgb(98,104,116)" stroke-width="1.2" opacity="0.54"/>
<line x1="49.96" y1="23.82" x2="57.89" y2="17.55" stroke="rgb(66,63,51)" stroke-width="1.0" opacity="0.71"/>
<line x1="5.7" y1="60.32" x2="14.13" y2="56.08" stroke="rgb(36,47,68)" stroke-width="1.2" opacity="0.40"/>
<line x1="-4.34" y1="60.39" x2="-0.32" y2="58.74" stroke="rgb(171,194,133)" stroke-width="0.6" opacity="0.48"/>
<line x1="-2.51" y1="44.57" x2="4.33" y2="42.14" stroke="rgb(148,173,132)" stroke-width="1.0" opacity="0.70"/>
<line x1="96.01" y1="76.33" x2="98.28" y2="69.78" stroke="rgb(19,21,25)" stroke-width="0.6" opacity="0.55"/>
<line x1="8.81" y1="48.9" x2="13.08" y2="45.86" stroke="rgb(54,65,62)" stroke-width="0.8" opacity="0.44"/>
<line x1="100.62" y1="84.43" x2="103.19" y2="73.75" stroke="rgb(101,108,120)" stroke-width="1.0" opacity="0.65"/>
<line x1="89.95" y1="86.52" x2="92.09" y2="78.14" stroke="rgb(17,19,23)" stroke-width="0.8" opacity="0.61"/>
<line x1="54.33" y1="9.39" x2="60.87" y2="6.84" stroke="rgb(62,59,49)" stroke-width="1.0" opacity="0.47"/>
<line x1="10.54" y1="101.12" x2="16.07" y2="96.47" stroke="rgb(51,63,63)" stroke-width="0.8" opacity="0.75"/>
<line x1="75.03" y1="78.19" x2="77.49" y2="74.88" stroke="rgb(138,136,123)" stroke-width="1.0" opacity="0.63"/>
<line x1="7.43" y1="44.95" x2="12.33" y2="40.7" stroke="rgb(37,51,84)" stroke-width="1.2" opacity="0.62"/>
<line x1="58.46" y1="43.89" x2="65.8" y2="37.61" stroke="rgb(71,68,55)" stroke-width="1.0" opacity="0.61"/>
<line x1="61.05" y1="92.72" x2="65.17" y2="83.29" stroke="rgb(60,58,47)" stroke-width="0.8" opacity="0.62"/>
<line x1="18.08" y1="49.23" x2="27.63" y2="44.83" stroke="rgb(127,147,121)" stroke-width="0.6" opacity="0.68"/>
<line x1="45.77" y1="48.71" x2="52.6" y2="41.91" stroke="rgb(79,76,61)" stroke-width="0.6" opacity="0.62"/>
<line x1="-1.91" y1="15.83" x2="6.83" y2="12.06" stroke="rgb(89,127,227)" stroke-width="1.0" opacity="0.74"/>
<line x1="-2.8" y1="55.78" x2="1.7" y2="53.43" stroke="rgb(79,89,60)" stroke-width="1.0" opacity="0.46"/>
<line x1="67.4" y1="94" x2="71.12" y2="83.77" stroke="rgb(75,72,59)" stroke-width="1.0" opacity="0.40"/>
<line x1="39.04" y1="52.62" x2="46.08" y2="46.1" stroke="rgb(139,149,191)" stroke-width="0.8" opacity="0.48"/>
<line x1="17.17" y1="81.23" x2="20.62" y2="76.89" stroke="rgb(121,158,241)" stroke-width="1.0" opacity="0.63"/>
<line x1="42.26" y1="12.37" x2="48.31" y2="8.6" stroke="rgb(147,156,194)" stroke-width="0.6" opacity="0.45"/>
<line x1="48.18" y1="97.74" x2="51.1" y2="94.05" stroke="rgb(40,43,56)" stroke-width="0.8" opacity="0.71"/>
<line x1="24.33" y1="95.1" x2="28.46" y2="89.7" stroke="rgb(87,75,43)" stroke-width="0.8" opacity="0.49"/>
<line x1="65.36" y1="98.61" x2="69.85" y2="89.37" stroke="rgb(176,168,136)" stroke-width="1.2" opacity="0.53"/>
<line x1="8.33" y1="50.67" x2="15.47" y2="47.21" stroke="rgb(95,127,210)" stroke-width="0.8" opacity="0.54"/>
<line x1="96.75" y1="24.36" x2="99.48" y2="18.94" stroke="rgb(93,99,110)" stroke-width="1.2" opacity="0.44"/>
<line x1="50.94" y1="35.94" x2="58.16" y2="28.92" stroke="rgb(200,191,154)" stroke-width="1.0" opacity="0.56"/>
<line x1="91.46" y1="103.21" x2="94.37" y2="96.07" stroke="rgb(21,23,27)" stroke-width="1.0" opacity="0.49"/>
<line x1="16.98" y1="-0.97" x2="21.71" y2="-2.72" stroke="rgb(43,56,80)" stroke-width="0.6" opacity="0.69"/>
<line x1="64.84" y1="16.73" x2="72.22" y2="11.65" stroke="rgb(48,49,51)" stroke-width="1.0" opacity="0.73"/>
<line x1="11.87" y1="103.19" x2="17.28" y2="94.79" stroke="rgb(43,55,69)" stroke-width="1.0" opacity="0.46"/>
<line x1="-0.62" y1="52.52" x2="8.39" y2="49.11" stroke="rgb(36,47,61)" stroke-width="0.6" opacity="0.44"/>
<line x1="21.55" y1="-2.85" x2="27.73" y2="-4.8" stroke="rgb(188,173,107)" stroke-width="0.8" opacity="0.43"/>
<line x1="50.34" y1="25.74" x2="55.41" y2="21.01" stroke="rgb(78,74,60)" stroke-width="0.8" opacity="0.52"/>
<line x1="9.81" y1="23.28" x2="13.73" y2="22.08" stroke="rgb(95,126,199)" stroke-width="0.6" opacity="0.41"/>
<line x1="25.79" y1="97.53" x2="32.66" y2="90.62" stroke="rgb(40,49,56)" stroke-width="0.6" opacity="0.40"/>
<line x1="83.57" y1="87.47" x2="85.45" y2="80.03" stroke="rgb(19,21,25)" stroke-width="1.2" opacity="0.67"/>
<line x1="9.11" y1="43.04" x2="12.95" y2="40.4" stroke="rgb(113,152,241)" stroke-width="1.0" opacity="0.74"/>
<line x1="47.71" y1="6.95" x2="58.15" y2="4.29" stroke="rgb(38,35,30)" stroke-width="0.8" opacity="0.73"/>
<line x1="-5.45" y1="83.61" x2="-1.08" y2="79.94" stroke="rgb(72,80,51)" stroke-width="1.0" opacity="0.74"/>
<line x1="6.87" y1="8.91" x2="16.26" y2="6.85" stroke="rgb(89,125,226)" stroke-width="0.6" opacity="0.62"/>
<line x1="96.88" y1="42.64" x2="99.02" y2="37.81" stroke="rgb(117,124,137)" stroke-width="1.0" opacity="0.45"/>
<line x1="48.48" y1="75.55" x2="51.87" y2="71.34" stroke="rgb(152,151,146)" stroke-width="0.8" opacity="0.48"/>
<line x1="68.53" y1="85.82" x2="70.83" y2="82.53" stroke="rgb(92,88,71)" stroke-width="1.0" opacity="0.54"/>
<line x1="87.58" y1="81.18" x2="89.65" y2="77.74" stroke="rgb(22,24,28)" stroke-width="0.6" opacity="0.74"/>
<line x1="0.41" y1="17.36" x2="4.19" y2="15.54" stroke="rgb(34,50,93)" stroke-width="1.0" opacity="0.52"/>
<line x1="95.81" y1="95.95" x2="96.75" y2="89.41" stroke="rgb(18,20,24)" stroke-width="0.8" opacity="0.64"/>
<line x1="82.72" y1="53.17" x2="88.39" y2="44.88" stroke="rgb(22,24,28)" stroke-width="0.6" opacity="0.61"/>
<line x1="13.04" y1="55.14" x2="18.22" y2="51.73" stroke="rgb(152,175,139)" stroke-width="0.8" opacity="0.40"/>
<line x1="97.43" y1="67.38" x2="98.13" y2="62.57" stroke="rgb(109,115,128)" stroke-width="0.8" opacity="0.41"/>
<line x1="34.33" y1="62.73" x2="42.97" y2="56.77" stroke="rgb(68,59,33)" stroke-width="1.0" opacity="0.52"/>
<line x1="34.49" y1="23.63" x2="42.81" y2="18" stroke="rgb(162,169,204)" stroke-width="1.0" opacity="0.49"/>
<line x1="76.79" y1="82.4" x2="79.38" y2="75.64" stroke="rgb(92,98,110)" stroke-width="1.2" opacity="0.58"/>
<line x1="101.57" y1="13.92" x2="106" y2="7.89" stroke="rgb(125,132,146)" stroke-width="0.8" opacity="0.69"/>
<line x1="12.86" y1="55.04" x2="20.46" y2="48.3" stroke="rgb(166,166,114)" stroke-width="1.2" opacity="0.49"/>
<line x1="-5.96" y1="37.34" x2="1.31" y2="33.07" stroke="rgb(164,186,126)" stroke-width="1.2" opacity="0.62"/>
<line x1="57.61" y1="27.8" x2="65.52" y2="20.71" stroke="rgb(71,70,61)" stroke-width="0.6" opacity="0.40"/>
<line x1="48.45" y1="87.55" x2="53.95" y2="78.3" stroke="rgb(54,58,73)" stroke-width="1.0" opacity="0.57"/>
<line x1="86.57" y1="99.31" x2="88.08" y2="93.08" stroke="rgb(41,43,45)" stroke-width="1.2" opacity="0.68"/>
<line x1="81.77" y1="74.69" x2="84.6" y2="68.45" stroke="rgb(155,163,180)" stroke-width="1.2" opacity="0.62"/>
<line x1="13.55" y1="76.74" x2="20.03" y2="72.76" stroke="rgb(57,67,60)" stroke-width="1.2" opacity="0.41"/>
<line x1="33.7" y1="76.25" x2="40.78" y2="68.98" stroke="rgb(58,52,36)" stroke-width="0.6" opacity="0.41"/>
<line x1="71.25" y1="37.22" x2="74.78" y2="32.75" stroke="rgb(46,47,46)" stroke-width="1.0" opacity="0.53"/>
<line x1="102.34" y1="24.41" x2="106.78" y2="17.12" stroke="rgb(105,111,123)" stroke-width="1.0" opacity="0.58"/>
<line x1="62.64" y1="14.63" x2="68.57" y2="11.81" stroke="rgb(79,75,61)" stroke-width="1.0" opacity="0.68"/>
<line x1="104.98" y1="9.87" x2="107.62" y2="6.55" stroke="rgb(17,19,22)" stroke-width="1.2" opacity="0.67"/>
<line x1="101.76" y1="98.76" x2="103.78" y2="91.63" stroke="rgb(14,16,19)" stroke-width="0.6" opacity="0.74"/>
<line x1="40.38" y1="18.15" x2="48.92" y2="15.52" stroke="rgb(143,152,192)" stroke-width="1.0" opacity="0.60"/>
<line x1="-2.33" y1="65.42" x2="0.9" y2="62.95" stroke="rgb(145,167,141)" stroke-width="1.0" opacity="0.61"/>
<line x1="49.89" y1="44.51" x2="55.3" y2="40.45" stroke="rgb(36,36,33)" stroke-width="1.2" opacity="0.55"/>
<line x1="22.27" y1="76.37" x2="26.46" y2="72.34" stroke="rgb(51,60,52)" stroke-width="1.2" opacity="0.61"/>
<line x1="57.94" y1="94.14" x2="62.7" y2="85.58" stroke="rgb(177,172,156)" stroke-width="1.0" opacity="0.54"/>
<line x1="-0.59" y1="61.71" x2="3.95" y2="59.42" stroke="rgb(52,65,84)" stroke-width="0.6" opacity="0.52"/>
<line x1="91.95" y1="52.21" x2="93.66" y2="48.26" stroke="rgb(13,15,18)" stroke-width="0.8" opacity="0.67"/>
<line x1="18.57" y1="23.62" x2="25.92" y2="19.31" stroke="rgb(186,160,91)" stroke-width="0.6" opacity="0.45"/>
<line x1="-1.63" y1="76.6" x2="2.19" y2="73.63" stroke="rgb(43,48,31)" stroke-width="0.8" opacity="0.40"/>
<line x1="74.95" y1="85.7" x2="76.25" y2="81.59" stroke="rgb(71,69,59)" stroke-width="1.0" opacity="0.55"/>
<line x1="68.37" y1="9.16" x2="73.06" y2="7.2" stroke="rgb(137,134,121)" stroke-width="1.2" opacity="0.54"/>
<line x1="3.27" y1="79.3" x2="9.8" y2="75.05" stroke="rgb(176,193,128)" stroke-width="0.6" opacity="0.65"/>
<line x1="74.9" y1="55.82" x2="80.51" y2="48.12" stroke="rgb(33,35,39)" stroke-width="1.2" opacity="0.62"/>
<line x1="16.12" y1="83.88" x2="22.82" y2="77.23" stroke="rgb(135,155,121)" stroke-width="0.8" opacity="0.44"/>
<line x1="22.95" y1="32.56" x2="32.18" y2="28.51" stroke="rgb(200,172,98)" stroke-width="0.6" opacity="0.44"/>
<line x1="32.2" y1="9.67" x2="39.13" y2="6.69" stroke="rgb(60,52,29)" stroke-width="0.8" opacity="0.73"/>
<line x1="82.11" y1="28.45" x2="88.02" y2="23.25" stroke="rgb(24,26,30)" stroke-width="1.0" opacity="0.71"/>
<line x1="52.71" y1="2.07" x2="58.88" y2="-1.58" stroke="rgb(157,147,124)" stroke-width="1.0" opacity="0.62"/>
<line x1="30.01" y1="103.37" x2="34.52" y2="97.85" stroke="rgb(71,61,35)" stroke-width="1.0" opacity="0.45"/>
<line x1="58.77" y1="99.24" x2="63.07" y2="89.51" stroke="rgb(79,76,63)" stroke-width="0.6" opacity="0.68"/>
<line x1="32.32" y1="50.55" x2="40.64" y2="44.38" stroke="rgb(52,56,74)" stroke-width="1.0" opacity="0.72"/>
<line x1="105.83" y1="93.46" x2="108.16" y2="83.48" stroke="rgb(13,14,18)" stroke-width="1.2" opacity="0.55"/>
<line x1="46.59" y1="60.94" x2="49.29" y2="57.48" stroke="rgb(150,148,138)" stroke-width="1.2" opacity="0.72"/>
<line x1="45.45" y1="58.3" x2="48.97" y2="52.95" stroke="rgb(65,63,52)" stroke-width="0.8" opacity="0.53"/>
<line x1="-4" y1="66.08" x2="0.44" y2="63.99" stroke="rgb(169,191,130)" stroke-width="0.6" opacity="0.60"/>
<line x1="90.79" y1="98.84" x2="94.48" y2="91.23" stroke="rgb(31,33,37)" stroke-width="1.0" opacity="0.45"/>
<line x1="-4.55" y1="19.2" x2="3.06" y2="17.57" stroke="rgb(77,87,59)" stroke-width="1.0" opacity="0.44"/>
<line x1="41.31" y1="93.95" x2="45.07" y2="88.16" stroke="rgb(194,167,95)" stroke-width="1.2" opacity="0.67"/>
<line x1="20.85" y1="-2.22" x2="30.16" y2="-4.43" stroke="rgb(60,55,35)" stroke-width="1.0" opacity="0.46"/>
<line x1="8" y1="68.85" x2="11.73" y2="65.79" stroke="rgb(43,54,70)" stroke-width="0.6" opacity="0.71"/>
<line x1="38.22" y1="59.57" x2="41.4" y2="57.12" stroke="rgb(135,145,188)" stroke-width="0.6" opacity="0.66"/>
<line x1="34.63" y1="40.27" x2="42.93" y2="34.82" stroke="rgb(42,45,58)" stroke-width="1.0" opacity="0.68"/>
<line x1="43.24" y1="61.07" x2="46.85" y2="56.53" stroke="rgb(35,35,37)" stroke-width="1.0" opacity="0.55"/>
<line x1="107.74" y1="32.75" x2="109.51" y2="28.52" stroke="rgb(15,17,20)" stroke-width="1.2" opacity="0.42"/>
<line x1="7.96" y1="76.78" x2="14.6" y2="73.01" stroke="rgb(119,155,237)" stroke-width="1.2" opacity="0.58"/>
<line x1="51.25" y1="69.48" x2="55.02" y2="64.83" stroke="rgb(84,81,67)" stroke-width="1.2" opacity="0.47"/>
<line x1="52.26" y1="12.8" x2="59.78" y2="7.12" stroke="rgb(67,65,56)" stroke-width="0.6" opacity="0.42"/>
<line x1="68.28" y1="62.51" x2="73.52" y2="54.88" stroke="rgb(122,126,133)" stroke-width="0.8" opacity="0.65"/>
<line x1="52.25" y1="93.2" x2="56.32" y2="84.16" stroke="rgb(159,158,156)" stroke-width="0.8" opacity="0.57"/>
<line x1="33.41" y1="30.7" x2="38.4" y2="28.58" stroke="rgb(152,164,214)" stroke-width="0.8" opacity="0.67"/>
<line x1="77.13" y1="39.52" x2="82.6" y2="34.16" stroke="rgb(19,21,25)" stroke-width="0.6" opacity="0.41"/>
<line x1="5.24" y1="11.52" x2="9.46" y2="9.91" stroke="rgb(26,39,73)" stroke-width="0.6" opacity="0.48"/>
<line x1="64.87" y1="75.54" x2="71.32" y2="66.69" stroke="rgb(98,94,77)" stroke-width="0.6" opacity="0.41"/>
<line x1="69.6" y1="62.8" x2="73.67" y2="54.6" stroke="rgb(79,85,96)" stroke-width="1.2" opacity="0.46"/>
<line x1="43.38" y1="54" x2="45.99" y2="50.55" stroke="rgb(124,126,138)" stroke-width="1.2" opacity="0.54"/>
<line x1="27.07" y1="20.38" x2="32.72" y2="17.31" stroke="rgb(66,56,32)" stroke-width="0.8" opacity="0.52"/>
<line x1="58.94" y1="54.56" x2="61.48" y2="51.3" stroke="rgb(209,201,164)" stroke-width="1.0" opacity="0.45"/>
<line x1="74.19" y1="25.33" x2="81.62" y2="19.09" stroke="rgb(91,97,109)" stroke-width="1.0" opacity="0.66"/>
<line x1="49.96" y1="49.42" x2="53.89" y2="45.62" stroke="rgb(62,59,48)" stroke-width="1.2" opacity="0.61"/>
<line x1="12.73" y1="86.61" x2="16.18" y2="82.25" stroke="rgb(38,51,81)" stroke-width="0.6" opacity="0.43"/>
<line x1="84.11" y1="65.56" x2="87.1" y2="57.74" stroke="rgb(88,94,106)" stroke-width="0.6" opacity="0.47"/>
<line x1="68.53" y1="40.87" x2="72.95" y2="34.36" stroke="rgb(165,166,157)" stroke-width="0.8" opacity="0.57"/>
<line x1="12.66" y1="75.58" x2="16.56" y2="72.64" stroke="rgb(46,55,64)" stroke-width="1.2" opacity="0.59"/>
<line x1="11.35" y1="31.25" x2="16.71" y2="28.86" stroke="rgb(39,55,89)" stroke-width="0.8" opacity="0.44"/>
<line x1="14.19" y1="10.13" x2="21.65" y2="7.33" stroke="rgb(143,167,144)" stroke-width="1.0" opacity="0.70"/>
<line x1="14.54" y1="88.07" x2="18.5" y2="84.39" stroke="rgb(37,51,86)" stroke-width="1.0" opacity="0.52"/>
<line x1="67.97" y1="42.25" x2="75.46" y2="35.88" stroke="rgb(36,38,41)" stroke-width="1.2" opacity="0.59"/>
<line x1="71.06" y1="22.91" x2="75.17" y2="18.83" stroke="rgb(106,112,125)" stroke-width="1.0" opacity="0.51"/>
<line x1="40.7" y1="0.24" x2="46.2" y2="-0.54" stroke="rgb(145,146,154)" stroke-width="0.8" opacity="0.67"/>
<line x1="-5.95" y1="76.2" x2="-0.24" y2="70.45" stroke="rgb(59,65,43)" stroke-width="0.8" opacity="0.45"/>
<line x1="49.53" y1="2.65" x2="55.6" y2="-0.29" stroke="rgb(146,141,134)" stroke-width="1.0" opacity="0.68"/>
<line x1="69.72" y1="4.11" x2="75.69" y2="0.59" stroke="rgb(89,95,106)" stroke-width="1.2" opacity="0.68"/>
<line x1="55.91" y1="83.7" x2="58.55" y2="77.33" stroke="rgb(213,205,166)" stroke-width="0.8" opacity="0.54"/>
<line x1="5.05" y1="-2.21" x2="11.9" y2="-4.29" stroke="rgb(60,69,49)" stroke-width="1.0" opacity="0.49"/>
<line x1="34.74" y1="102.67" x2="41.17" y2="96.07" stroke="rgb(206,177,101)" stroke-width="0.6" opacity="0.59"/>
<line x1="3.93" y1="19.93" x2="13.11" y2="16.13" stroke="rgb(84,116,204)" stroke-width="0.8" opacity="0.45"/>
<line x1="88.09" y1="73.97" x2="90.4" y2="65.38" stroke="rgb(16,18,21)" stroke-width="0.8" opacity="0.41"/>
<line x1="9.61" y1="16.66" x2="15.08" y2="15.17" stroke="rgb(21,30,55)" stroke-width="0.6" opacity="0.58"/>
<line x1="16.61" y1="76.95" x2="23.38" y2="71.55" stroke="rgb(25,35,60)" stroke-width="0.6" opacity="0.49"/>
<line x1="-0.32" y1="18.17" x2="7.54" y2="16.43" stroke="rgb(25,36,68)" stroke-width="1.0" opacity="0.58"/>
<line x1="32.9" y1="98.52" x2="38.27" y2="89.35" stroke="rgb(90,78,44)" stroke-width="1.0" opacity="0.43"/>
<line x1="18.83" y1="6.17" x2="26.19" y2="5.17" stroke="rgb(51,44,25)" stroke-width="1.0" opacity="0.48"/>
<line x1="70.83" y1="27.91" x2="76.14" y2="20.76" stroke="rgb(45,47,48)" stroke-width="1.0" opacity="0.42"/>
<line x1="22.14" y1="41.47" x2="26.29" y2="37.88" stroke="rgb(183,158,90)" stroke-width="0.8" opacity="0.42"/>
<line x1="-7.13" y1="34.42" x2="0.45" y2="30.51" stroke="rgb(164,185,123)" stroke-width="1.0" opacity="0.42"/>
<line x1="47.81" y1="66.03" x2="53.82" y2="58.6" stroke="rgb(74,71,58)" stroke-width="0.8" opacity="0.45"/>
<line x1="-4.03" y1="59.38" x2="3.96" y2="56.17" stroke="rgb(160,181,124)" stroke-width="1.0" opacity="0.59"/>
<line x1="88.01" y1="88.07" x2="90.66" y2="78.37" stroke="rgb(24,26,30)" stroke-width="1.2" opacity="0.57"/>
<line x1="-6.08" y1="57.02" x2="-0.45" y2="52.92" stroke="rgb(167,192,137)" stroke-width="0.8" opacity="0.74"/>
<line x1="91.08" y1="9" x2="94.04" y2="4.9" stroke="rgb(43,45,51)" stroke-width="0.8" opacity="0.50"/>
<line x1="20.9" y1="3.04" x2="29" y2="1.05" stroke="rgb(143,160,122)" stroke-width="1.2" opacity="0.67"/>
<line x1="48.97" y1="52.71" x2="55" y2="47.57" stroke="rgb(89,86,69)" stroke-width="0.6" opacity="0.59"/>
<line x1="58.34" y1="66.66" x2="62" y2="59.95" stroke="rgb(178,172,142)" stroke-width="1.2" opacity="0.73"/>
<line x1="27.51" y1="54.81" x2="34.35" y2="47.31" stroke="rgb(44,47,62)" stroke-width="0.8" opacity="0.53"/>
<line x1="105.26" y1="24.2" x2="106.46" y2="20.28" stroke="rgb(105,112,124)" stroke-width="0.6" opacity="0.59"/>
<line x1="19.33" y1="4.93" x2="28.43" y2="3.54" stroke="rgb(198,171,97)" stroke-width="0.6" opacity="0.53"/>
<line x1="55.06" y1="18.27" x2="59.4" y2="15.72" stroke="rgb(94,90,73)" stroke-width="1.2" opacity="0.55"/>
<line x1="47.29" y1="41.37" x2="52.08" y2="37.96" stroke="rgb(58,56,48)" stroke-width="0.8" opacity="0.61"/>
<line x1="61.12" y1="17.94" x2="69.46" y2="11.45" stroke="rgb(105,112,124)" stroke-width="0.8" opacity="0.56"/>
<line x1="83.96" y1="11.78" x2="88.85" y2="8.59" stroke="rgb(46,49,55)" stroke-width="1.2" opacity="0.41"/>
<line x1="88.09" y1="59.61" x2="93.48" y2="50.75" stroke="rgb(131,138,152)" stroke-width="0.8" opacity="0.44"/>
<line x1="43.34" y1="78.11" x2="48.55" y2="72.46" stroke="rgb(63,65,76)" stroke-width="0.8" opacity="0.53"/>
<line x1="4.14" y1="83.25" x2="11.31" y2="77.01" stroke="rgb(74,82,54)" stroke-width="1.2" opacity="0.61"/>
<line x1="108.79" y1="52.07" x2="110.53" y2="44.2" stroke="rgb(12,13,16)" stroke-width="1.2" opacity="0.69"/>
<line x1="91.01" y1="14.83" x2="94.54" y2="10.7" stroke="rgb(32,34,37)" stroke-width="0.6" opacity="0.59"/>
<line x1="41.91" y1="84.3" x2="47.28" y2="77.56" stroke="rgb(55,48,31)" stroke-width="0.8" opacity="0.57"/>
<line x1="32.6" y1="61.78" x2="36" y2="59.08" stroke="rgb(54,47,26)" stroke-width="1.0" opacity="0.52"/>
<line x1="20.56" y1="45.26" x2="26.56" y2="41.24" stroke="rgb(181,156,88)" stroke-width="1.0" opacity="0.59"/>
<line x1="46" y1="8" x2="53.46" y2="6.24" stroke="rgb(55,54,55)" stroke-width="0.6" opacity="0.46"/>
<line x1="89.38" y1="28.31" x2="93.63" y2="22.02" stroke="rgb(36,38,43)" stroke-width="0.6" opacity="0.63"/>
<line x1="66.85" y1="33.78" x2="71.31" y2="27.68" stroke="rgb(58,57,50)" stroke-width="1.2" opacity="0.55"/>
<line x1="47.74" y1="76.51" x2="53.9" y2="69.18" stroke="rgb(55,53,49)" stroke-width="1.2" opacity="0.40"/>
<line x1="109.72" y1="17.33" x2="112.09" y2="12.13" stroke="rgb(12,13,16)" stroke-width="1.2" opacity="0.46"/>
<line x1="80.09" y1="63.27" x2="82.77" y2="54.45" stroke="rgb(102,109,122)" stroke-width="1.0" opacity="0.66"/>
<line x1="99.57" y1="102.36" x2="99.87" y2="91.54" stroke="rgb(19,21,25)" stroke-width="1.2" opacity="0.62"/>
<line x1="31.5" y1="22.36" x2="41.07" y2="17.4" stroke="rgb(66,68,77)" stroke-width="1.0" opacity="0.54"/>
<line x1="71.17" y1="1.25" x2="75.58" y2="0.02" stroke="rgb(122,127,133)" stroke-width="0.8" opacity="0.52"/>
<line x1="108.16" y1="87.18" x2="108.05" y2="76.83" stroke="rgb(72,77,87)" stroke-width="0.8" opacity="0.67"/>
<line x1="104.02" y1="87.69" x2="105.09" y2="80.73" stroke="rgb(133,140,155)" stroke-width="1.0" opacity="0.73"/>
<line x1="102.94" y1="102.44" x2="104.21" y2="95.86" stroke="rgb(16,18,22)" stroke-width="0.6" opacity="0.73"/>
<line x1="21.01" y1="88.33" x2="25.45" y2="82.26" stroke="rgb(35,48,82)" stroke-width="1.0" opacity="0.64"/>
<line x1="106.95" y1="13.77" x2="110.62" y2="4.76" stroke="rgb(91,96,107)" stroke-width="1.0" opacity="0.75"/>
<line x1="107.81" y1="100.94" x2="110.78" y2="91.08" stroke="rgb(124,132,146)" stroke-width="0.6" opacity="0.55"/>
<line x1="12.15" y1="80.09" x2="17.49" y2="76.82" stroke="rgb(26,35,57)" stroke-width="1.0" opacity="0.49"/>
<line x1="0.29" y1="29.99" x2="3.94" y2="27.98" stroke="rgb(41,57,96)" stroke-width="1.0" opacity="0.45"/>
<line x1="-2.43" y1="58.61" x2="5.68" y2="52.98" stroke="rgb(67,77,54)" stroke-width="0.8" opacity="0.53"/>
<line x1="31.13" y1="23.57" x2="35.96" y2="20.03" stroke="rgb(87,75,42)" stroke-width="0.6" opacity="0.65"/>
<line x1="-1.44" y1="15.45" x2="5.6" y2="13.62" stroke="rgb(122,155,202)" stroke-width="0.6" opacity="0.63"/>
<line x1="21.92" y1="17.71" x2="29.62" y2="14.95" stroke="rgb(194,172,101)" stroke-width="0.8" opacity="0.42"/>
<line x1="61.73" y1="21.65" x2="65.56" y2="19.55" stroke="rgb(139,142,141)" stroke-width="1.0" opacity="0.70"/>
<line x1="82.44" y1="99.46" x2="84.71" y2="90.41" stroke="rgb(42,42,37)" stroke-width="1.0" opacity="0.47"/>
<line x1="37.17" y1="47.74" x2="42.51" y2="42.58" stroke="rgb(138,147,185)" stroke-width="0.8" opacity="0.51"/>
<line x1="7.11" y1="34.4" x2="15.21" y2="28.92" stroke="rgb(24,33,56)" stroke-width="0.8" opacity="0.47"/>
<line x1="46.84" y1="89.7" x2="50.15" y2="85.65" stroke="rgb(138,129,110)" stroke-width="0.6" opacity="0.47"/>
<line x1="13.11" y1="65.11" x2="17.9" y2="60.16" stroke="rgb(145,165,128)" stroke-width="1.0" opacity="0.47"/>
<line x1="53.09" y1="72.09" x2="60.44" y2="64" stroke="rgb(82,79,63)" stroke-width="1.2" opacity="0.53"/>
<line x1="34.39" y1="1.05" x2="43.59" y2="-1.98" stroke="rgb(38,41,52)" stroke-width="1.0" opacity="0.70"/>
<line x1="32.22" y1="6.3" x2="42.98" y2="4.59" stroke="rgb(129,138,178)" stroke-width="1.0" opacity="0.50"/>
<line x1="66.39" y1="80.85" x2="71.16" y2="72.65" stroke="rgb(203,195,158)" stroke-width="0.6" opacity="0.40"/>
<line x1="107.87" y1="7.83" x2="109.56" y2="2.97" stroke="rgb(92,98,109)" stroke-width="0.6" opacity="0.68"/>
<line x1="77.98" y1="70.53" x2="82.86" y2="63.04" stroke="rgb(137,145,161)" stroke-width="0.6" opacity="0.47"/>
<line x1="45.91" y1="72.31" x2="51.85" y2="64.9" stroke="rgb(128,130,142)" stroke-width="1.2" opacity="0.41"/>
<line x1="2.91" y1="53.37" x2="7.96" y2="51.13" stroke="rgb(94,126,207)" stroke-width="0.6" opacity="0.43"/>
<line x1="52.93" y1="90.36" x2="57.54" y2="83.89" stroke="rgb(70,69,64)" stroke-width="1.0" opacity="0.68"/>
<line x1="94.6" y1="70.8" x2="96.38" y2="61.76" stroke="rgb(12,14,17)" stroke-width="0.6" opacity="0.70"/>
<line x1="49.4" y1="77.2" x2="54.09" y2="71.28" stroke="rgb(90,86,69)" stroke-width="0.6" opacity="0.52"/>
<line x1="-3.38" y1="37.86" x2="4.83" y2="31.95" stroke="rgb(50,57,40)" stroke-width="1.2" opacity="0.68"/>
<line x1="-1.97" y1="0.46" x2="5.67" y2="-0.86" stroke="rgb(57,70,70)" stroke-width="1.0" opacity="0.50"/>
<line x1="77.56" y1="46.5" x2="82.69" y2="37.53" stroke="rgb(22,24,28)" stroke-width="0.6" opacity="0.54"/>
<line x1="3.56" y1="74.43" x2="9.09" y2="68.09" stroke="rgb(162,180,120)" stroke-width="0.8" opacity="0.72"/>
<line x1="83.8" y1="49.69" x2="85.92" y2="44.03" stroke="rgb(128,136,150)" stroke-width="1.2" opacity="0.53"/>
<line x1="65.68" y1="71.37" x2="69.53" y2="64.67" stroke="rgb(61,59,47)" stroke-width="0.8" opacity="0.54"/>
<line x1="47.91" y1="56.1" x2="51.84" y2="50.93" stroke="rgb(172,177,201)" stroke-width="1.0" opacity="0.63"/>
<line x1="28.92" y1="102.04" x2="32.94" y2="94.07" stroke="rgb(51,44,25)" stroke-width="0.6" opacity="0.54"/>
<line x1="12.7" y1="40.03" x2="16.32" y2="37.05" stroke="rgb(32,44,76)" stroke-width="0.6" opacity="0.48"/>
<line x1="70.76" y1="59.65" x2="76.34" y2="53.59" stroke="rgb(84,89,101)" stroke-width="0.6" opacity="0.64"/>
<line x1="69.6" y1="5.27" x2="76.58" y2="2.08" stroke="rgb(39,41,47)" stroke-width="0.8" opacity="0.46"/>
<line x1="46.6" y1="36.86" x2="50.93" y2="33.28" stroke="rgb(34,37,50)" stroke-width="0.6" opacity="0.49"/>
<line x1="26.74" y1="10.89" x2="34.76" y2="6.24" stroke="rgb(81,70,39)" stroke-width="0.6" opacity="0.64"/>
<line x1="28.1" y1="36.71" x2="35.8" y2="32.26" stroke="rgb(150,159,196)" stroke-width="1.0" opacity="0.58"/>
<line x1="72.85" y1="94.54" x2="76.41" y2="85.13" stroke="rgb(121,127,139)" stroke-width="1.0" opacity="0.47"/>
<line x1="61.68" y1="37.31" x2="64.89" y2="32.97" stroke="rgb(48,48,45)" stroke-width="1.0" opacity="0.47"/>
<line x1="106.53" y1="56.2" x2="106.87" y2="50.36" stroke="rgb(116,123,136)" stroke-width="1.0" opacity="0.51"/>
<line x1="70.33" y1="27.81" x2="77.15" y2="21.49" stroke="rgb(108,115,128)" stroke-width="1.0" opacity="0.44"/>
<line x1="81.89" y1="50.32" x2="84.19" y2="45.98" stroke="rgb(87,93,105)" stroke-width="0.8" opacity="0.64"/>
<line x1="58.02" y1="98.36" x2="59.66" y2="94.27" stroke="rgb(130,139,179)" stroke-width="1.2" opacity="0.50"/>
<line x1="98.99" y1="45.15" x2="100.67" y2="40.3" stroke="rgb(94,100,112)" stroke-width="0.8" opacity="0.62"/>
<line x1="110.12" y1="93.22" x2="110" y2="89.05" stroke="rgb(13,14,17)" stroke-width="1.0" opacity="0.40"/>
<line x1="14.82" y1="97.01" x2="18.65" y2="93.95" stroke="rgb(111,148,242)" stroke-width="1.2" opacity="0.57"/>
<line x1="40.35" y1="97.32" x2="44.68" y2="91.35" stroke="rgb(196,169,96)" stroke-width="0.6" opacity="0.55"/>
<line x1="17.84" y1="7.67" x2="25.57" y2="6.52" stroke="rgb(67,77,59)" stroke-width="0.8" opacity="0.60"/>
<line x1="4.42" y1="92.84" x2="8.81" y2="89.88" stroke="rgb(62,69,46)" stroke-width="0.8" opacity="0.55"/>
<line x1="86.38" y1="36.5" x2="89.97" y2="28.05" stroke="rgb(16,17,21)" stroke-width="0.8" opacity="0.43"/>
<line x1="28.13" y1="72.15" x2="32.09" y2="68.3" stroke="rgb(47,48,34)" stroke-width="0.6" opacity="0.69"/>
<line x1="80.28" y1="14.71" x2="85.81" y2="10.13" stroke="rgb(101,108,119)" stroke-width="0.6" opacity="0.64"/>
<line x1="22.6" y1="83.52" x2="24.94" y2="79.9" stroke="rgb(68,75,56)" stroke-width="0.6" opacity="0.46"/>
<line x1="-5.01" y1="29.8" x2="0.77" y2="27.05" stroke="rgb(69,79,56)" stroke-width="1.2" opacity="0.68"/>
<line x1="75.28" y1="66.95" x2="79.42" y2="58.69" stroke="rgb(91,98,111)" stroke-width="0.8" opacity="0.70"/>
<line x1="96.39" y1="80.9" x2="99.1" y2="73.81" stroke="rgb(98,104,116)" stroke-width="1.0" opacity="0.64"/>
<line x1="-2.13" y1="51.96" x2="6.45" y2="47.2" stroke="rgb(57,68,63)" stroke-width="1.2" opacity="0.65"/>
<line x1="37.9" y1="55.17" x2="46.66" y2="49.08" stroke="rgb(175,179,200)" stroke-width="0.8" opacity="0.53"/>
<line x1="29.15" y1="68.04" x2="34.31" y2="64.24" stroke="rgb(52,47,34)" stroke-width="0.8" opacity="0.51"/>
<line x1="45.67" y1="51.28" x2="50.83" y2="44.96" stroke="rgb(65,65,65)" stroke-width="0.8" opacity="0.69"/>
<line x1="91.6" y1="100.85" x2="93.18" y2="96.15" stroke="rgb(96,103,116)" stroke-width="0.8" opacity="0.74"/>
<line x1="81.94" y1="79.65" x2="83.73" y2="75.47" stroke="rgb(32,35,40)" stroke-width="1.0" opacity="0.59"/>
<line x1="14.65" y1="103.89" x2="20.22" y2="96.63" stroke="rgb(111,146,231)" stroke-width="1.0" opacity="0.57"/>
<line x1="59.65" y1="77.09" x2="64.6" y2="71.2" stroke="rgb(75,72,58)" stroke-width="0.8" opacity="0.57"/>
<line x1="51.26" y1="7.77" x2="60.36" y2="2.43" stroke="rgb(127,117,100)" stroke-width="1.0" opacity="0.45"/>
<line x1="16.98" y1="86.17" x2="22.6" y2="77.66" stroke="rgb(24,33,57)" stroke-width="1.0" opacity="0.43"/>
<line x1="64.14" y1="25.99" x2="70.5" y2="19.7" stroke="rgb(86,92,103)" stroke-width="0.6" opacity="0.55"/>
<line x1="25.24" y1="87.33" x2="28.45" y2="83.29" stroke="rgb(52,47,28)" stroke-width="0.8" opacity="0.74"/>
<line x1="88.14" y1="54.33" x2="90.41" y2="47.42" stroke="rgb(100,106,118)" stroke-width="1.0" opacity="0.55"/>
<line x1="70.62" y1="10.28" x2="80.45" y2="5.64" stroke="rgb(37,38,38)" stroke-width="1.2" opacity="0.42"/>
<line x1="104.63" y1="98.44" x2="106.25" y2="93.12" stroke="rgb(16,18,22)" stroke-width="1.0" opacity="0.44"/>
<line x1="75.84" y1="99.99" x2="80.63" y2="91.9" stroke="rgb(180,173,140)" stroke-width="0.8" opacity="0.61"/>
<line x1="13.76" y1="13.66" x2="18.15" y2="12.91" stroke="rgb(35,50,94)" stroke-width="1.2" opacity="0.55"/>
<line x1="5.96" y1="30.62" x2="14.43" y2="28.12" stroke="rgb(37,50,78)" stroke-width="1.2" opacity="0.59"/>
<line x1="68.13" y1="20.01" x2="72.39" y2="16.84" stroke="rgb(26,28,32)" stroke-width="0.6" opacity="0.55"/>
<line x1="8.67" y1="91.29" x2="13.15" y2="86.04" stroke="rgb(105,142,219)" stroke-width="0.8" opacity="0.70"/>
<line x1="38.3" y1="38.66" x2="42.37" y2="35.74" stroke="rgb(151,163,215)" stroke-width="0.6" opacity="0.42"/>
<line x1="15.7" y1="-0.39" x2="25.91" y2="-4.2" stroke="rgb(145,152,110)" stroke-width="0.8" opacity="0.62"/>
<line x1="84.22" y1="77.59" x2="86.29" y2="73.11" stroke="rgb(87,93,105)" stroke-width="0.8" opacity="0.44"/>
<line x1="-5.59" y1="54.54" x2="0.78" y2="50.79" stroke="rgb(63,72,49)" stroke-width="1.0" opacity="0.71"/>
<line x1="-6.28" y1="84.57" x2="0.11" y2="80.12" stroke="rgb(83,92,58)" stroke-width="1.0" opacity="0.59"/>
<line x1="96.68" y1="83.62" x2="100.53" y2="75.82" stroke="rgb(117,124,137)" stroke-width="0.8" opacity="0.47"/>
<line x1="82.27" y1="46.67" x2="85.27" y2="40.67" stroke="rgb(17,18,22)" stroke-width="1.2" opacity="0.43"/>
<line x1="25.38" y1="78.76" x2="30.97" y2="71.55" stroke="rgb(198,171,97)" stroke-width="0.8" opacity="0.48"/>
<line x1="56.88" y1="36.05" x2="60.24" y2="33.69" stroke="rgb(156,152,130)" stroke-width="1.0" opacity="0.42"/>
<line x1="97.07" y1="18.06" x2="100.44" y2="12.81" stroke="rgb(25,27,30)" stroke-width="1.0" opacity="0.60"/>
<line x1="10.74" y1="37.73" x2="15.51" y2="36.05" stroke="rgb(59,57,38)" stroke-width="1.2" opacity="0.53"/>
<line x1="85.13" y1="4.3" x2="91.61" y2="-1.09" stroke="rgb(105,112,125)" stroke-width="1.0" opacity="0.70"/>
<line x1="98.99" y1="82.6" x2="100.23" y2="75.41" stroke="rgb(15,16,20)" stroke-width="1.0" opacity="0.47"/>
<line x1="26.4" y1="40.12" x2="33.04" y2="34.94" stroke="rgb(74,64,36)" stroke-width="0.8" opacity="0.43"/>
<line x1="98.37" y1="55.85" x2="102.28" y2="48.92" stroke="rgb(91,97,108)" stroke-width="1.0" opacity="0.71"/>
<line x1="87.25" y1="49.69" x2="91.48" y2="39.96" stroke="rgb(113,120,133)" stroke-width="0.8" opacity="0.60"/>
<line x1="-2.6" y1="6.43" x2="8.01" y2="4.61" stroke="rgb(94,131,232)" stroke-width="1.2" opacity="0.66"/>
<line x1="10.1" y1="40.47" x2="16.55" y2="37.23" stroke="rgb(23,33,57)" stroke-width="1.0" opacity="0.59"/>
<line x1="49.92" y1="63.28" x2="55.55" y2="58.59" stroke="rgb(196,189,153)" stroke-width="1.0" opacity="0.72"/>
<line x1="2.08" y1="12.48" x2="8.13" y2="11.67" stroke="rgb(22,33,62)" stroke-width="0.6" opacity="0.42"/>
<line x1="18.73" y1="28.63" x2="26.15" y2="23.93" stroke="rgb(98,129,201)" stroke-width="0.6" opacity="0.64"/>
<line x1="104.76" y1="1.81" x2="110.19" y2="-4.61" stroke="rgb(12,13,16)" stroke-width="1.2" opacity="0.56"/>
<line x1="71.97" y1="28.05" x2="75.23" y2="23.9" stroke="rgb(125,130,136)" stroke-width="0.8" opacity="0.56"/>
<line x1="90.19" y1="3.27" x2="97.76" y2="-0.82" stroke="rgb(22,24,28)" stroke-width="0.8" opacity="0.75"/>
<line x1="12.22" y1="96.05" x2="15.33" y2="91.2" stroke="rgb(101,135,209)" stroke-width="1.2" opacity="0.54"/>
<line x1="102.92" y1="54.09" x2="104.72" y2="48.45" stroke="rgb(105,111,123)" stroke-width="0.8" opacity="0.53"/>
<line x1="8.19" y1="92.13" x2="14.44" y2="87.94" stroke="rgb(29,40,67)" stroke-width="0.6" opacity="0.44"/>
<line x1="70.69" y1="30.3" x2="73.91" y2="27.1" stroke="rgb(23,25,28)" stroke-width="0.8" opacity="0.45"/>
<line x1="105.33" y1="24.5" x2="108.85" y2="17.09" stroke="rgb(85,90,100)" stroke-width="1.0" opacity="0.45"/>
<line x1="17.74" y1="74.13" x2="21.1" y2="70.54" stroke="rgb(43,55,73)" stroke-width="1.0" opacity="0.58"/>
<line x1="64.99" y1="5.66" x2="68.48" y2="3.25" stroke="rgb(146,138,121)" stroke-width="1.0" opacity="0.55"/>
<line x1="98.49" y1="52.51" x2="100.91" y2="46.81" stroke="rgb(102,108,121)" stroke-width="1.2" opacity="0.48"/>
<line x1="68.59" y1="62.29" x2="73.09" y2="54.94" stroke="rgb(80,77,63)" stroke-width="1.2" opacity="0.62"/>
<line x1="63.07" y1="43.83" x2="69.34" y2="37.84" stroke="rgb(40,41,42)" stroke-width="0.6" opacity="0.72"/>
<line x1="38.2" y1="92.9" x2="42.11" y2="85.39" stroke="rgb(48,45,41)" stroke-width="0.6" opacity="0.67"/>
<line x1="60.49" y1="90.31" x2="64.89" y2="81.04" stroke="rgb(40,40,40)" stroke-width="1.0" opacity="0.60"/>
<line x1="41.09" y1="74.31" x2="44.85" y2="70.36" stroke="rgb(119,128,167)" stroke-width="1.2" opacity="0.51"/>
<line x1="17.67" y1="8" x2="24.06" y2="7.06" stroke="rgb(167,169,117)" stroke-width="1.0" opacity="0.47"/>
<line x1="23.02" y1="72.7" x2="29.69" y2="66.62" stroke="rgb(70,60,34)" stroke-width="1.0" opacity="0.52"/>
<line x1="55.99" y1="43.45" x2="62.37" y2="38.67" stroke="rgb(86,82,67)" stroke-width="1.2" opacity="0.60"/>
<line x1="8.9" y1="6.34" x2="18.57" y2="3.06" stroke="rgb(91,124,211)" stroke-width="1.2" opacity="0.50"/>
<line x1="43.12" y1="3.89" x2="50.4" y2="2.48" stroke="rgb(142,147,176)" stroke-width="0.8" opacity="0.71"/>
<line x1="49.26" y1="85.14" x2="52.89" y2="81.32" stroke="rgb(83,80,67)" stroke-width="0.6" opacity="0.41"/>
<line x1="79.13" y1="89.07" x2="81.68" y2="83.04" stroke="rgb(134,136,136)" stroke-width="0.6" opacity="0.72"/>
<line x1="10.04" y1="24.68" x2="17.24" y2="21.39" stroke="rgb(98,137,243)" stroke-width="1.0" opacity="0.73"/>
<line x1="85.33" y1="98.03" x2="88.53" y2="90.64" stroke="rgb(41,42,43)" stroke-width="0.8" opacity="0.53"/>
<line x1="56.09" y1="62.2" x2="59.86" y2="58.51" stroke="rgb(54,52,45)" stroke-width="0.8" opacity="0.57"/>
<line x1="84.36" y1="88.63" x2="85.84" y2="83.99" stroke="rgb(21,23,27)" stroke-width="0.6" opacity="0.64"/>
<line x1="68.81" y1="56.3" x2="73.18" y2="52.13" stroke="rgb(39,42,47)" stroke-width="1.0" opacity="0.74"/>
<line x1="37.5" y1="4.8" x2="44.86" y2="0.89" stroke="rgb(43,47,62)" stroke-width="1.2" opacity="0.56"/>
<line x1="51" y1="102.47" x2="54.04" y2="96.29" stroke="rgb(136,148,196)" stroke-width="0.8" opacity="0.56"/>
<line x1="70.91" y1="7.67" x2="78.48" y2="2.48" stroke="rgb(96,102,114)" stroke-width="0.6" opacity="0.59"/>
<line x1="54.55" y1="65.23" x2="58.54" y2="61.51" stroke="rgb(91,87,70)" stroke-width="0.8" opacity="0.51"/>
<line x1="67.85" y1="71.1" x2="70.64" y2="66.63" stroke="rgb(51,51,47)" stroke-width="0.8" opacity="0.60"/>
<line x1="82.13" y1="83.14" x2="85.83" y2="77.23" stroke="rgb(20,22,26)" stroke-width="1.0" opacity="0.46"/>
<line x1="108.54" y1="37.79" x2="109.91" y2="33.11" stroke="rgb(12,13,16)" stroke-width="0.6" opacity="0.41"/>
<line x1="86.99" y1="76.81" x2="89.53" y2="68.38" stroke="rgb(135,143,158)" stroke-width="0.8" opacity="0.41"/>
<line x1="36.43" y1="48.05" x2="43.76" y2="40.81" stroke="rgb(155,165,206)" stroke-width="1.0" opacity="0.63"/>
<line x1="4.32" y1="55.89" x2="12.14" y2="50.24" stroke="rgb(33,45,74)" stroke-width="1.0" opacity="0.48"/>
<line x1="83.07" y1="-0.05" x2="86.53" y2="-2.19" stroke="rgb(142,150,166)" stroke-width="1.0" opacity="0.62"/>
<line x1="92.66" y1="21.07" x2="95.82" y2="16.92" stroke="rgb(116,124,137)" stroke-width="1.0" opacity="0.55"/>
<line x1="6.52" y1="44.89" x2="11.52" y2="41.48" stroke="rgb(25,35,59)" stroke-width="0.8" opacity="0.69"/>
<line x1="99.02" y1="76.9" x2="99.83" y2="72.27" stroke="rgb(14,16,19)" stroke-width="0.6" opacity="0.72"/>
<line x1="77.89" y1="9.58" x2="85.99" y2="4.25" stroke="rgb(100,107,119)" stroke-width="1.0" opacity="0.72"/>
<line x1="-2.38" y1="70.62" x2="5.51" y2="63.23" stroke="rgb(45,50,33)" stroke-width="0.6" opacity="0.70"/>
<line x1="31.76" y1="73.62" x2="35.93" y2="68.45" stroke="rgb(56,55,56)" stroke-width="0.6" opacity="0.57"/>
<line x1="100.45" y1="94.02" x2="101.99" y2="83.15" stroke="rgb(84,89,100)" stroke-width="1.0" opacity="0.52"/>
<line x1="-6.54" y1="31.64" x2="0.48" y2="27.36" stroke="rgb(154,175,119)" stroke-width="1.2" opacity="0.45"/>
<line x1="94.85" y1="31.71" x2="98.47" y2="25.32" stroke="rgb(92,98,110)" stroke-width="1.0" opacity="0.64"/>
<line x1="94.11" y1="14.92" x2="97.01" y2="11.44" stroke="rgb(115,121,133)" stroke-width="1.0" opacity="0.45"/>
<line x1="100.77" y1="92.76" x2="102.01" y2="87.19" stroke="rgb(85,91,103)" stroke-width="1.0" opacity="0.42"/>
<line x1="91.68" y1="103" x2="92.26" y2="95.67" stroke="rgb(101,108,121)" stroke-width="0.6" opacity="0.40"/>
<line x1="64.22" y1="51.32" x2="69.77" y2="44.34" stroke="rgb(166,167,159)" stroke-width="0.6" opacity="0.55"/>
<line x1="74.58" y1="44.42" x2="78.07" y2="39.13" stroke="rgb(139,146,162)" stroke-width="1.2" opacity="0.68"/>
<line x1="108.53" y1="60.2" x2="109.89" y2="55.05" stroke="rgb(92,97,109)" stroke-width="1.2" opacity="0.50"/>
<line x1="16.06" y1="97.24" x2="22.59" y2="89.26" stroke="rgb(46,59,84)" stroke-width="0.8" opacity="0.69"/>
<line x1="100.91" y1="97.93" x2="103.75" y2="89.41" stroke="rgb(128,136,151)" stroke-width="1.0" opacity="0.56"/>
<line x1="19.57" y1="40.17" x2="26.58" y2="36.85" stroke="rgb(198,170,97)" stroke-width="1.2" opacity="0.63"/>
<line x1="24.26" y1="43.47" x2="33.06" y2="39.18" stroke="rgb(201,173,98)" stroke-width="1.2" opacity="0.50"/>
<line x1="86.99" y1="10.57" x2="93.59" y2="3.24" stroke="rgb(110,117,129)" stroke-width="0.6" opacity="0.44"/>
<line x1="4.44" y1="65.74" x2="11.13" y2="61.04" stroke="rgb(39,53,92)" stroke-width="1.2" opacity="0.57"/>
<line x1="89.07" y1="81.06" x2="92.72" y2="73.9" stroke="rgb(144,152,168)" stroke-width="1.2" opacity="0.56"/>
<line x1="74.4" y1="60.23" x2="77.72" y2="53.32" stroke="rgb(110,116,130)" stroke-width="1.2" opacity="0.54"/>
<line x1="83.79" y1="15.66" x2="90.15" y2="9.02" stroke="rgb(128,136,149)" stroke-width="1.0" opacity="0.72"/>
<line x1="53.6" y1="38.93" x2="60.37" y2="31.07" stroke="rgb(70,66,54)" stroke-width="1.0" opacity="0.56"/>
<line x1="3.11" y1="88.6" x2="7.13" y2="85.87" stroke="rgb(37,44,47)" stroke-width="1.0" opacity="0.67"/>
<line x1="48.1" y1="81.69" x2="50.23" y2="78.27" stroke="rgb(51,52,59)" stroke-width="0.8" opacity="0.42"/>
<line x1="57.8" y1="53.19" x2="62.11" y2="48.15" stroke="rgb(56,54,43)" stroke-width="1.0" opacity="0.52"/>
<line x1="52.77" y1="60.03" x2="57.6" y2="53.85" stroke="rgb(188,181,147)" stroke-width="1.2" opacity="0.69"/>
<line x1="2.97" y1="63.28" x2="9.44" y2="60" stroke="rgb(66,75,57)" stroke-width="1.0" opacity="0.72"/>
<line x1="94.83" y1="38.33" x2="96.62" y2="34.15" stroke="rgb(12,13,16)" stroke-width="1.2" opacity="0.74"/>
<line x1="69.53" y1="31.47" x2="76.52" y2="25.97" stroke="rgb(36,38,43)" stroke-width="1.2" opacity="0.54"/>
<line x1="100.21" y1="90.55" x2="101.54" y2="86.52" stroke="rgb(141,149,165)" stroke-width="1.2" opacity="0.58"/>
<line x1="67.45" y1="88.44" x2="71.12" y2="82.59" stroke="rgb(189,184,155)" stroke-width="1.2" opacity="0.64"/>
<line x1="65.73" y1="68.89" x2="69.87" y2="61.8" stroke="rgb(147,146,133)" stroke-width="0.6" opacity="0.45"/>
<line x1="93.45" y1="58.54" x2="95.77" y2="53.75" stroke="rgb(12,13,16)" stroke-width="1.0" opacity="0.57"/>
<line x1="69.58" y1="7.27" x2="75.74" y2="2.1" stroke="rgb(42,44,48)" stroke-width="1.2" opacity="0.70"/>
<line x1="95.57" y1="103.16" x2="98.91" y2="95.51" stroke="rgb(106,112,125)" stroke-width="0.8" opacity="0.71"/>
<line x1="83.37" y1="55.91" x2="88.1" y2="48.9" stroke="rgb(94,101,113)" stroke-width="1.2" opacity="0.56"/>
<line x1="108.79" y1="36.84" x2="111.73" y2="26.38" stroke="rgb(12,13,16)" stroke-width="0.6" opacity="0.60"/>
<line x1="39.1" y1="56.88" x2="45.88" y2="51.82" stroke="rgb(133,142,182)" stroke-width="1.0" opacity="0.45"/>
<line x1="82.3" y1="28.09" x2="87.04" y2="21.69" stroke="rgb(18,20,24)" stroke-width="1.2" opacity="0.59"/>
<line x1="3.97" y1="-3.4" x2="11.94" y2="-3.54" stroke="rgb(51,61,56)" stroke-width="0.8" opacity="0.69"/>
<line x1="7.73" y1="33.43" x2="12.96" y2="30.47" stroke="rgb(38,53,90)" stroke-width="1.0" opacity="0.44"/>
<line x1="95.87" y1="40.64" x2="97.76" y2="37.09" stroke="rgb(13,15,18)" stroke-width="1.0" opacity="0.57"/>
<line x1="49.44" y1="77.69" x2="54.46" y2="71.2" stroke="rgb(68,65,52)" stroke-width="0.8" opacity="0.64"/>
<line x1="18.76" y1="38.74" x2="24" y2="36.8" stroke="rgb(36,46,66)" stroke-width="1.0" opacity="0.65"/>
<line x1="60.83" y1="68.63" x2="64.18" y2="65.25" stroke="rgb(81,79,66)" stroke-width="1.2" opacity="0.48"/>
<line x1="33.4" y1="79.48" x2="37.41" y2="75.93" stroke="rgb(172,148,84)" stroke-width="1.2" opacity="0.45"/>
<line x1="92.78" y1="10.03" x2="96.01" y2="7.05" stroke="rgb(109,115,127)" stroke-width="0.6" opacity="0.73"/>
<line x1="49.32" y1="58.97" x2="55.11" y2="53.81" stroke="rgb(49,49,48)" stroke-width="1.0" opacity="0.46"/>
<line x1="85.67" y1="44.32" x2="87.89" y2="38.73" stroke="rgb(106,112,125)" stroke-width="1.0" opacity="0.72"/>
<line x1="83.96" y1="79.72" x2="86.15" y2="74.68" stroke="rgb(121,128,143)" stroke-width="1.2" opacity="0.50"/>
<line x1="37.96" y1="59.79" x2="45.2" y2="52.64" stroke="rgb(79,77,67)" stroke-width="1.0" opacity="0.72"/>
<line x1="37.51" y1="65.3" x2="41.99" y2="61" stroke="rgb(60,54,39)" stroke-width="0.6" opacity="0.41"/>
<line x1="34.16" y1="35.53" x2="43.68" y2="30.75" stroke="rgb(53,55,68)" stroke-width="1.2" opacity="0.48"/>
<line x1="35.5" y1="90.35" x2="41.28" y2="81.28" stroke="rgb(60,52,30)" stroke-width="1.2" opacity="0.73"/>
<line x1="60.1" y1="74.09" x2="66.96" y2="66.18" stroke="rgb(200,192,155)" stroke-width="0.6" opacity="0.54"/>
<line x1="58.71" y1="28.47" x2="62.35" y2="24.49" stroke="rgb(204,197,160)" stroke-width="0.8" opacity="0.52"/>
<line x1="108.59" y1="75.65" x2="109.96" y2="69.08" stroke="rgb(12,13,16)" stroke-width="0.6" opacity="0.55"/>
<line x1="53.82" y1="0.22" x2="61.99" y2="-1.9" stroke="rgb(112,104,89)" stroke-width="1.0" opacity="0.51"/>
<line x1="95.36" y1="71.64" x2="99.61" y2="61.89" stroke="rgb(123,129,143)" stroke-width="1.0" opacity="0.65"/>
<line x1="46.83" y1="52.78" x2="50.56" y2="49.26" stroke="rgb(71,73,81)" stroke-width="0.8" opacity="0.72"/>
<line x1="68.35" y1="88.8" x2="72.4" y2="80.75" stroke="rgb(204,196,159)" stroke-width="0.6" opacity="0.44"/>
<line x1="9.93" y1="13.3" x2="15.19" y2="11.5" stroke="rgb(27,40,75)" stroke-width="1.0" opacity="0.62"/>
<line x1="82.55" y1="12.32" x2="85.53" y2="9.58" stroke="rgb(40,43,47)" stroke-width="0.6" opacity="0.51"/>
<line x1="22.7" y1="76.67" x2="25.63" y2="72.94" stroke="rgb(36,50,85)" stroke-width="1.0" opacity="0.50"/>
<line x1="11.36" y1="29.57" x2="19.35" y2="25.65" stroke="rgb(72,71,48)" stroke-width="0.8" opacity="0.63"/>
<line x1="59.9" y1="2.1" x2="69.11" y2="0.16" stroke="rgb(113,117,122)" stroke-width="0.8" opacity="0.56"/>
<line x1="24.03" y1="59.14" x2="29.3" y2="55.75" stroke="rgb(154,155,106)" stroke-width="1.0" opacity="0.66"/>
<line x1="8.53" y1="33.2" x2="14.84" y2="31.12" stroke="rgb(79,69,39)" stroke-width="0.6" opacity="0.69"/>
<line x1="106.51" y1="79.38" x2="108.25" y2="69.06" stroke="rgb(12,13,16)" stroke-width="1.2" opacity="0.41"/>
<line x1="6.75" y1="1.62" x2="13.74" y2="-0.44" stroke="rgb(112,134,131)" stroke-width="1.2" opacity="0.65"/>
<line x1="88.08" y1="64.4" x2="91.3" y2="55.08" stroke="rgb(18,20,24)" stroke-width="0.8" opacity="0.69"/>
<line x1="34.68" y1="60.79" x2="42.75" y2="53.54" stroke="rgb(148,154,185)" stroke-width="1.2" opacity="0.43"/>
<line x1="68.73" y1="46.54" x2="72.19" y2="41.23" stroke="rgb(57,56,46)" stroke-width="0.8" opacity="0.57"/>
<line x1="-1.01" y1="4.29" x2="7.6" y2="1.16" stroke="rgb(36,52,96)" stroke-width="1.0" opacity="0.46"/>
<line x1="96.36" y1="2.9" x2="102.8" y2="-4.41" stroke="rgb(13,14,17)" stroke-width="1.0" opacity="0.74"/>
<line x1="69.21" y1="97.41" x2="71.47" y2="94.03" stroke="rgb(73,70,57)" stroke-width="1.0" opacity="0.66"/>
<line x1="34.22" y1="7.36" x2="42.03" y2="6.11" stroke="rgb(179,154,87)" stroke-width="1.0" opacity="0.55"/>
<line x1="77.97" y1="10.85" x2="83.02" y2="6.94" stroke="rgb(33,36,40)" stroke-width="1.2" opacity="0.52"/>
<line x1="96.81" y1="77.34" x2="97.45" y2="71.69" stroke="rgb(15,17,20)" stroke-width="1.2" opacity="0.75"/>
<line x1="-1.58" y1="102.4" x2="5.73" y2="96.76" stroke="rgb(159,176,116)" stroke-width="0.6" opacity="0.59"/>
<line x1="53.94" y1="76.7" x2="58.86" y2="68.89" stroke="rgb(72,69,55)" stroke-width="0.8" opacity="0.56"/>
<line x1="1.81" y1="72.62" x2="8.51" y2="66.22" stroke="rgb(49,62,81)" stroke-width="1.0" opacity="0.50"/>
<line x1="28.94" y1="15.34" x2="32.99" y2="12.84" stroke="rgb(79,68,38)" stroke-width="1.0" opacity="0.65"/>
<line x1="30.81" y1="6.69" x2="38.56" y2="4.5" stroke="rgb(132,140,177)" stroke-width="1.0" opacity="0.45"/>
<line x1="12.14" y1="49.62" x2="17.64" y2="44.51" stroke="rgb(35,48,79)" stroke-width="0.8" opacity="0.49"/>
<line x1="42.28" y1="9.97" x2="47.16" y2="6.84" stroke="rgb(159,167,203)" stroke-width="1.2" opacity="0.62"/>
<line x1="-7.47" y1="2.52" x2="1.55" y2="-1.23" stroke="rgb(116,146,178)" stroke-width="0.8" opacity="0.74"/>
<line x1="34.75" y1="88.11" x2="40.65" y2="82.58" stroke="rgb(48,42,23)" stroke-width="0.8" opacity="0.61"/>
<line x1="67.52" y1="104.95" x2="71.18" y2="96.52" stroke="rgb(48,46,37)" stroke-width="1.2" opacity="0.65"/>
<line x1="106.15" y1="12.28" x2="110.09" y2="3.38" stroke="rgb(118,124,138)" stroke-width="1.2" opacity="0.49"/>
<line x1="74.97" y1="82.27" x2="77.6" y2="73.78" stroke="rgb(28,30,33)" stroke-width="1.2" opacity="0.55"/>
<line x1="96.43" y1="27.56" x2="102.14" y2="20.13" stroke="rgb(19,21,24)" stroke-width="0.8" opacity="0.53"/>
<line x1="28.24" y1="-0.94" x2="34.75" y2="-2.16" stroke="rgb(207,178,102)" stroke-width="0.8" opacity="0.64"/>
<line x1="60.82" y1="30.41" x2="66.67" y2="24.79" stroke="rgb(92,88,72)" stroke-width="1.2" opacity="0.52"/>
<line x1="90.52" y1="77.11" x2="94.67" y2="69.3" stroke="rgb(16,18,21)" stroke-width="1.0" opacity="0.41"/>
<line x1="-2.67" y1="51.34" x2="5.61" y2="45.11" stroke="rgb(103,139,228)" stroke-width="1.2" opacity="0.75"/>
<line x1="10.42" y1="41.61" x2="20.28" y2="37.18" stroke="rgb(137,152,115)" stroke-width="0.6" opacity="0.43"/>
<line x1="70.26" y1="18.16" x2="76.92" y2="13.98" stroke="rgb(53,53,48)" stroke-width="0.8" opacity="0.59"/>
<line x1="97.23" y1="17.88" x2="102.02" y2="10.34" stroke="rgb(39,42,47)" stroke-width="0.6" opacity="0.65"/>
<line x1="9.13" y1="79.74" x2="15.41" y2="75.08" stroke="rgb(118,146,189)" stroke-width="1.0" opacity="0.54"/>
<line x1="0.39" y1="15.56" x2="7.21" y2="13.98" stroke="rgb(45,58,71)" stroke-width="0.8" opacity="0.59"/>
<line x1="102.78" y1="72.36" x2="104.38" y2="64.52" stroke="rgb(77,82,92)" stroke-width="0.6" opacity="0.75"/>
<line x1="42.03" y1="19.18" x2="51.58" y2="15.23" stroke="rgb(63,61,55)" stroke-width="0.6" opacity="0.74"/>
<line x1="33.24" y1="90.37" x2="37.09" y2="85.67" stroke="rgb(91,81,49)" stroke-width="0.6" opacity="0.47"/>
<line x1="7.97" y1="94.12" x2="16.48" y2="88.24" stroke="rgb(168,190,136)" stroke-width="0.6" opacity="0.54"/>
<line x1="62.99" y1="102.48" x2="64.82" y2="98.05" stroke="rgb(44,48,62)" stroke-width="1.0" opacity="0.56"/>
<line x1="41.81" y1="-1.32" x2="51.47" y2="-2.7" stroke="rgb(154,146,126)" stroke-width="1.0" opacity="0.68"/>
<line x1="45.29" y1="88.95" x2="49.67" y2="83" stroke="rgb(91,78,44)" stroke-width="0.6" opacity="0.69"/>
<line x1="109.92" y1="63.57" x2="111.93" y2="55.53" stroke="rgb(104,110,123)" stroke-width="1.2" opacity="0.44"/>
<line x1="-6.27" y1="86.04" x2="-1.44" y2="83.02" stroke="rgb(177,195,128)" stroke-width="1.2" opacity="0.69"/>
<line x1="34.91" y1="45.82" x2="39.98" y2="42.32" stroke="rgb(170,171,184)" stroke-width="0.8" opacity="0.40"/>
<line x1="29.76" y1="91.77" x2="33.91" y2="88.27" stroke="rgb(118,145,177)" stroke-width="0.8" opacity="0.40"/>
<line x1="28.64" y1="15.83" x2="37.24" y2="11.25" stroke="rgb(49,52,67)" stroke-width="0.6" opacity="0.51"/>
<line x1="83.77" y1="55.67" x2="86.22" y2="49.61" stroke="rgb(99,106,118)" stroke-width="1.0" opacity="0.72"/>
<line x1="78.79" y1="19.81" x2="85.89" y2="13.77" stroke="rgb(36,38,43)" stroke-width="1.0" opacity="0.63"/>
<line x1="30.61" y1="41.45" x2="34.53" y2="38.87" stroke="rgb(59,51,29)" stroke-width="0.8" opacity="0.44"/>
<line x1="106.03" y1="85.96" x2="107.51" y2="81.52" stroke="rgb(103,109,122)" stroke-width="0.8" opacity="0.47"/>
<line x1="75.13" y1="52.07" x2="77.18" y2="47.21" stroke="rgb(118,125,139)" stroke-width="0.8" opacity="0.52"/>
<line x1="75.33" y1="62.1" x2="78.36" y2="56.69" stroke="rgb(32,34,40)" stroke-width="1.2" opacity="0.54"/>
<line x1="81.93" y1="29.16" x2="86.59" y2="24.82" stroke="rgb(28,30,35)" stroke-width="1.0" opacity="0.51"/>
<line x1="62.55" y1="21.87" x2="68.2" y2="18.85" stroke="rgb(123,126,129)" stroke-width="1.0" opacity="0.69"/>
<line x1="98.58" y1="8.05" x2="103.24" y2="3.83" stroke="rgb(34,36,41)" stroke-width="1.0" opacity="0.44"/>
<line x1="17.7" y1="25.52" x2="26.01" y2="19.86" stroke="rgb(189,163,92)" stroke-width="0.6" opacity="0.58"/>
<line x1="50.38" y1="72.25" x2="55.74" y2="64.14" stroke="rgb(73,72,70)" stroke-width="0.8" opacity="0.68"/>
<line x1="85.07" y1="-0.69" x2="91.71" y2="-3.78" stroke="rgb(17,19,23)" stroke-width="0.6" opacity="0.71"/>
<line x1="2.49" y1="29.15" x2="7.25" y2="27.45" stroke="rgb(124,146,129)" stroke-width="0.6" opacity="0.69"/>
<line x1="109.45" y1="60.82" x2="110.39" y2="55.72" stroke="rgb(72,77,86)" stroke-width="1.2" opacity="0.49"/>
<line x1="106.08" y1="77.82" x2="107.75" y2="69.41" stroke="rgb(74,79,89)" stroke-width="1.2" opacity="0.44"/>
<line x1="8.32" y1="8.44" x2="14.46" y2="7.81" stroke="rgb(33,48,90)" stroke-width="1.2" opacity="0.40"/>
<line x1="79.77" y1="5.79" x2="84.04" y2="3.45" stroke="rgb(91,96,108)" stroke-width="1.2" opacity="0.58"/>
<line x1="27.84" y1="89.97" x2="32.92" y2="82.56" stroke="rgb(66,74,56)" stroke-width="0.6" opacity="0.59"/>
<line x1="77.13" y1="48.12" x2="82.06" y2="40.17" stroke="rgb(138,146,162)" stroke-width="0.8" opacity="0.59"/>
<line x1="100.47" y1="17.76" x2="107.18" y2="10.22" stroke="rgb(83,88,98)" stroke-width="1.2" opacity="0.62"/>
<line x1="78.78" y1="101.05" x2="83.39" y2="92.05" stroke="rgb(31,33,37)" stroke-width="1.0" opacity="0.68"/>
<line x1="41.19" y1="80.59" x2="45.33" y2="73.52" stroke="rgb(60,64,81)" stroke-width="1.2" opacity="0.62"/>
<line x1="-3.31" y1="91.14" x2="3.11" y2="87.2" stroke="rgb(73,81,53)" stroke-width="1.2" opacity="0.69"/>
<line x1="15.58" y1="66.99" x2="23.16" y2="59.46" stroke="rgb(130,150,123)" stroke-width="0.6" opacity="0.54"/>
<line x1="3.1" y1="16.8" x2="10.17" y2="15.62" stroke="rgb(31,46,86)" stroke-width="1.2" opacity="0.71"/>
<line x1="90.29" y1="69.22" x2="92.66" y2="59.05" stroke="rgb(15,17,20)" stroke-width="1.2" opacity="0.69"/>
<line x1="38.11" y1="87.95" x2="42.88" y2="81.37" stroke="rgb(175,151,86)" stroke-width="0.6" opacity="0.64"/>
<line x1="4.18" y1="29.43" x2="9.26" y2="25.96" stroke="rgb(33,46,78)" stroke-width="0.8" opacity="0.71"/>
<line x1="89.71" y1="29.21" x2="92.56" y2="24.12" stroke="rgb(97,103,114)" stroke-width="0.8" opacity="0.68"/>
<line x1="68.01" y1="104.18" x2="70.34" y2="94.44" stroke="rgb(201,193,156)" stroke-width="0.6" opacity="0.44"/>
<line x1="91.88" y1="66.74" x2="93.58" y2="57.2" stroke="rgb(94,100,111)" stroke-width="1.0" opacity="0.51"/>
<line x1="75.29" y1="58.54" x2="78.14" y2="54.06" stroke="rgb(103,109,121)" stroke-width="0.8" opacity="0.75"/>
<line x1="-0.69" y1="98.26" x2="3.72" y2="94.4" stroke="rgb(50,56,36)" stroke-width="0.6" opacity="0.57"/>
<line x1="93.67" y1="12.84" x2="96.46" y2="8.87" stroke="rgb(123,130,143)" stroke-width="0.8" opacity="0.56"/>
<line x1="58.03" y1="79.75" x2="60.03" y2="75.29" stroke="rgb(191,183,151)" stroke-width="0.6" opacity="0.40"/>
<line x1="33.74" y1="20.19" x2="38.73" y2="17.07" stroke="rgb(173,154,107)" stroke-width="0.8" opacity="0.58"/>
<line x1="36.76" y1="20.12" x2="41.32" y2="18.65" stroke="rgb(120,131,174)" stroke-width="0.6" opacity="0.64"/>
<line x1="97.93" y1="55.49" x2="102.24" y2="46.05" stroke="rgb(12,13,16)" stroke-width="0.6" opacity="0.61"/>
<line x1="89.06" y1="39.97" x2="91.38" y2="33.88" stroke="rgb(14,16,20)" stroke-width="1.2" opacity="0.57"/>
<line x1="25.14" y1="-0.05" x2="33.85" y2="-0.58" stroke="rgb(80,69,39)" stroke-width="0.6" opacity="0.75"/>
<line x1="15.62" y1="73.26" x2="24.26" y2="66.59" stroke="rgb(37,42,32)" stroke-width="1.0" opacity="0.74"/>
<line x1="110.74" y1="81.29" x2="110.65" y2="75.99" stroke="rgb(93,98,110)" stroke-width="0.6" opacity="0.41"/>
<line x1="93.26" y1="32.29" x2="99.93" y2="24.01" stroke="rgb(93,98,110)" stroke-width="1.2" opacity="0.66"/>
<line x1="103.37" y1="75.6" x2="105.82" y2="65.11" stroke="rgb(12,14,17)" stroke-width="1.2" opacity="0.67"/>
<line x1="71.99" y1="83.94" x2="75.59" y2="79.23" stroke="rgb(69,67,55)" stroke-width="1.0" opacity="0.73"/>
<line x1="42.7" y1="44.46" x2="46.36" y2="41.73" stroke="rgb(131,137,166)" stroke-width="0.6" opacity="0.57"/>
<line x1="52.01" y1="84.23" x2="54.69" y2="80.77" stroke="rgb(59,60,66)" stroke-width="0.6" opacity="0.49"/>
<line x1="11.6" y1="29.4" x2="18.04" y2="26.26" stroke="rgb(147,182,226)" stroke-width="1.2" opacity="0.64"/>
<line x1="10.5" y1="85.1" x2="16.71" y2="78.88" stroke="rgb(92,122,202)" stroke-width="0.6" opacity="0.48"/>
<line x1="83.25" y1="78.03" x2="87.42" y2="68.76" stroke="rgb(29,31,36)" stroke-width="0.8" opacity="0.45"/>
<line x1="103.48" y1="43.25" x2="106.14" y2="38.47" stroke="rgb(12,13,16)" stroke-width="0.6" opacity="0.73"/>
<line x1="80.61" y1="80.19" x2="82.62" y2="74.32" stroke="rgb(88,94,106)" stroke-width="0.8" opacity="0.55"/>
<line x1="5.72" y1="49.42" x2="12.32" y2="45.1" stroke="rgb(136,160,144)" stroke-width="1.2" opacity="0.74"/>
<line x1="59.27" y1="29.97" x2="65.91" y2="26.06" stroke="rgb(210,202,163)" stroke-width="0.8" opacity="0.66"/>
<line x1="20.04" y1="69.6" x2="26.3" y2="62.99" stroke="rgb(75,65,37)" stroke-width="1.0" opacity="0.44"/>
<line x1="95.24" y1="24.53" x2="98.78" y2="19.57" stroke="rgb(34,36,40)" stroke-width="1.2" opacity="0.69"/>
<line x1="84.02" y1="50.94" x2="88.76" y2="41.74" stroke="rgb(18,20,24)" stroke-width="0.6" opacity="0.63"/>
<line x1="77.84" y1="18.89" x2="82.44" y2="15.98" stroke="rgb(95,102,114)" stroke-width="1.0" opacity="0.41"/>
<line x1="94.27" y1="85.83" x2="95.69" y2="76.27" stroke="rgb(142,150,166)" stroke-width="1.0" opacity="0.43"/>
<line x1="106.78" y1="23.6" x2="108.03" y2="19.55" stroke="rgb(96,102,114)" stroke-width="1.2" opacity="0.70"/>
<line x1="75.57" y1="85.04" x2="78.24" y2="78.64" stroke="rgb(123,126,127)" stroke-width="1.2" opacity="0.73"/>
<line x1="39.6" y1="85.39" x2="43.86" y2="79.67" stroke="rgb(194,167,94)" stroke-width="0.6" opacity="0.57"/>
<line x1="30.27" y1="86.43" x2="37.27" y2="80.59" stroke="rgb(79,68,39)" stroke-width="1.0" opacity="0.63"/>
<line x1="-1.27" y1="47.4" x2="4.5" y2="45.38" stroke="rgb(65,75,54)" stroke-width="1.2" opacity="0.45"/>
<line x1="104.92" y1="39.32" x2="108.69" y2="30.23" stroke="rgb(131,139,153)" stroke-width="1.0" opacity="0.54"/>
<line x1="64.98" y1="63.45" x2="69.3" y2="55.32" stroke="rgb(122,125,126)" stroke-width="0.6" opacity="0.67"/>
<line x1="0.44" y1="39.39" x2="4.64" y2="37.06" stroke="rgb(126,149,131)" stroke-width="0.8" opacity="0.66"/>
<line x1="-6.24" y1="57.11" x2="0.54" y2="53.45" stroke="rgb(154,175,121)" stroke-width="0.6" opacity="0.56"/>
<line x1="109.43" y1="86.8" x2="109.74" y2="77.72" stroke="rgb(132,139,154)" stroke-width="0.6" opacity="0.61"/>
<line x1="87.53" y1="91.71" x2="89.2" y2="86.38" stroke="rgb(103,109,121)" stroke-width="0.6" opacity="0.64"/>
<line x1="40.3" y1="94.52" x2="42.67" y2="91.14" stroke="rgb(181,155,88)" stroke-width="0.6" opacity="0.57"/>
<line x1="33.14" y1="104" x2="37.16" y2="97.77" stroke="rgb(61,68,52)" stroke-width="0.6" opacity="0.51"/>
<line x1="73.83" y1="14.98" x2="79.48" y2="11.31" stroke="rgb(140,144,148)" stroke-width="1.0" opacity="0.72"/>
<line x1="0.9" y1="69.59" x2="5.11" y2="67.13" stroke="rgb(148,178,209)" stroke-width="1.2" opacity="0.62"/>
<line x1="41.66" y1="13.83" x2="49.36" y2="10.26" stroke="rgb(136,137,142)" stroke-width="1.0" opacity="0.71"/>
<line x1="40.64" y1="60.96" x2="43.85" y2="58.46" stroke="rgb(43,45,57)" stroke-width="1.2" opacity="0.71"/>
<line x1="26.35" y1="21.93" x2="31.71" y2="19.68" stroke="rgb(154,154,106)" stroke-width="1.0" opacity="0.48"/>
<line x1="33.94" y1="28.79" x2="41.76" y2="25.25" stroke="rgb(135,144,185)" stroke-width="0.6" opacity="0.70"/>
<line x1="77.65" y1="25.75" x2="81.91" y2="21.4" stroke="rgb(94,100,112)" stroke-width="0.8" opacity="0.48"/>
<line x1="24.35" y1="60.72" x2="30.69" y2="53.15" stroke="rgb(195,167,95)" stroke-width="1.2" opacity="0.65"/>
<line x1="0.57" y1="94.3" x2="6.17" y2="86.71" stroke="rgb(82,90,59)" stroke-width="1.0" opacity="0.57"/>
<line x1="30.28" y1="38.95" x2="33.61" y2="35.91" stroke="rgb(199,171,98)" stroke-width="1.0" opacity="0.55"/>
<line x1="109.52" y1="105.57" x2="109.98" y2="95.56" stroke="rgb(18,20,24)" stroke-width="1.0" opacity="0.53"/>
<line x1="34.63" y1="68.12" x2="39.1" y2="62.74" stroke="rgb(129,135,162)" stroke-width="0.6" opacity="0.60"/>
<line x1="6.62" y1="64.3" x2="16.13" y2="59.01" stroke="rgb(55,69,83)" stroke-width="1.2" opacity="0.41"/>
<line x1="53.65" y1="40.24" x2="58.54" y2="35.1" stroke="rgb(171,168,156)" stroke-width="0.8" opacity="0.74"/>
<line x1="48.36" y1="81.46" x2="54.84" y2="74.86" stroke="rgb(196,188,152)" stroke-width="1.0" opacity="0.49"/>
<line x1="108.52" y1="12.5" x2="113.22" y2="5.5" stroke="rgb(85,91,101)" stroke-width="1.2" opacity="0.47"/>
<line x1="89.2" y1="65.77" x2="92.17" y2="56.48" stroke="rgb(15,17,20)" stroke-width="1.2" opacity="0.64"/>
<line x1="10.08" y1="42.99" x2="16.55" y2="37.86" stroke="rgb(99,133,219)" stroke-width="1.0" opacity="0.58"/>
<line x1="4.42" y1="95.4" x2="11.49" y2="87.27" stroke="rgb(75,83,55)" stroke-width="1.2" opacity="0.43"/>
<line x1="64.3" y1="28.21" x2="68.82" y2="22.84" stroke="rgb(193,187,155)" stroke-width="1.2" opacity="0.49"/>
<line x1="75.44" y1="62.76" x2="81.38" y2="55.48" stroke="rgb(144,152,168)" stroke-width="0.8" opacity="0.45"/>
<line x1="92.08" y1="12.44" x2="94.99" y2="9.67" stroke="rgb(129,136,150)" stroke-width="0.8" opacity="0.66"/>
<line x1="97.78" y1="-0.77" x2="102.9" y2="-5.33" stroke="rgb(33,35,40)" stroke-width="1.2" opacity="0.41"/>
<line x1="52.95" y1="56.05" x2="57.91" y2="48.31" stroke="rgb(80,77,64)" stroke-width="0.6" opacity="0.65"/>
<line x1="81.54" y1="13.11" x2="85.37" y2="8.85" stroke="rgb(46,49,55)" stroke-width="1.0" opacity="0.64"/>
<line x1="54.44" y1="29.51" x2="59.65" y2="24.1" stroke="rgb(189,182,148)" stroke-width="1.2" opacity="0.50"/>
<line x1="74.71" y1="68.28" x2="77.19" y2="61.87" stroke="rgb(58,59,56)" stroke-width="0.6" opacity="0.51"/>
<line x1="81.15" y1="0.64" x2="87.79" y2="-4.86" stroke="rgb(17,19,23)" stroke-width="0.6" opacity="0.70"/>
<line x1="5.74" y1="79.03" x2="11.54" y2="74.24" stroke="rgb(182,200,132)" stroke-width="1.2" opacity="0.49"/>
<line x1="73.39" y1="73.43" x2="77.23" y2="66.87" stroke="rgb(131,134,133)" stroke-width="0.6" opacity="0.56"/>
<line x1="105.36" y1="56.1" x2="107.23" y2="51.53" stroke="rgb(12,13,16)" stroke-width="0.8" opacity="0.64"/>
<line x1="45.56" y1="69.33" x2="48.87" y2="64.83" stroke="rgb(53,55,67)" stroke-width="0.8" opacity="0.42"/>
<line x1="107.91" y1="22.6" x2="110.88" y2="15.68" stroke="rgb(117,124,137)" stroke-width="1.0" opacity="0.55"/>
<line x1="76.67" y1="61.91" x2="79.86" y2="54.23" stroke="rgb(90,96,107)" stroke-width="1.0" opacity="0.57"/>
<line x1="5.29" y1="75.53" x2="12.16" y2="71.19" stroke="rgb(115,135,135)" stroke-width="1.0" opacity="0.47"/>
<line x1="-1.24" y1="89.22" x2="3.87" y2="85.79" stroke="rgb(160,177,115)" stroke-width="0.8" opacity="0.54"/>
<line x1="51.71" y1="69.3" x2="57" y2="63.58" stroke="rgb(141,142,149)" stroke-width="0.8" opacity="0.75"/>
<line x1="-2.77" y1="56.89" x2="3.24" y2="53.18" stroke="rgb(155,178,126)" stroke-width="0.8" opacity="0.71"/>
<line x1="87.6" y1="3.57" x2="94.46" y2="-1.85" stroke="rgb(24,25,29)" stroke-width="0.6" opacity="0.54"/>
<line x1="75.63" y1="37.84" x2="81.52" y2="29.73" stroke="rgb(80,86,97)" stroke-width="0.8" opacity="0.70"/>
<line x1="31.44" y1="74.23" x2="35.8" y2="68.73" stroke="rgb(156,154,159)" stroke-width="0.6" opacity="0.58"/>
<line x1="35.18" y1="52.42" x2="42.77" y2="45.58" stroke="rgb(148,154,184)" stroke-width="0.6" opacity="0.46"/>
<line x1="5.14" y1="72.45" x2="12.69" y2="67.92" stroke="rgb(61,68,45)" stroke-width="0.6" opacity="0.62"/>
<line x1="60.08" y1="47.89" x2="64.28" y2="44.21" stroke="rgb(81,78,63)" stroke-width="0.6" opacity="0.70"/>
<line x1="-7.68" y1="1.55" x2="-0.11" y2="-0.24" stroke="rgb(170,193,132)" stroke-width="1.0" opacity="0.42"/>
<line x1="15.47" y1="20.85" x2="25.71" y2="18.61" stroke="rgb(84,73,41)" stroke-width="0.6" opacity="0.51"/>
<line x1="106.4" y1="98.56" x2="108.51" y2="88.72" stroke="rgb(131,139,154)" stroke-width="0.6" opacity="0.42"/>
<line x1="37.74" y1="25.72" x2="45.77" y2="20.75" stroke="rgb(55,61,82)" stroke-width="1.2" opacity="0.66"/>
<line x1="31.73" y1="34.72" x2="36.82" y2="31.78" stroke="rgb(139,146,177)" stroke-width="1.2" opacity="0.70"/>
<line x1="-7.85" y1="24.67" x2="1.53" y2="20.01" stroke="rgb(92,128,226)" stroke-width="0.8" opacity="0.51"/>
<line x1="108.01" y1="88.15" x2="110.14" y2="78.31" stroke="rgb(90,96,107)" stroke-width="0.6" opacity="0.75"/>
<line x1="7.9" y1="34.94" x2="16.42" y2="29.2" stroke="rgb(172,173,119)" stroke-width="0.6" opacity="0.49"/>
<line x1="25.5" y1="98.03" x2="32.47" y2="89.63" stroke="rgb(53,66,80)" stroke-width="0.8" opacity="0.49"/>
<line x1="75.63" y1="101.9" x2="80.58" y2="93.93" stroke="rgb(57,55,45)" stroke-width="1.2" opacity="0.51"/>
<line x1="62.79" y1="96.94" x2="67.48" y2="89.02" stroke="rgb(181,174,141)" stroke-width="1.0" opacity="0.51"/>
<line x1="47.5" y1="28.14" x2="54.52" y2="24.6" stroke="rgb(79,76,61)" stroke-width="1.0" opacity="0.70"/>
<line x1="94.54" y1="91.6" x2="96.19" y2="86.64" stroke="rgb(37,40,45)" stroke-width="1.0" opacity="0.74"/>
<line x1="73.33" y1="46.15" x2="77.35" y2="41" stroke="rgb(107,114,127)" stroke-width="0.8" opacity="0.66"/>
<line x1="52.61" y1="74.48" x2="57.65" y2="69.27" stroke="rgb(202,194,157)" stroke-width="0.6" opacity="0.57"/>
<line x1="93.14" y1="60.66" x2="94.46" y2="56.59" stroke="rgb(83,88,99)" stroke-width="1.0" opacity="0.67"/>
<line x1="102.12" y1="47.66" x2="106.17" y2="37.49" stroke="rgb(12,13,16)" stroke-width="1.0" opacity="0.62"/>
<line x1="6.14" y1="100.22" x2="14.34" y2="93.03" stroke="rgb(66,74,51)" stroke-width="0.8" opacity="0.48"/>
<line x1="88.24" y1="87.28" x2="90.55" y2="77.38" stroke="rgb(118,126,140)" stroke-width="1.0" opacity="0.73"/>
<line x1="-4.67" y1="32.15" x2="3.38" y2="27.97" stroke="rgb(157,178,122)" stroke-width="0.8" opacity="0.64"/>
<line x1="60.52" y1="61.81" x2="65.15" y2="57.25" stroke="rgb(81,78,63)" stroke-width="0.8" opacity="0.67"/>
<line x1="57.11" y1="25.73" x2="62.88" y2="20.65" stroke="rgb(201,194,157)" stroke-width="0.8" opacity="0.53"/>
<line x1="23.64" y1="83.43" x2="29.78" y2="77.2" stroke="rgb(182,157,89)" stroke-width="1.2" opacity="0.56"/>
<line x1="-4.16" y1="23.28" x2="4.89" y2="18.97" stroke="rgb(35,45,57)" stroke-width="1.2" opacity="0.52"/>
<line x1="81.73" y1="86.33" x2="83.21" y2="78.75" stroke="rgb(106,113,126)" stroke-width="1.0" opacity="0.50"/>
<line x1="93.02" y1="89.38" x2="95.85" y2="83.7" stroke="rgb(83,89,100)" stroke-width="1.2" opacity="0.58"/>
<line x1="11.16" y1="9.26" x2="15.03" y2="8.25" stroke="rgb(118,148,197)" stroke-width="1.2" opacity="0.70"/>
<line x1="33.94" y1="78.7" x2="41.41" y2="71.74" stroke="rgb(161,147,115)" stroke-width="1.2" opacity="0.46"/>
<line x1="69.67" y1="57.09" x2="72.97" y2="49.78" stroke="rgb(36,38,43)" stroke-width="1.2" opacity="0.75"/>
<line x1="58.43" y1="43.77" x2="64.29" y2="38.11" stroke="rgb(209,200,162)" stroke-width="0.8" opacity="0.49"/>
<line x1="71.5" y1="43.38" x2="76.75" y2="37.21" stroke="rgb(102,109,121)" stroke-width="0.6" opacity="0.61"/>
<line x1="89.57" y1="73.07" x2="93.46" y2="64.38" stroke="rgb(139,147,163)" stroke-width="1.0" opacity="0.61"/>
<line x1="58.79" y1="24.54" x2="66.15" y2="18.49" stroke="rgb(145,147,141)" stroke-width="1.2" opacity="0.54"/>
<line x1="56.76" y1="73.56" x2="60.44" y2="66.81" stroke="rgb(70,67,54)" stroke-width="1.0" opacity="0.63"/>
<line x1="11.3" y1="70.15" x2="17.22" y2="64.09" stroke="rgb(48,55,46)" stroke-width="1.0" opacity="0.42"/>
<line x1="38.36" y1="3.5" x2="46.5" y2="0.22" stroke="rgb(129,137,173)" stroke-width="0.8" opacity="0.43"/>
<line x1="47.76" y1="13.27" x2="51.98" y2="10.79" stroke="rgb(150,158,191)" stroke-width="0.8" opacity="0.57"/>
<line x1="21.7" y1="71.33" x2="26.89" y2="64.99" stroke="rgb(51,49,32)" stroke-width="0.6" opacity="0.55"/>
<line x1="80" y1="5.56" x2="86.2" y2="2.6" stroke="rgb(120,128,142)" stroke-width="0.8" opacity="0.61"/>
<line x1="-3.97" y1="32.89" x2="2.77" y2="31.22" stroke="rgb(149,170,117)" stroke-width="1.2" opacity="0.59"/>
<line x1="4.94" y1="50.52" x2="12.25" y2="43.8" stroke="rgb(121,151,200)" stroke-width="0.6" opacity="0.54"/>
<line x1="16.58" y1="11.88" x2="23.38" y2="9.88" stroke="rgb(90,77,44)" stroke-width="0.6" opacity="0.50"/>
<line x1="92.11" y1="44.03" x2="94.32" y2="37.36" stroke="rgb(108,114,127)" stroke-width="1.2" opacity="0.71"/>
<line x1="110.65" y1="38.08" x2="111.12" y2="31.85" stroke="rgb(12,13,16)" stroke-width="1.2" opacity="0.60"/>
<line x1="70.19" y1="14.09" x2="79.08" y2="9.09" stroke="rgb(60,61,61)" stroke-width="0.8" opacity="0.52"/>
<line x1="78.03" y1="2.74" x2="86.44" y2="-3.38" stroke="rgb(21,23,27)" stroke-width="1.2" opacity="0.46"/>
<line x1="82.19" y1="10.33" x2="85" y2="7.02" stroke="rgb(30,32,36)" stroke-width="1.2" opacity="0.50"/>
<line x1="36.9" y1="67.71" x2="42.93" y2="61.21" stroke="rgb(57,57,60)" stroke-width="1.0" opacity="0.55"/>
<line x1="-6.81" y1="28.08" x2="0.75" y2="24.88" stroke="rgb(159,183,130)" stroke-width="0.6" opacity="0.46"/>
<line x1="14.39" y1="6.46" x2="21.85" y2="3.56" stroke="rgb(124,158,226)" stroke-width="1.0" opacity="0.58"/>
<line x1="3.06" y1="18.82" x2="11.97" y2="13.79" stroke="rgb(23,33,58)" stroke-width="1.0" opacity="0.73"/>
<line x1="5.86" y1="48.49" x2="13.84" y2="43.75" stroke="rgb(50,53,38)" stroke-width="0.8" opacity="0.61"/>
<line x1="31.87" y1="54.9" x2="35.22" y2="52.61" stroke="rgb(165,159,152)" stroke-width="0.6" opacity="0.57"/>
<line x1="14.71" y1="27.96" x2="24.5" y2="24.37" stroke="rgb(73,75,53)" stroke-width="0.8" opacity="0.67"/>
<line x1="31.92" y1="97.54" x2="37.3" y2="92.3" stroke="rgb(179,154,87)" stroke-width="0.6" opacity="0.54"/>
<line x1="107.06" y1="43.56" x2="108.27" y2="39.74" stroke="rgb(77,82,92)" stroke-width="1.0" opacity="0.64"/>
<line x1="1.27" y1="31.39" x2="10.33" y2="27.98" stroke="rgb(107,144,220)" stroke-width="1.2" opacity="0.66"/>
<line x1="103.98" y1="68" x2="105.37" y2="61.33" stroke="rgb(12,13,16)" stroke-width="0.8" opacity="0.40"/>
<line x1="100.04" y1="29.14" x2="103.79" y2="19.61" stroke="rgb(94,100,112)" stroke-width="1.0" opacity="0.54"/>
<line x1="11.18" y1="42.96" x2="15.15" y2="40.66" stroke="rgb(177,172,114)" stroke-width="1.0" opacity="0.69"/>
<line x1="19.51" y1="39.77" x2="24.68" y2="36.28" stroke="rgb(187,161,92)" stroke-width="0.8" opacity="0.56"/>
<line x1="87.7" y1="65.34" x2="92.99" y2="55.77" stroke="rgb(16,18,21)" stroke-width="1.2" opacity="0.49"/>
<line x1="33.4" y1="13.24" x2="38.07" y2="11.74" stroke="rgb(187,161,91)" stroke-width="1.0" opacity="0.64"/>
<line x1="79.81" y1="59.69" x2="82.46" y2="54.41" stroke="rgb(22,24,28)" stroke-width="0.6" opacity="0.52"/>
<line x1="80.53" y1="76.83" x2="83.22" y2="71.4" stroke="rgb(47,49,52)" stroke-width="1.0" opacity="0.63"/>
<line x1="2.54" y1="80.52" x2="9.95" y2="74.24" stroke="rgb(174,192,128)" stroke-width="1.2" opacity="0.72"/>
<line x1="87.69" y1="10.62" x2="93.19" y2="7.16" stroke="rgb(106,113,125)" stroke-width="0.8" opacity="0.67"/>
<line x1="1.25" y1="79.61" x2="9.28" y2="73.87" stroke="rgb(45,50,36)" stroke-width="0.8" opacity="0.56"/>
<line x1="31.76" y1="45.02" x2="38" y2="40.29" stroke="rgb(38,40,49)" stroke-width="1.2" opacity="0.51"/>
<line x1="109.51" y1="42.92" x2="111.22" y2="33.82" stroke="rgb(124,131,144)" stroke-width="0.6" opacity="0.47"/>
<line x1="-1.26" y1="90.41" x2="7.16" y2="83.77" stroke="rgb(179,197,129)" stroke-width="1.0" opacity="0.59"/>
<line x1="-1.72" y1="29.66" x2="3.16" y2="28.59" stroke="rgb(42,49,35)" stroke-width="1.0" opacity="0.52"/>
<line x1="61.29" y1="6.82" x2="68.46" y2="4.38" stroke="rgb(52,50,45)" stroke-width="0.6" opacity="0.63"/>
<line x1="104.74" y1="54.55" x2="106.24" y2="47.1" stroke="rgb(105,112,124)" stroke-width="1.0" opacity="0.67"/>
<line x1="93.27" y1="17.37" x2="100.39" y2="10.61" stroke="rgb(32,34,38)" stroke-width="0.8" opacity="0.53"/>
<line x1="64.11" y1="103.81" x2="67.81" y2="96.97" stroke="rgb(44,47,58)" stroke-width="0.6" opacity="0.48"/>
<line x1="85.68" y1="87.89" x2="86.42" y2="83.15" stroke="rgb(19,21,25)" stroke-width="1.0" opacity="0.56"/>
<line x1="95.39" y1="50.9" x2="98.19" y2="44.54" stroke="rgb(12,13,16)" stroke-width="1.2" opacity="0.42"/>
<line x1="54.51" y1="48.69" x2="57.8" y2="44.97" stroke="rgb(183,176,142)" stroke-width="1.0" opacity="0.57"/>
<line x1="76.17" y1="4.74" x2="79.96" y2="2.12" stroke="rgb(24,26,29)" stroke-width="1.2" opacity="0.48"/>
<line x1="67.91" y1="17.16" x2="74.53" y2="11.77" stroke="rgb(69,70,66)" stroke-width="0.6" opacity="0.41"/>
<line x1="46" y1="7.08" x2="54.34" y2="3.49" stroke="rgb(142,132,112)" stroke-width="0.8" opacity="0.66"/>
<line x1="31.15" y1="-1.3" x2="38.43" y2="-2.61" stroke="rgb(162,150,122)" stroke-width="1.2" opacity="0.50"/>
<line x1="7.63" y1="36.38" x2="16.96" y2="31.68" stroke="rgb(161,194,212)" stroke-width="0.6" opacity="0.51"/>
<line x1="97.94" y1="67.99" x2="100.44" y2="62.9" stroke="rgb(13,14,17)" stroke-width="1.2" opacity="0.47"/>
<line x1="-5.27" y1="37.93" x2="0.87" y2="34.29" stroke="rgb(39,45,32)" stroke-width="1.2" opacity="0.42"/>
<line x1="0.16" y1="22.36" x2="7.41" y2="20.22" stroke="rgb(98,137,240)" stroke-width="0.6" opacity="0.72"/>
<line x1="52.72" y1="70.65" x2="56.12" y2="65.19" stroke="rgb(80,76,62)" stroke-width="0.8" opacity="0.71"/>
<line x1="73.6" y1="75.66" x2="78.57" y2="68.28" stroke="rgb(65,63,52)" stroke-width="1.2" opacity="0.74"/>
<line x1="102.85" y1="14.39" x2="107.47" y2="8.29" stroke="rgb(120,127,141)" stroke-width="0.8" opacity="0.45"/>
<line x1="40.97" y1="35.63" x2="46.76" y2="29.79" stroke="rgb(123,124,135)" stroke-width="1.0" opacity="0.51"/>
<line x1="31.05" y1="80.59" x2="36.17" y2="73.89" stroke="rgb(64,55,31)" stroke-width="0.6" opacity="0.47"/>
<line x1="103.09" y1="0.66" x2="109.23" y2="-8.39" stroke="rgb(88,94,105)" stroke-width="0.8" opacity="0.62"/>
<line x1="99.84" y1="40.33" x2="101.23" y2="34.54" stroke="rgb(106,112,125)" stroke-width="1.0" opacity="0.69"/>
<line x1="-4.43" y1="3.53" x2="1.84" y2="1.18" stroke="rgb(55,68,70)" stroke-width="0.6" opacity="0.48"/>
<line x1="85.74" y1="17.09" x2="91.48" y2="11.81" stroke="rgb(45,48,53)" stroke-width="0.8" opacity="0.55"/>
<line x1="57.44" y1="66.32" x2="60.92" y2="62.62" stroke="rgb(194,186,151)" stroke-width="1.2" opacity="0.59"/>
<line x1="16.87" y1="0.58" x2="20.85" y2="0.2" stroke="rgb(32,41,51)" stroke-width="1.2" opacity="0.64"/>
<line x1="81.67" y1="30.75" x2="85.53" y2="24.37" stroke="rgb(115,122,135)" stroke-width="0.6" opacity="0.53"/>
<line x1="52.96" y1="96.05" x2="56.8" y2="86.7" stroke="rgb(53,53,53)" stroke-width="0.8" opacity="0.45"/>
<line x1="38.31" y1="26.37" x2="43.89" y2="21.89" stroke="rgb(160,161,176)" stroke-width="0.8" opacity="0.61"/>
<line x1="84.59" y1="80.02" x2="85.74" y2="76.12" stroke="rgb(19,21,25)" stroke-width="1.2" opacity="0.60"/>
<line x1="97.94" y1="102.17" x2="98.66" y2="95.37" stroke="rgb(140,147,163)" stroke-width="0.6" opacity="0.68"/>
<line x1="101.19" y1="37.06" x2="102.89" y2="31.59" stroke="rgb(12,13,16)" stroke-width="1.0" opacity="0.54"/>
</g></svg>
<text x="326.9" y="329.6" font-size="10.8" text-anchor="start" fill="#fff" textLength="24.6" lengthAdjust="spacingAndGlyphs"  stroke="#fff" stroke-width="0.34">MSN</text>
<text x="436.4" y="329.6" font-size="10.8" text-anchor="start" fill="#fff" textLength="43.5" lengthAdjust="spacingAndGlyphs"  stroke="#fff" stroke-width="0.34">LC-MSN</text>
<text x="517.6" y="403.2" font-size="10.2" text-anchor="middle" fill="#fff" textLength="39" lengthAdjust="spacingAndGlyphs"  stroke="#fff" stroke-width="0.34">200 µm</text>
<rect x="509.5" y="408" width="23" height="4" fill="#fff"/>
<g fill="#7a48ae"><circle cx="320.1" cy="316.2" r="1.15"/><circle cx="320.1" cy="418.1" r="1.15"/><circle cx="325.16" cy="316.2" r="1.15"/><circle cx="325.16" cy="418.1" r="1.15"/><circle cx="330.22" cy="316.2" r="1.15"/><circle cx="330.22" cy="418.1" r="1.15"/><circle cx="335.28" cy="316.2" r="1.15"/><circle cx="335.28" cy="418.1" r="1.15"/><circle cx="340.34" cy="316.2" r="1.15"/><circle cx="340.34" cy="418.1" r="1.15"/><circle cx="345.4" cy="316.2" r="1.15"/><circle cx="345.4" cy="418.1" r="1.15"/><circle cx="350.45" cy="316.2" r="1.15"/><circle cx="350.45" cy="418.1" r="1.15"/><circle cx="355.51" cy="316.2" r="1.15"/><circle cx="355.51" cy="418.1" r="1.15"/><circle cx="360.57" cy="316.2" r="1.15"/><circle cx="360.57" cy="418.1" r="1.15"/><circle cx="365.63" cy="316.2" r="1.15"/><circle cx="365.63" cy="418.1" r="1.15"/><circle cx="370.69" cy="316.2" r="1.15"/><circle cx="370.69" cy="418.1" r="1.15"/><circle cx="375.75" cy="316.2" r="1.15"/><circle cx="375.75" cy="418.1" r="1.15"/><circle cx="380.81" cy="316.2" r="1.15"/><circle cx="380.81" cy="418.1" r="1.15"/><circle cx="385.87" cy="316.2" r="1.15"/><circle cx="385.87" cy="418.1" r="1.15"/><circle cx="390.93" cy="316.2" r="1.15"/><circle cx="390.93" cy="418.1" r="1.15"/><circle cx="395.99" cy="316.2" r="1.15"/><circle cx="395.99" cy="418.1" r="1.15"/><circle cx="401.05" cy="316.2" r="1.15"/><circle cx="401.05" cy="418.1" r="1.15"/><circle cx="406.1" cy="316.2" r="1.15"/><circle cx="406.1" cy="418.1" r="1.15"/><circle cx="411.16" cy="316.2" r="1.15"/><circle cx="411.16" cy="418.1" r="1.15"/><circle cx="416.22" cy="316.2" r="1.15"/><circle cx="416.22" cy="418.1" r="1.15"/><circle cx="421.28" cy="316.2" r="1.15"/><circle cx="421.28" cy="418.1" r="1.15"/><circle cx="426.34" cy="316.2" r="1.15"/><circle cx="426.34" cy="418.1" r="1.15"/><circle cx="431.4" cy="316.2" r="1.15"/><circle cx="431.4" cy="418.1" r="1.15"/><circle cx="436.46" cy="316.2" r="1.15"/><circle cx="436.46" cy="418.1" r="1.15"/><circle cx="441.52" cy="316.2" r="1.15"/><circle cx="441.52" cy="418.1" r="1.15"/><circle cx="446.58" cy="316.2" r="1.15"/><circle cx="446.58" cy="418.1" r="1.15"/><circle cx="451.64" cy="316.2" r="1.15"/><circle cx="451.64" cy="418.1" r="1.15"/><circle cx="456.7" cy="316.2" r="1.15"/><circle cx="456.7" cy="418.1" r="1.15"/><circle cx="461.75" cy="316.2" r="1.15"/><circle cx="461.75" cy="418.1" r="1.15"/><circle cx="466.81" cy="316.2" r="1.15"/><circle cx="466.81" cy="418.1" r="1.15"/><circle cx="471.87" cy="316.2" r="1.15"/><circle cx="471.87" cy="418.1" r="1.15"/><circle cx="476.93" cy="316.2" r="1.15"/><circle cx="476.93" cy="418.1" r="1.15"/><circle cx="481.99" cy="316.2" r="1.15"/><circle cx="481.99" cy="418.1" r="1.15"/><circle cx="487.05" cy="316.2" r="1.15"/><circle cx="487.05" cy="418.1" r="1.15"/><circle cx="492.11" cy="316.2" r="1.15"/><circle cx="492.11" cy="418.1" r="1.15"/><circle cx="497.17" cy="316.2" r="1.15"/><circle cx="497.17" cy="418.1" r="1.15"/><circle cx="502.23" cy="316.2" r="1.15"/><circle cx="502.23" cy="418.1" r="1.15"/><circle cx="507.29" cy="316.2" r="1.15"/><circle cx="507.29" cy="418.1" r="1.15"/><circle cx="512.35" cy="316.2" r="1.15"/><circle cx="512.35" cy="418.1" r="1.15"/><circle cx="517.4" cy="316.2" r="1.15"/><circle cx="517.4" cy="418.1" r="1.15"/><circle cx="522.46" cy="316.2" r="1.15"/><circle cx="522.46" cy="418.1" r="1.15"/><circle cx="527.52" cy="316.2" r="1.15"/><circle cx="527.52" cy="418.1" r="1.15"/><circle cx="532.58" cy="316.2" r="1.15"/><circle cx="532.58" cy="418.1" r="1.15"/><circle cx="537.64" cy="316.2" r="1.15"/><circle cx="537.64" cy="418.1" r="1.15"/><circle cx="542.7" cy="316.2" r="1.15"/><circle cx="542.7" cy="418.1" r="1.15"/><circle cx="320.1" cy="321.3" r="1.15"/><circle cx="542.7" cy="321.3" r="1.15"/><circle cx="320.1" cy="326.39" r="1.15"/><circle cx="542.7" cy="326.39" r="1.15"/><circle cx="320.1" cy="331.49" r="1.15"/><circle cx="542.7" cy="331.49" r="1.15"/><circle cx="320.1" cy="336.58" r="1.15"/><circle cx="542.7" cy="336.58" r="1.15"/><circle cx="320.1" cy="341.68" r="1.15"/><circle cx="542.7" cy="341.68" r="1.15"/><circle cx="320.1" cy="346.77" r="1.15"/><circle cx="542.7" cy="346.77" r="1.15"/><circle cx="320.1" cy="351.87" r="1.15"/><circle cx="542.7" cy="351.87" r="1.15"/><circle cx="320.1" cy="356.96" r="1.15"/><circle cx="542.7" cy="356.96" r="1.15"/><circle cx="320.1" cy="362.06" r="1.15"/><circle cx="542.7" cy="362.06" r="1.15"/><circle cx="320.1" cy="367.15" r="1.15"/><circle cx="542.7" cy="367.15" r="1.15"/><circle cx="320.1" cy="372.25" r="1.15"/><circle cx="542.7" cy="372.25" r="1.15"/><circle cx="320.1" cy="377.34" r="1.15"/><circle cx="542.7" cy="377.34" r="1.15"/><circle cx="320.1" cy="382.44" r="1.15"/><circle cx="542.7" cy="382.44" r="1.15"/><circle cx="320.1" cy="387.53" r="1.15"/><circle cx="542.7" cy="387.53" r="1.15"/><circle cx="320.1" cy="392.62" r="1.15"/><circle cx="542.7" cy="392.62" r="1.15"/><circle cx="320.1" cy="397.72" r="1.15"/><circle cx="542.7" cy="397.72" r="1.15"/><circle cx="320.1" cy="402.81" r="1.15"/><circle cx="542.7" cy="402.81" r="1.15"/><circle cx="320.1" cy="407.91" r="1.15"/><circle cx="542.7" cy="407.91" r="1.15"/><circle cx="320.1" cy="413" r="1.15"/><circle cx="542.7" cy="413" r="1.15"/></g>
</svg>
</body></html>
